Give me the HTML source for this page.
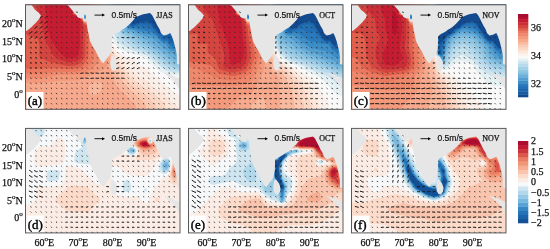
<!DOCTYPE html>
<html><head><meta charset="utf-8"><style>html,body{margin:0;padding:0;background:#fff;width:550px;height:249px;overflow:hidden}svg{display:block}</style></head>
<body>
<svg width="550" height="249" viewBox="0 0 550 249">
<style>.t{font-family:"Liberation Serif",serif;font-size:10px;fill:#111;stroke:#111;stroke-width:.25px}.s{font-family:"Liberation Sans",sans-serif;font-size:8.5px;fill:#111;stroke:#111;stroke-width:.2px}.m{font-family:"Liberation Serif",serif;font-size:8px;fill:#111;stroke:#111;stroke-width:.25px}.l{font-family:"Liberation Serif",serif;font-size:13px;fill:#000;stroke:#000;stroke-width:.4px}</style>
<defs><clipPath id="cp"><rect x="0" y="0" width="154.5" height="104.5"/></clipPath>
<g id="land"><g fill="#e6e6e6"><polygon points="-0.5,0.0 6.0,0.0 9.5,5.0 13.2,7.9 15.4,10.8 14.0,13.7 10.3,18.0 6.0,22.3 1.5,25.9 -0.5,26.7"/><polygon points="41.1,0.0 42.9,1.0 46.5,5.2 48.5,7.5 52.3,6.5 53.1,7.3 50.5,9.1 52.0,12.4 55.5,13.7 57.5,13.5 58.5,9.7 59.8,8.8 60.8,12.7 60.7,16.2 61.5,20.9 62.5,26.2 64.5,36.2 67.5,42.2 70.1,46.2 73.1,52.2 75.5,56.5 77.9,58.5 79.8,55.9 82.2,52.8 84.5,49.8 85.8,45.0 86.4,40.2 86.5,32.7 87.9,29.9 90.8,28.5 93.5,27.1 96.4,25.0 99.9,22.9 102.7,20.7 105.5,17.9 107.6,15.8 109.7,13.0 111.8,11.6 115.5,10.2 117.7,9.4 121.8,8.7 124.5,8.1 126.5,10.1 127.9,12.8 130.0,16.9 132.0,21.0 134.1,24.4 135.5,28.2 138.0,30.8 141.5,29.9 144.8,28.2 146.5,31.6 148.2,36.7 149.5,41.7 150.7,46.8 151.3,51.2 151.5,59.2 155.5,60.2 155.5,0.0"/><polygon points="86.0,50.7 88.0,51.7 90.5,55.2 92.0,59.2 91.5,63.2 89.5,66.0 87.0,65.7 85.2,62.7 84.8,58.2 85.3,54.2"/><polygon points="138.0,67.7 144.5,69.2 149.5,71.7 155.5,74.2 155.5,87.2 150.5,79.2 145.5,73.7 140.5,69.7"/></g></g></defs>
<g transform="translate(25.5 4.8)">
<g clip-path="url(#cp)">
<rect width="154.5" height="104.5" fill="#fff"/>
<rect x="-2" y="-2" width="158.5" height="108.5" fill="#12498f"/>
<path fill="#175aa0" d="M-2 -2L157 -2L157 107L-2 107ZM119 5.9L115 7.6L109 11.8L107.7 14L106.7 19L108 19.1L116 16.7L121 15.9L123 16.2L127 19L133 26.7L134 27.4L134.6 27L133.1 20L130.3 12L125 6.5L121 5.3Z"/>
<path fill="#1e66ac" d="M-2 -2L109.1 -2L109.4 8L106.5 14L105 18.7L105.1 20L106 20.8L107 20.8L115 18L123 17.6L126 19.6L132.5 28L135 29.5L136.1 29L136 26L132.2 13L129.7 7L130 -2L157 -2L157 107L-2 107ZM144 29.9L141 31.4L138 31.5L137.3 32L138 33.2L141 32.8L142 33.2L146 37.1L147 36.5L147.1 35L145.5 31Z"/>
<path fill="#2470b5" d="M-2 -2L105.3 -2L105.5 9L103.9 19L104.5 21L107 21.8L113 19.8L116 19.4L124 20.3L126 21.8L132 28.8L134.8 31L137 34.3L142 34.7L145 38.2L147 38.9L148 37.7L148.3 36L146.2 30L144 28.8L140 29.8L139 29.6L138 28.7L136 22.6L134.6 15L135.2 -2L157 -2L157 107L-2 107ZM59 11.8L59 12.2L60 12.4L60 11.6Z"/>
<path fill="#2b7bbc" d="M-2 -2L101.8 -2L101.9 13L103 16L103.1 20L104 22L106 22.7L114 21.7L126 24.4L128 25.8L133.3 31L136.4 35L138 35.7L142 36.1L146 40.9L147 41.8L148 41.8L149.4 36L147.5 30L145 27.6L140 28L139 27L138.1 23L138 19.7L140.2 13L140.4 -2L157 -2L157 107L-2 107ZM60 10.9L59 11L59 13L60 13.1Z"/>
<path fill="#3c8cc6" d="M-2 -2L99.5 -2L99.6 13L101.6 17L103 22.3L105 23.4L110 23.6L127 27.5L132.7 32L136 35.9L138 36.7L141 37L142 37.8L145.4 43L147 44.2L149.1 44L150.5 42L150.9 35L148.4 26L148.6 25L153 20.2L153.7 20L154 19.1L154.7 19L155 18L157 18L157 107L-2 107ZM59 10.7L58.9 13L60 13.4L60.2 11Z"/>
<path fill="#529ed0" d="M-2 -2L97.5 -2L97.6 13L98.3 15L100.5 18L102 22.8L103 23.8L109 24.9L113 26.7L129 31.4L132 33.4L136 37.5L140.2 39L144 44L147 45.9L150 45.9L154 43.2L157 42.4L157 107L-2 107ZM59 10.4L58.8 13L59 13.6L60 13.7L60.3 11L60 10.4Z"/>
<path fill="#68aed9" d="M-2 -2L95.6 -2L95.9 14L99.4 19L101 24L101.9 25L107.2 26L112 28.7L126.7 34L131 36.9L137.7 43L145.8 48L150 51.3L157 51.7L157 107L-2 107ZM59 10.1L58.6 13L59 13.9L60 14L60.4 11L60 10.1Z"/>
<path fill="#7cbbdf" d="M-2 -2L93.7 -2L93.9 14L98.7 21L99.4 26L100 26.6L106 27.5L111 30.7L123 36.3L131 42.7L138 46.9L149 54.8L151 55.4L157 55.4L157 107L-2 107ZM51 7.3L51 8.2L52.4 8L52 7.3ZM59 9.9L58.5 13L59 14.1L60 14.2L60.5 11L60 9.8Z"/>
<path fill="#91c6e3" d="M-2 -2L91.8 -2L92 14L93.4 17L97.3 22L97.7 26L99 27.9L105 29.4L134.8 48L141.3 53L149 58L151 58.5L157 58.6L157 107L-2 107ZM51 7L50.4 8L52.6 8L52.1 7ZM59 9.7L58.4 11L58.4 13L59 14.4L60 14.4L60.7 13L60.7 11L60 9.6Z"/>
<path fill="#a2cfe7" d="M-2 -2L90.1 -2L90.5 15L92 18.3L95.5 23L96.6 27L98 28.8L103 31.1L112 37.6L131.7 49L140 55.4L148 60.6L151 61.5L157 61.5L157 107L-2 107ZM51 6.9L50.2 8L52 8.5L52.8 8L52.3 7ZM59 9.5L58.3 11L58.3 13L59 14.6L60 14.6L60.8 13L60.8 11L60 9.4Z"/>
<path fill="#b6daec" d="M-2 -2L88.5 -2L88.8 15L90.7 20L93.4 24L95.1 28L97 30.4L111 40.8L122 45.8L129 50L139 57.8L145.4 62L150 63.7L157 63.9L157 107L-2 107ZM51 6.8L50 8L52 8.6L53 8L52.6 7ZM59 9.2L58.1 11L58.1 13L59 14.8L60 14.9L60.9 13L60.9 11L60 9.2Z"/>
<path fill="#c9e2ef" d="M-2 -2L86.9 -2L87.3 16L92 28.7L95 33.2L108 42.7L121 47.8L125 50L136.1 59L143 63.6L149 65.7L157 66L157 107L-2 107ZM51 6.7L50.2 7L50 8.1L52 8.7L53.2 8L52.8 7ZM60 9L59 9L58 11L58 13L59 15L60 15.1L61.1 13L61 11Z"/>
<path fill="#e5f0f3" d="M-2 -2L85.3 -2L85.3 13L85.9 18L89.5 32L93 37.4L97 40.3L105 44.8L122 50.7L129 57L140 65.5L148 67.8L157 68.1L157 107L-2 107ZM50 7L49.7 8L51 8.8L53.3 8L53 7L52 6.5ZM59 8.8L58 10.6L57.9 13L59 15.2L60 15.3L61 13.7L61.2 11L60 8.8Z"/>
<path fill="#f9f9fa" d="M-2 -2L83.7 -2L83.8 15L85.6 31L86.7 34L92 42.3L94 43.8L102 47.7L112 49.9L120 52.8L125 58.6L129.8 62L134 66.3L138 68.6L146 70.1L157 70.4L157 107L-2 107ZM50 6.9L49.6 8L51 9L52 9L53.5 8L53.2 7L52 6.4ZM59 8.6L58 10.2L57.8 13L59 15.5L60 15.5L61 14L61.3 11L60 8.6Z"/>
<path fill="#fbf0e9" d="M-2 -2L82.2 -2L82.8 33L91 45.7L93 48L102 52.8L109.3 54L110.2 55L112 60.4L119 62L121 63L125.4 68L130.9 72L138.3 79L144.9 84L150 89.4L157 89.9L157 107L-2 107ZM50 6.7L49.4 8L50.8 9L52.2 9L53.6 8L53.4 7L52 6.3ZM59 8.4L57.9 10L57.7 13L59 15.7L60 15.7L61.2 14L61.4 11L60.6 9L60 8.3Z"/>
<path fill="#fce5d9" d="M-2 -2L80.8 -2L81 33.2L83 38L92 51.6L96.5 56L101 63.3L106.9 67L112 71.3L120 75.5L127.5 82L138 88.5L155 105L155 107L-2 107ZM50 6.6L49.3 8L50.5 9L52 9.2L53.8 8L53 6.6ZM59 8.2L57.8 10L57.6 13L58.2 15L59 15.9L60 16L61.3 14L61.5 11L60.8 9L60 8.1Z"/>
<path fill="#fbd8c6" d="M-2 -2L79.5 -2L79.5 32L80 35L82 40.3L88 48.4L92 56.8L100 67.3L111 77.3L129.8 90L138.2 98L139.9 101L140 107L-2 107ZM50 6.5L49.1 8L50.1 9L52 9.3L54 8L53 6.4ZM59 7.9L57.6 10L57.4 13L58 15L59 16.1L60 16.2L61.5 14L61.6 11L61 9L60 7.9Z"/>
<path fill="#facab5" d="M-2 -2L78.2 -2L78.3 33L80.9 42L87 50L90 58.4L92 62.2L101 73.9L110 82.9L121.4 91L129.4 99L130.3 101L130.4 107L-2 107ZM50 6.3L49.1 7L48.9 8L50 9.1L52 9.4L54.1 8L53.9 7L53 6.3ZM59 7.7L57.5 10L57.3 13L58 15.3L59 16.4L60 16.5L61.6 14L61.8 11L61 8.6L60 7.6Z"/>
<path fill="#f8b99f" d="M-2 -2L76.9 -2L77 33L79 42L80 44L85.7 51L89.7 65L96.6 76L105.8 86L112.8 92L119.7 99L120.6 101L120.7 107L-2 107ZM51 5.9L49 7L49 8.3L51 9.5L53.5 9L54.3 8L54.1 7L53 6.2ZM59 7.4L57.4 10L57.2 13L58 15.6L59 16.7L60 16.7L61.5 15L61.9 11L61 8.3L60 7.4Z"/>
<path fill="#f6a98d" d="M-2 -2L75.6 -2L75.7 33L77.4 43L79.1 46L83 49.9L84.3 52L85.9 68L89 77L95 85.6L101 90.6L105 95.4L110.2 100L110.7 102L110.7 107L-2 107ZM51 5.8L48.7 7L49 8.6L51 9.6L53.7 9L54.5 8L54.4 7L53 6ZM59 7.2L57.5 9L57.1 13L58 15.9L59 16.9L60 17L61.7 15L62 11L61 8L60 7.1ZM71 76.8L63.6 81L63 84L64 89L67 89.8L71.4 90L73 89.3L75 86.8L76.6 83L76.7 80L74 77Z"/>
<path fill="#f3997c" d="M-2 -2L74.3 -2L74.7 38L75.4 43L76.4 46L78 48.5L81.2 51L82.5 53L82 59.3L81 62.2L79 64L73 66.5L68 69.5L53 75.8L35 76L15 78.3L-2 78.4ZM50 5.9L48.5 7L48.4 8L50 9.5L53 9.6L54.7 8L54.6 7L53 5.9ZM59 6.9L57.3 9L57 13L58 16.4L59 17.3L60 17.4L61.8 15L62.3 11L61 7.6L60 6.8Z"/>
<path fill="#ef896d" d="M-2 -2L72.9 -2L73.1 40L74 47.5L76 52L75.7 54L68.9 62L66 64.6L61 67.3L55 69.2L50 69.8L33 69.9L14 73.6L-2 73.6ZM50 5.7L48.3 7L48.2 8L50 9.7L53 9.7L54.9 8L54.8 7L53 5.7ZM59 6.5L57.1 9L56.7 13L58 16.8L59 17.7L60 17.8L61.7 16L62.5 11L61 7.2L60 6.4Z"/>
<path fill="#ea795f" d="M-2 -2L71 -2L70.7 15L69.2 34L69.1 51L68 54L63 61.2L58 64.6L52 66.6L43 67.1L33 66.6L14 68.8L-2 68.9ZM50 5.5L48.1 7L48 8L49 9.4L51 10L53 9.9L54.7 9L55.3 8L55 7L53 5.5ZM58 6.9L56.6 10L56.7 14L58 17.3L60 18.3L61.6 17L62.5 15L62.6 10L61 6.7L59 6.1Z"/>
<path fill="#e15f4d" d="M-2 -2L68.3 -2L67.4 15L63.3 33L62.9 52L61 56.4L58.3 60L55.7 62L53 63.2L45 64.3L33 63.4L-2 64.1ZM49 5.8L47.8 7L47.7 8L48.2 9L50 10L52 10.3L54 9.7L55.7 8L55.5 7L53 5.3L51 5.2ZM59 5.6L56.7 8L56.3 13L57.4 17L59 18.7L60 18.9L61.5 18L62.7 16L63.1 12L62.7 9L61.8 7L60 5.5Z"/>
<path fill="#d54540" d="M-1 -2L65.5 -2L65.3 7L65 9L64 10.9L62.6 7L60 4.8L56 7.1L54 5.4L52 5L49 5.5L47.5 7L47.9 9L50 10.3L53 10.4L56 9.3L56.3 15L57.5 18L59 19.7L61.7 21L60.1 33L59.6 51L58.5 54L55.3 58L52 60L45 61.3L42 61.3L26 57.8L18.4 55L14.2 52L13.7 51L14 42L13 35L12 33.9L5.1 32L.3 29L0 28.1L-1 28Z"/>
<path fill="#cc2e38" d="M11.3 -2L62.3 -2L62 3.1L59 3.8L56 6L53 4.7L50 4.8L48 5.8L47.1 7L47.4 9L50 10.7L53 10.7L55 10.1L56.3 17L58.1 22L56.6 50L55.7 53L54 55L51 56.5L43 57.7L32.3 54L28.1 51L21.4 39L19.8 35L15.8 19L11.6 6Z"/>
<path fill="#c51c31" d="M19.3 -2L56.3 -2L55.8 4L49 4.5L46.4 7L46.7 9L48 10.3L51 11.3L54 11.4L54.6 12L54.9 19L54.3 43L53 50.1L51.6 52L44 53.8L42 53.5L39 52L32.7 46L25 33.9L21.9 24L19.4 4Z"/>
<use href="#land"/>
<path d="M10.3 1.9L10.8 2.5M15.3 2L16.1 2.4M20.5 1.9L21.1 2.5M25.7 1.9L26.2 2.5M30.7 2.1L31.5 2.3M35.8 2L36.5 2.4M41.2 1.8L41.4 2.6M15.6 6.9L15.8 7.7M20.6 6.9L21 7.7M25.6 7.1L26.3 7.5M30.7 7.1L31.4 7.5M35.9 7L36.4 7.6M41 7L41.6 7.5M46.1 7.1L46.8 7.5M51.4 6.9L51.7 7.7M25.8 12L26.1 12.8M30.9 12L31.2 12.8M35.8 12.2L36.6 12.5M40.9 12.2L41.7 12.5M46.2 12L46.7 12.7M51.3 12L51.8 12.7M25.7 17.1L26.2 17.8M30.7 17.2L31.4 17.7M35.9 17.1L36.4 17.8M41.1 17.1L41.5 17.8M46 17.3L46.8 17.7M51.1 17.4L52 17.6M56.4 17.1L56.9 17.8M107.5 17.2L108.2 17.7M112.7 17.2L113.3 17.8M117.8 17.1L118.4 17.8M122.8 17.3L123.6 17.6M128 17.3L128.7 17.7M25.5 22.4L26.3 22.7M30.8 22.2L31.3 22.9M36.1 22.2L36.3 23M41 22.3L41.6 22.9M46.1 22.3L46.8 22.8M51.3 22.2L51.8 22.9M56.3 22.3L57 22.8M102.4 22.3L103.1 22.8M107.7 22.2L108 23M112.8 22.2L113.1 23M117.7 22.4L118.5 22.8M122.9 22.3L123.6 22.8M128.1 22.2L128.6 22.9M25.7 27.3L26.2 28M30.7 27.4L31.4 27.9M35.8 27.5L36.6 27.8M41 27.3L41.6 28M46.3 27.2L46.5 28.1M51.3 27.3L51.8 28M56.3 27.5L57.1 27.8M61.5 27.4L62.1 27.9M97.2 27.4L98 27.9M102.5 27.3L103 28M107.5 27.4L108.2 27.9M112.6 27.4L113.3 27.9M117.9 27.3L118.3 28M123.1 27.2L123.4 28.1M128 27.4L128.7 27.9M133.1 27.5L133.9 27.8M25.6 32.5L26.3 33M30.7 32.6L31.5 32.9M35.9 32.5L36.5 33M41 32.4L41.6 33.1M46.1 32.5L46.8 33M51.2 32.4L51.8 33M56.6 32.3L56.8 33.1M61.5 32.4L62 33.1M87.1 32.5L87.7 33M92.3 32.4L92.7 33.1M112.7 32.4L113.2 33.1M117.9 32.4L118.3 33.1M122.9 32.5L123.5 33M128.1 32.4L128.6 33.1M133.3 32.4L133.6 33.1M138.2 32.5L138.9 33M143.3 32.7L144.1 32.8M20.5 37.6L21.1 38.1M25.7 37.5L26.2 38.2M30.9 37.4L31.2 38.2M35.9 37.5L36.5 38.1M40.9 37.7L41.7 37.9M46.1 37.6L46.8 38.1M51.4 37.5L51.7 38.2M56.4 37.5L56.9 38.2M61.5 37.6L62.1 38.1M87.2 37.5L87.6 38.2M92.3 37.4L92.7 38.2M97.3 37.6L97.9 38.1M102.5 37.5L103 38.1M107.6 37.5L108.1 38.2M112.6 37.6L113.3 38M117.7 37.7L118.5 37.9M123 37.5L123.5 38.2M128.2 37.4L128.5 38.2M133.2 37.5L133.7 38.1M138.2 37.6L138.9 38.1M143.5 37.5L143.9 38.2M20.5 42.7L21.1 43.2M25.8 42.5L26.1 43.3M30.8 42.6L31.3 43.3M35.8 42.7L36.5 43.2M41.1 42.6L41.5 43.3M46.1 42.6L46.7 43.2M51.1 42.8L51.9 43M56.3 42.7L57 43.1M61.6 42.5L61.9 43.3M66.7 42.5L67.1 43.3M87 42.7L87.8 43.1M92.1 42.8L92.9 43.1M97.4 42.6L97.8 43.3M102.6 42.5L102.8 43.3M107.6 42.6L108.2 43.2M112.6 42.7L113.3 43.1M117.8 42.6L118.4 43.2M122.9 42.6L123.5 43.2M127.9 42.8L128.7 43.1M133.2 42.6L133.8 43.2M138.5 42.5L138.7 43.3M143.5 42.6L143.9 43.3M148.4 42.7L149.2 43.1M20.5 47.7L21.1 48.3M25.5 47.9L26.3 48.1M30.7 47.8L31.4 48.3M36.1 47.6L36.3 48.4M41.1 47.6L41.5 48.4M46.1 47.8L46.8 48.2M51.2 47.7L51.9 48.3M56.4 47.7L56.9 48.3M61.4 47.8L62.2 48.2M66.5 47.8L67.3 48.2M87 47.8L87.8 48.2M92.2 47.7L92.8 48.3M97.3 47.7L97.9 48.3M102.4 47.8L103.1 48.2M107.6 47.7L108.1 48.4M112.9 47.6L113.1 48.4M117.8 47.7L118.4 48.3M122.8 47.9L123.6 48.1M128 47.7L128.7 48.3M133.2 47.7L133.7 48.3M138.2 47.8L138.9 48.2M143.4 47.7L144 48.3M148.7 47.6L148.9 48.4M20.4 52.9L21.2 53.3M25.6 52.9L26.3 53.3M30.8 52.8L31.3 53.4M35.8 52.9L36.5 53.3M40.9 52.9L41.7 53.3M46.3 52.7L46.6 53.5M51.4 52.7L51.7 53.5M56.3 52.9L57 53.3M61.4 52.9L62.2 53.3M66.6 52.8L67.2 53.4M71.7 52.8L72.3 53.4M117.8 52.8L118.4 53.4M123.1 52.7L123.4 53.5M128.1 52.8L128.6 53.4M133 53L133.9 53.2M138.2 52.9L139 53.3M143.5 52.7L143.9 53.5M148.6 52.8L149.1 53.4M20.7 57.8L21 58.6M25.8 57.8L26.1 58.6M30.7 58L31.5 58.3M35.8 58L36.6 58.3M41 57.9L41.6 58.5M46.2 57.9L46.7 58.5M51.2 57.9L51.9 58.4M56.4 57.8L56.9 58.6M61.6 57.8L61.9 58.6M66.5 58L67.3 58.4M71.6 58.1L72.4 58.3M82.1 57.8L82.5 58.6M117.9 57.8L118.3 58.6M123 57.8L123.5 58.5M128 57.9L128.7 58.5M133.2 57.8L133.7 58.5M138.3 57.8L138.8 58.5M143.3 58.1L144.1 58.3M148.4 58L149.2 58.3M20.6 62.9L21.1 63.6M25.6 63L26.3 63.5M30.8 62.9L31.3 63.6M36 62.9L36.4 63.7M40.9 63.1L41.7 63.5M46 63.2L46.8 63.4M51.3 62.9L51.8 63.6M56.5 62.9L56.8 63.7M61.5 63L62.1 63.6M66.6 63L67.2 63.6M71.8 62.9L72.2 63.7M76.8 63L77.5 63.5M81.8 63.2L82.7 63.4M117.7 63.1L118.5 63.4M122.8 63.1L123.6 63.5M128.2 62.9L128.5 63.7M133.3 62.9L133.6 63.7M138.2 63L138.9 63.5M143.4 63L144 63.5M148.6 62.9L149.1 63.6M20.4 68.2L21.2 68.5M25.7 68L26.2 68.7M30.9 68L31.2 68.8M35.9 68.1L36.5 68.7M41 68.1L41.6 68.6M46.2 68L46.7 68.7M51.2 68.1L51.9 68.6M102.6 68L102.8 68.8M107.7 68L108 68.8M112.6 68.2L113.4 68.6M117.7 68.1L118.5 68.6M123 68L123.5 68.7M128 68.1L128.7 68.6M133.1 68.2L133.8 68.6M143.6 68L143.8 68.8M148.5 68.1L149.2 68.6M5.3 73.1L5.6 73.9M10.2 73.2L10.9 73.7M15.3 73.2L16.1 73.7M20.6 73.1L21.1 73.8M25.6 73.2L26.3 73.7M30.7 73.3L31.5 73.6M35.9 73.1L36.4 73.8M41.2 73L41.4 73.9M46.1 73.2L46.7 73.8M51.2 73.3L51.9 73.6M102.4 73.2L103.1 73.7M107.5 73.2L108.2 73.7M112.8 73.1L113.1 73.9M118 73.1L118.2 73.9M122.8 73.3L123.6 73.7M127.9 73.3L128.7 73.6M133.2 73.1L133.7 73.8M138.3 73.1L138.8 73.8M143.4 73.2L144 73.7M5.1 78.3L5.8 78.8M10.4 78.2L10.8 78.9M15.6 78.1L15.8 79M20.5 78.3L21.2 78.8M25.5 78.4L26.3 78.7M30.8 78.3L31.4 78.8M35.9 78.2L36.5 78.9M40.9 78.3L41.7 78.8M46.1 78.2L46.7 78.9M51.4 78.1L51.6 79M56.4 78.2L56.9 78.9M61.4 78.4L62.2 78.7M66.5 78.3L67.3 78.8M71.8 78.2L72.3 78.9M76.8 78.3L77.5 78.8M81.9 78.3L82.6 78.8M87.2 78.2L87.5 78.9M92.3 78.2L92.7 78.9M97.2 78.4L98 78.7M102.3 78.4L103.1 78.7M107.6 78.2L108.1 78.9M112.7 78.2L113.2 78.9M117.8 78.3L118.4 78.8M123 78.2L123.5 78.9M128.2 78.2L128.5 78.9M133.1 78.3L133.8 78.8M138.2 78.5L139 78.6M143.4 78.2L144 78.9M148.7 78.2L149 78.9M5.2 83.3L5.7 84M10.3 83.3L10.8 84M15.4 83.4L16 83.9M20.6 83.3L21.1 84M25.8 83.2L26.1 84M30.8 83.3L31.4 83.9M35.8 83.6L36.6 83.7M41 83.4L41.6 83.9M46.2 83.3L46.6 84M51.3 83.3L51.8 84M56.3 83.4L57 83.9M61.6 83.3L62 84M66.7 83.3L67.1 84M71.6 83.5L72.4 83.8M76.7 83.5L77.5 83.8M82.1 83.3L82.5 84M87.2 83.3L87.6 84M92.2 83.4L92.8 83.9M97.4 83.3L97.9 84M102.5 83.3L103 84M107.5 83.4L108.2 83.8M112.6 83.5L113.4 83.7M117.8 83.3L118.4 84M123.1 83.2L123.4 84M128 83.3L128.6 83.9M133.1 83.4L133.8 83.9M138.3 83.3L138.8 84M143.4 83.4L144 83.9M148.4 83.5L149.2 83.7M5.1 88.5L5.8 89M10.2 88.7L11 88.8M15.4 88.4L16 89M20.7 88.3L21 89.1M25.7 88.4L26.2 89.1M30.7 88.5L31.4 89M36 88.4L36.4 89.1M41 88.4L41.6 89M46 88.6L46.8 88.8M51.2 88.5L51.9 88.9M56.5 88.3L56.8 89.1M61.6 88.4L62 89.1M66.6 88.5L67.2 89M71.7 88.4L72.3 89M76.9 88.4L77.4 89.1M81.9 88.6L82.6 88.9M87 88.6L87.8 88.9M92.3 88.4L92.7 89.1M97.5 88.3L97.7 89.1M102.4 88.4L103.1 89M107.5 88.5L108.2 89M112.7 88.4L113.2 89.1M117.8 88.5L118.4 89M122.8 88.6L123.6 88.9M128.1 88.4L128.6 89M133.4 88.3L133.5 89.1M138.3 88.4L138.8 89.1M143.3 88.5L144.1 88.9M148.5 88.4L149.1 89M5.1 93.6L5.8 94.1M10.3 93.5L10.8 94.2M15.4 93.5L16 94.1M20.4 93.7L21.2 93.9M25.6 93.6L26.3 94.1M31 93.4L31.2 94.2M36 93.4L36.4 94.2M40.9 93.6L41.7 94M46.1 93.5L46.7 94.1M51.3 93.5L51.8 94.1M56.3 93.6L57 94M61.4 93.6L62.2 94M66.7 93.4L67.1 94.2M71.9 93.4L72.1 94.2M76.8 93.6L77.5 94.1M81.9 93.6L82.6 94M87.1 93.5L87.7 94.1M92.2 93.6L92.8 94.1M97.2 93.6L98 94M102.5 93.5L103 94.2M107.8 93.4L107.9 94.2M112.7 93.5L113.3 94.1M117.7 93.7L118.5 94M122.9 93.5L123.5 94.1M128.1 93.5L128.6 94.1M133.1 93.6L133.8 94M138.3 93.5L138.9 94.1M143.6 93.4L143.8 94.2M148.6 93.5L149 94.2M5.4 98.5L5.5 99.3M10.3 98.6L10.8 99.3M15.3 98.7L16.1 99.1M20.5 98.6L21.2 99.2M25.7 98.6L26.2 99.2M30.7 98.7L31.4 99.1M35.8 98.7L36.5 99.2M41.2 98.5L41.4 99.3M46.3 98.5L46.6 99.3M51.2 98.7L51.9 99.1M56.3 98.7L57 99.1M61.5 98.6L62.1 99.2M66.6 98.6L67.2 99.2M71.7 98.7L72.4 99.1M76.9 98.5L77.3 99.3M82.2 98.5L82.4 99.3M87 98.6L87.7 99.2M92.1 98.8L92.9 99M97.3 98.6L97.9 99.2M102.5 98.6L103 99.3M107.5 98.7L108.2 99.2M112.7 98.6L113.3 99.2M118 98.5L118.2 99.3M123 98.6L123.5 99.2M127.9 98.8L128.8 99M133.1 98.7L133.8 99.1M138.4 98.5L138.8 99.3M143.4 98.6L144 99.2M148.5 98.6L149.1 99.2M5.1 103.8L5.8 104.2M10.3 103.7L10.9 104.3M15.6 103.6L15.8 104.4M20.6 103.6L21 104.4M25.5 103.9L26.3 104.1M30.7 103.8L31.4 104.2M35.9 103.7L36.4 104.3M41 103.7L41.6 104.3M46.1 103.7L46.8 104.3M51.3 103.6L51.7 104.4M56.5 103.6L56.8 104.4M61.4 103.8L62.1 104.2M66.5 103.9L67.3 104.1M71.7 103.7L72.3 104.3M76.9 103.6L77.4 104.4M81.9 103.7L82.6 104.3M87.1 103.7L87.7 104.3M92.3 103.6L92.7 104.4M97.3 103.7L97.9 104.3M102.3 103.9L103.2 104.1M107.5 103.8L108.2 104.2M112.8 103.6L113.2 104.4M117.8 103.7L118.4 104.3M122.9 103.7L123.5 104.3M128.1 103.6L128.6 104.4M133.2 103.7L133.7 104.3M138.2 103.9L139 104.1M143.3 103.8L144.1 104.2M148.6 103.6L149 104.4" stroke="#2a2a2a" stroke-width="0.8" fill="none" stroke-linecap="round"/><path d="M14.2 13.6L16 12.1M19.4 13.6L21.1 12.1M14.4 18.9L16 17.2M19.2 18.5L21.2 17.2M9 23.7L10.9 22.3M14.1 23.7L16 22.3M19.5 23.9L21.1 22.3M3.8 28.6L5.8 27.4M8.9 28.6L10.9 27.4M14.3 28.9L16 27.4M19.4 29L21.1 27.4M4 34L5.8 32.5M9.2 34.1L10.9 32.4M14.1 33.8L16.1 32.5M19.1 33.6L21.2 32.5M96 32.6L97.7 32.8M101.2 33L102.8 32.7M106.3 33L108 32.7M4.3 37.3L5.2 37.7M9.6 37.1L10.4 37.7M14.8 37L15.5 37.7M4.6 42.1L5.3 42.7M9.6 42.2L10.4 42.8M14.6 42.4L15.5 42.8M4.5 47.2L5.3 47.9M9.5 47.3L10.4 47.9M14.7 47.2L15.5 47.9M4.5 52.4L5.3 53M9.8 52.2L10.4 52.9M14.8 52.3L15.5 52.9M90.9 53.9L92.7 53M96.2 54.1L97.8 52.9M101.2 53.9L103 53M106.2 53.7L108.1 53M111.4 53.9L113.2 53M4.5 57.4L5.3 58M9.5 57.5L10.4 58M14.7 57.5L15.5 58M90.9 58.9L92.7 58.1M95.9 58.7L97.9 58.1M101.1 58.9L103 58.1M106.4 59.3L108.1 58M111.4 59.1L113.2 58.1M4.3 62.7L5.2 63.2M9.5 62.7L10.4 63.2M14.8 62.4L15.5 63.1M90.8 63.7L92.8 63.2M96 63.9L97.9 63.2M101.2 64.1L103 63.2M106.2 64L108.1 63.2M111.4 64L113.2 63.2M4.5 67.6L5.3 68.2M9.6 67.6L10.4 68.2M14.6 67.8L15.5 68.2M54.8 68.6L57.1 68.3M59.9 68.2L62.2 68.4M65.1 67.9L67.3 68.5M70.1 68.2L72.4 68.4M75.2 68.4L77.5 68.4M80.4 68.2L82.7 68.4M85.5 68.3L87.8 68.4M90.6 68.5L92.9 68.3M95.7 68.4L98 68.4M54.8 73.4L57.1 73.5M59.9 73.3L62.2 73.5M65 73.6L67.3 73.4M70.1 73.4L72.4 73.5M75.3 73L77.5 73.6M80.4 73.2L82.7 73.5M85.5 73.6L87.8 73.4M90.6 73.5L92.9 73.4M95.7 73.3L98 73.5" stroke="#1a1a1a" stroke-width="1" fill="none"/><path d="M17.2 11.1L16.6 12.8L15.5 11.5ZM22.3 11.1L21.7 12.7L20.6 11.5ZM17 16.1L16.6 17.7L15.4 16.6ZM22.4 16.4L21.6 17.9L20.7 16.5ZM12.1 21.4L11.4 23L10.4 21.6ZM17.3 21.5L16.5 23L15.6 21.6ZM22.2 21.2L21.7 22.9L20.5 21.7ZM7.1 26.7L6.3 28.2L5.4 26.7ZM12.3 26.7L11.4 28.2L10.5 26.7ZM17.1 26.4L16.6 28L15.5 26.7ZM22.2 26.3L21.7 28L20.5 26.7ZM6.9 31.5L6.3 33.1L5.2 31.8ZM12 31.4L11.5 33.1L10.3 31.8ZM17.3 31.7L16.5 33.2L15.6 31.8ZM22.5 31.9L21.6 33.3L20.8 31.8ZM99.2 32.9L97.6 33.6L97.8 31.9ZM104.3 32.5L103 33.6L102.7 31.9ZM109.4 32.5L108.1 33.6L107.8 31.9ZM6.6 38.4L4.9 38.5L5.6 37ZM11.6 38.6L9.9 38.4L10.9 37ZM16.6 38.7L15 38.3L16.1 37ZM6.4 43.8L4.7 43.4L5.9 42.1ZM11.6 43.6L9.9 43.5L10.9 42.1ZM16.8 43.4L15.1 43.6L15.8 42ZM6.4 48.8L4.7 48.5L5.8 47.2ZM11.6 48.7L9.9 48.6L10.8 47.2ZM16.7 48.8L15 48.5L16 47.2ZM6.5 53.8L4.8 53.6L5.8 52.3ZM11.4 54L9.8 53.5L11.1 52.3ZM16.6 53.9L14.9 53.6L16.1 52.3ZM94.1 52.3L93.1 53.7L92.4 52.2ZM99.1 52.1L98.3 53.6L97.3 52.3ZM104.3 52.3L103.4 53.7L102.6 52.2ZM109.5 52.5L108.4 53.8L107.8 52.2ZM114.6 52.3L113.6 53.7L112.8 52.2ZM6.4 59L4.7 58.7L5.8 57.4ZM11.6 58.9L9.9 58.8L10.9 57.3ZM16.7 58.9L15 58.7L16 57.4ZM94.1 57.5L93.1 58.9L92.4 57.3ZM99.3 57.7L98.1 58.9L97.6 57.3ZM104.3 57.4L103.3 58.8L102.6 57.3ZM109.3 57.1L108.6 58.7L107.6 57.3ZM114.5 57.3L113.6 58.8L112.8 57.3ZM6.6 63.8L4.9 63.9L5.6 62.4ZM11.7 63.9L9.9 63.9L10.8 62.4ZM16.6 64.1L14.9 63.7L16.1 62.5ZM94.2 62.8L93 64L92.5 62.4ZM99.3 62.6L98.2 64L97.6 62.4ZM104.3 62.4L103.4 63.9L102.6 62.4ZM109.5 62.6L108.4 64L107.8 62.4ZM114.6 62.6L113.6 64L112.9 62.4ZM6.4 69.2L4.7 68.9L5.8 67.6ZM11.5 69.2L9.8 68.9L10.9 67.6ZM16.8 69L15.1 69L15.9 67.5ZM58.5 68.1L57.2 69.2L57 67.5ZM63.7 68.5L62.1 69.2L62.2 67.6ZM68.7 68.8L67.1 69.3L67.5 67.6ZM73.9 68.6L72.3 69.3L72.5 67.6ZM79 68.3L77.6 69.2L77.5 67.5ZM84.2 68.5L82.6 69.2L82.7 67.5ZM89.3 68.5L87.7 69.2L87.8 67.5ZM94.4 68.2L93 69.2L92.8 67.5ZM99.5 68.4L98 69.2L98 67.5ZM58.6 73.5L57 74.3L57.1 72.6ZM63.7 73.6L62.1 74.3L62.2 72.6ZM68.8 73.3L67.4 74.3L67.2 72.6ZM73.9 73.5L72.4 74.3L72.5 72.6ZM79 73.9L77.3 74.4L77.7 72.7ZM84.1 73.7L82.5 74.4L82.8 72.7ZM89.3 73.3L87.9 74.3L87.7 72.6ZM94.4 73.4L92.9 74.3L92.9 72.6ZM99.5 73.6L97.9 74.3L98.1 72.7Z" fill="#1a1a1a"/>
</g>
<path d="M69 10.3H78" stroke="#000" stroke-width="0.9"/><path d="M79.5 10.3l-3 -1.5v3z" fill="#000"/>
<text x="86" y="13.0" class="s">0.5m/s</text>
<text x="130.7" y="13.0" class="m">JJAS</text>
<rect x="1" y="87.2" width="17" height="17.3" fill="#fff"/>
<text x="2.2" y="100.4" class="l">(a)</text>
<rect width="154.5" height="104.5" fill="none" stroke="#5a5a5a" stroke-width="1"/>
</g>
<g transform="translate(188.5 4.8)">
<g clip-path="url(#cp)">
<rect width="154.5" height="104.5" fill="#fff"/>
<rect x="-2" y="-2" width="158.5" height="108.5" fill="#12498f"/>
<path fill="#175aa0" d="M-2 -2L157 -2L157 107L-2 107ZM120 7.9L116 8.4L109 11.8L103.2 19L102.6 21L102.8 23L104 23.6L107 22.9L111.9 19L116 17.1L121 16L123 16.4L126 19.1L131.6 29L136 34.8L138 35.7L142 35.7L146 40.1L147 40.6L147.7 40L148.7 36L146.4 30L144 28.6L140 29.4L138.7 29L135.3 23L130.7 12L127 8.5L125 7.4Z"/>
<path fill="#1e66ac" d="M-2 -2L157 -2L157 107L-2 107ZM59 11.6L59 12.4L60 12.6L60 11.4ZM118 6.9L115 7.6L108 11.7L102.5 19L101.4 24L102 24.7L103 24.7L107 23.6L112 19.9L115.9 18L121 17.1L123 17.6L125 19.3L130.8 29L135.3 35L137 36.1L141 36L142 36.5L146.9 43L148.2 43L148.9 42L149.4 36L147.7 31L146.4 29L144 28L140 28.6L138.8 28L136 22.8L131.8 12L127 7.2L124 6.1Z"/>
<path fill="#2470b5" d="M-2 -2L111.6 -2L111.2 6L102.2 18L99.1 26L100 27L101 26.8L108 24L115 19.9L119 19.4L123 19.9L125 21.7L129.8 29L135 35.7L137 36.8L141.2 37L143 38.9L146 43.8L148 44.4L149 44L150.2 42L149.6 34L148 30L146.3 28L144 27.2L140 27.6L138 25L133.5 12L130.4 6L130 -2L157 -2L157 107L-2 107ZM59 10.9L59 13.1L60 13.1L60 10.9Z"/>
<path fill="#2b7bbc" d="M-2 -2L104.6 -2L104.2 11L98 25L98.3 27L99.6 28L101 28.1L105.6 26L112 24.5L114.4 25L121 28.1L126 27.7L135 36.9L137 37.7L141 38L145 44.4L148 45.6L150 44.8L151.5 42L150.9 35L149.6 31L148.1 28L146 26.3L141 26.2L140 25.5L138.2 21L138.3 18L140.3 13L140.4 -2L157 -2L157 107L-2 107ZM59 10.6L58.9 13L60 13.4L60.2 11L60 10.6Z"/>
<path fill="#3c8cc6" d="M-2 -2L99.8 -2L100 16L99.2 20L97 25L97.2 27L98 28.2L101 29.2L105 27.8L108 27.8L121 36.2L140 39.7L143.6 45L147 47.1L149 47.4L151 46.8L157 41L157 107L-2 107ZM59 10.4L58.7 13L59 13.6L60 13.7L60.3 11L60 10.3Z"/>
<path fill="#529ed0" d="M-2 -2L96.6 -2L96.6 13L97.2 19L95.8 25L96 27L97.3 29L100 30.5L105.2 31L121 42.4L138.8 47L145.4 52L149 53.7L157 54.1L157 107L-2 107ZM60 10L59 10.1L58.6 11L59 13.9L60 14L60.5 13Z"/>
<path fill="#68aed9" d="M-2 -2L93.4 -2L93.9 25L94.6 28L96.9 31L102.3 34L114.9 43L121 46.5L149 57.5L157 57.9L157 107L-2 107ZM51 7.6L51 8.1L52.3 8L52 7.5ZM59 9.8L58.5 13L59 14.2L60 14.2L60.6 13L60.6 11L60 9.8Z"/>
<path fill="#7cbbdf" d="M-2 -2L91.3 -2L91.4 24L92.2 31L93.7 34L101 37.9L109 43.4L121 50.3L138 56.2L149 61.1L157 61.5L157 107L-2 107ZM51 7.1L50.6 8L51 8.3L52.5 8L52 7.1ZM59 9.6L58.4 11L58.4 13L59 14.4L60 14.5L60.7 13L60.7 11L60 9.5Z"/>
<path fill="#91c6e3" d="M-2 -2L89.8 -2L90.3 31L91 34.8L93 38.3L119.8 53L133 57.3L148 63.5L151 64.1L157 64.1L157 107L-2 107ZM51 6.9L50.4 8L52 8.4L52.7 8L52.2 7ZM59 9.4L58.3 11L58.3 13L59 14.6L60 14.7L60.8 13L60.8 11L60 9.3Z"/>
<path fill="#a2cfe7" d="M-2 -2L88.5 -2L88.9 32L91 39.5L93 42.7L108 50.9L130.3 59L143 64.3L150 66.4L157 66.5L157 107L-2 107ZM51 6.8L50.2 8L52 8.5L52.9 8L52.4 7ZM59 9.2L58.1 11L58.1 13L59 14.8L60 14.9L61 13L61 11L60 9.1Z"/>
<path fill="#b6daec" d="M-2 -2L87.2 -2L87.6 32L91 43.4L93 45.5L97 47.8L103 52.3L124 59.3L146 67.8L150 68.8L157 68.9L157 107L-2 107ZM51 6.7L50 8L52 8.6L53.1 8L52.7 7ZM59 9L58 11L58 13L59 15L60 15.1L61.1 13L61.1 11L60 8.9Z"/>
<path fill="#c9e2ef" d="M-2 -2L85.9 -2L86.2 32L89 42L91 46L93 48.1L102 54.4L113 57.7L134 66.4L149 71.5L157 71.9L157 107L-2 107ZM51 6.6L50.1 7L50 8.2L52 8.8L53.3 8L52.9 7ZM59 8.7L58 10.6L57.9 13L59 15.3L60 15.3L61 13.8L61.2 11L60 8.7Z"/>
<path fill="#e5f0f3" d="M-2 -2L84.7 -2L84.9 33L88.1 43L91 48.5L94.8 52L101 56.1L115.2 61L127 66.7L140.3 72L150 80.4L157 80.7L157 107L-2 107ZM50 7L49.7 8L51 8.9L52 8.9L53.4 8L53.1 7L52 6.5ZM59 8.5L58 10.1L57.8 13L59 15.5L60 15.5L61.1 14L61.3 11L60.5 9L60 8.5Z"/>
<path fill="#f9f9fa" d="M-2 -2L83.4 -2L83.6 33L87 43.6L91 51L94 53.9L100 57.7L110.9 62L119 66.6L130.7 72L139.2 80L144 86.3L148 89.4L151 90.6L157 90.6L157 107L-2 107ZM50 6.8L49.5 8L51 9L52 9L53.6 8L53.3 7L52 6.4ZM59 8.3L57.9 10L57.7 13L58.4 15L59 15.7L60 15.8L61.2 14L61.5 11L60.7 9L60 8.2Z"/>
<path fill="#fbf0e9" d="M-2 -2L82.1 -2L82.2 33L85.4 43L88 48.6L91 53.5L93 55.5L100 59.9L106.4 63L113 67.6L121.2 72L129.5 80L139.7 99L140.3 101L140.4 107L-2 107ZM50 6.7L49.4 8L50.7 9L52.4 9L53.7 8L53 6.6L51 6.3ZM59 8.1L57.8 10L57.6 13L58.2 15L59 15.9L60 16L61.4 14L61.6 11L60.9 9L60 8Z"/>
<path fill="#fce5d9" d="M-2 -2L80.8 -2L80.9 33L85.8 47L91 56.1L107 67.6L115.8 75L119.5 79L129.8 98L130.5 101L130.6 107L-2 107ZM50 6.5L49.2 8L50.3 9L52 9.2L53.9 8L53 6.5ZM59 7.9L57.6 10L57.4 13L58.1 15L59 16.2L60 16.2L61.5 14L61.7 11L61 8.8L60 7.8Z"/>
<path fill="#fbd8c6" d="M-2 -2L79.5 -2L79.6 33L83.5 45L88 54.9L90 57.8L105.7 71L114.1 81L118 91L123.4 99L123.9 101L123.9 107L-2 107ZM50 6.4L49.1 8L50 9L52 9.4L54.1 8L53.9 7L53 6.4ZM59 7.6L57.5 10L57.3 13L58 15.2L59 16.4L60 16.5L61.7 14L61.8 11L61 8.4L60 7.5Z"/>
<path fill="#facab5" d="M-2 -2L78.2 -2L78.2 32L80 40L87.5 58L100.8 71L107.7 81L112.1 93L115.6 100L115.9 107L-2 107ZM51 6L49.1 7L48.9 8L50 9.1L52 9.5L54.3 8L54.1 7L53 6.2ZM59 7.3L57.7 9L57.2 13L58 15.6L59 16.7L60 16.8L61.5 15L62 11L61 8.1L60 7.3Z"/>
<path fill="#f8b99f" d="M-2 -2L76.9 -2L76.9 32L78.3 40L83.4 52L85.6 60L88.6 64L95.9 71L102 82.9L104.6 91L106.1 100L106.2 107L-2 107ZM51 5.8L48.9 7L49 8.4L51 9.6L53.6 9L54.5 8L54.3 7L53 6.1ZM60 7L59 7.1L58 8L57.1 12L58 15.9L59 16.9L60 17L61.7 15L62.2 12L61.7 9Z"/>
<path fill="#f6a98d" d="M-2 -2L75.6 -2L75.6 32L76.1 37L78 45.3L81.5 53L81.9 61L82.7 64L85 67.8L89.6 71L91 73L91.7 107L77.2 107L76.7 98L75 93.7L73 91.7L72 91.9L68.2 96L63.5 100L62.8 102L62.8 107L-2 107ZM51 5.7L48.7 7L48.5 8L49 8.7L51 9.7L53.9 9L54.7 8L54.5 7L53 5.9ZM59 6.7L57.3 9L57 13L58 16.3L59 17.3L60 17.4L61 16.7L61.9 15L62.4 11L61 7.3L60 6.6Z"/>
<path fill="#f3997c" d="M-2 -2L74.3 -2L74.4 34L75.7 45L77.9 53L74.4 68L70 77L63 89L61 90L54 90.6L52 91.5L38 105L-2 105ZM50 5.8L48.5 7L48.3 8L50 9.6L53 9.6L54.9 8L54.7 7L53 5.8ZM59 6.4L57.1 9L56.8 13L58 16.7L59 17.7L60 17.8L61.2 17L62.2 15L62.6 11L61.1 7L60 6.2Z"/>
<path fill="#ef896d" d="M-2 -2L72.8 -2L72.8 33L74 53L68.1 68L64.2 74L62 76.5L55 80.2L51 81L42 81.4L-2 80.8ZM50 5.6L48.3 7L48.1 8L50 9.7L53 9.8L54.6 9L55.2 8L55 7L53 5.6ZM59 6L57.2 8L56.5 13L57.9 17L60 18.3L61 17.8L62.2 16L62.9 11L61.6 7L60 5.8Z"/>
<path fill="#ea795f" d="M-2 -2L69.2 -2L69.2 14L67.8 24L69.6 37L70.3 52L66 63L62 68.7L53 74.3L46 75.7L42 75.8L34 74.5L27 72.5L5 62.7L-2 62.5ZM50 5.4L48.1 7L47.9 8L49 9.4L51 10.1L53 9.9L54.9 9L55.7 8L55.4 7L54 5.8L52 5.2ZM59 5.4L56.7 8L56.3 13L57.5 17L59 18.7L60 18.9L61 18.6L62.5 17L63.3 14L63.5 11L62.8 8L61.5 6L60 5.2Z"/>
<path fill="#e15f4d" d="M-2 -2L63.1 -2L62.8 4L59 4.6L56 7.3L54 5.5L50 5.3L48 6.7L47.6 8L49 9.7L51 10.4L53 10.2L56 8.9L56.2 14L57.1 17L59 19.5L61.7 21L62 26.4L65.6 45L66.4 52L62.5 62L59.2 66L53 69.6L45 71.1L42 71.1L34 69.4L30.4 68L27.4 66L23 61.4L19.8 60L7 57.3L-2 57Z"/>
<path fill="#d54540" d="M-1 -2L59.5 -2L59.3 2L57 5.5L56 6.1L52 4.8L50 5.1L48.2 6L47.3 8L48 9.2L50 10.4L52 10.7L55.2 10L56.5 17L59 22L62.5 52L59.1 61L56.7 64L53 66.3L44 67.9L38.9 67L32.9 65L29.5 62L27.6 56L26.4 54L19 47L19 39L10 39L9 38L9 29L0 29L-1 28Z"/>
<path fill="#cc2e38" d="M14.8 -2L56.3 -2L56 4.1L55 4.6L50 4.6L47.6 6L46.9 8L47.3 9L49 10.4L54.8 11L56.5 21L57.3 33L58.6 43L58.8 51L58.2 54L55.7 60L53.1 63L43 64.7L37.5 63L34.8 61L36 52L34.4 45L24 14.9L15.3 5Z"/>
<path fill="#c51c31" d="M29 -2L52.6 -2L52.4 3L48 4.9L46.8 6L46.2 8L48 10.6L52 12L52.5 13L54 22L54.4 33L55.7 42L55.3 50L54.6 53L53 56.1L51 57.5L45 60.1L43 59.6L42 57.3L39.9 42L30.9 15L29.1 5Z"/>
<use href="#land"/>
<path d="M10.3 1.9L10.9 2.5M15.3 2.1L16.1 2.3M20.5 2L21.2 2.4M25.6 2L26.3 2.4M30.7 2.2L31.5 2.2M35.8 2.1L36.6 2.3M41.1 1.9L41.5 2.5M15.5 6.9L15.9 7.6M20.5 7L21.1 7.6M25.5 7.2L26.3 7.4M30.7 7.2L31.4 7.4M35.9 7.1L36.5 7.5M40.9 7.1L41.7 7.4M46 7.2L46.8 7.4M51.3 7L51.8 7.6M15.3 12.2L16.1 12.6M20.4 12.2L21.2 12.5M25.7 12.1L26.2 12.7M30.8 12.1L31.3 12.7M35.8 12.3L36.6 12.4M40.9 12.4L41.7 12.4M46.1 12.1L46.7 12.6M51.2 12.1L51.9 12.6M15.3 17.4L16.1 17.5M20.5 17.2L21.1 17.7M25.6 17.2L26.2 17.7M30.7 17.3L31.4 17.6M35.9 17.2L36.5 17.7M41 17.2L41.6 17.8M46 17.4L46.8 17.6M51.1 17.5L51.9 17.5M56.3 17.2L57 17.7M107.5 17.3L108.2 17.6M112.6 17.2L113.3 17.7M117.8 17.2L118.4 17.7M122.8 17.4L123.6 17.5M127.9 17.4L128.7 17.5M20.4 22.5L21.2 22.6M25.5 22.5L26.3 22.6M30.8 22.3L31.4 22.8M36 22.2L36.4 22.9M40.9 22.4L41.7 22.8M46 22.4L46.8 22.7M51.2 22.3L51.9 22.8M56.3 22.4L57 22.7M102.4 22.4L103.1 22.7M107.7 22.2L108.1 22.9M112.7 22.2L113.2 22.9M117.7 22.5L118.5 22.7M122.8 22.5L123.6 22.7M128 22.3L128.7 22.8M20.4 27.5L21.2 27.8M25.6 27.4L26.3 27.9M30.7 27.5L31.4 27.8M35.8 27.6L36.6 27.7M41 27.4L41.6 27.9M46.2 27.3L46.6 28M51.2 27.4L51.9 27.9M56.3 27.6L57.1 27.7M61.4 27.5L62.1 27.8M97.2 27.6L98 27.7M102.4 27.4L103.1 27.9M107.5 27.5L108.2 27.8M112.6 27.5L113.4 27.8M117.8 27.3L118.4 28M123 27.3L123.4 28M127.9 27.5L128.7 27.8M133.1 27.6L133.9 27.7M20.6 32.4L21 33.1M25.6 32.6L26.3 32.9M30.7 32.7L31.5 32.8M35.8 32.6L36.5 32.9M41 32.5L41.6 33M46 32.6L46.8 32.9M51.2 32.5L51.9 33M56.5 32.4L56.9 33.1M61.5 32.5L62.1 33M97.4 32.4L97.9 33M102.3 32.7L103.1 32.8M107.5 32.7L108.3 32.8M112.7 32.5L113.3 33M117.8 32.5L118.4 33M122.9 32.6L123.6 32.9M128 32.5L128.7 33M133.2 32.4L133.7 33.1M138.2 32.6L139 32.9M143.3 32.8L144.1 32.7M20.5 37.7L21.2 38M25.6 37.6L26.3 38.1M30.8 37.5L31.3 38.2M35.8 37.6L36.5 38M40.9 37.9L41.7 37.8M46 37.7L46.8 38M51.3 37.5L51.8 38.1M56.3 37.6L57 38.1M61.4 37.7L62.1 38M97.3 37.7L98 38M102.4 37.6L103.1 38.1M107.6 37.5L108.1 38.1M112.6 37.7L113.4 37.9M117.7 37.8L118.5 37.8M122.9 37.6L123.5 38.1M128.1 37.5L128.6 38.2M133.1 37.6L133.8 38M138.2 37.7L139 38M143.4 37.6L144 38.1M20.5 42.8L21.2 43.1M25.7 42.6L26.2 43.2M30.7 42.7L31.4 43.2M35.8 42.8L36.5 43.1M41 42.7L41.6 43.2M46.1 42.7L46.8 43.1M51.1 42.9L51.9 42.9M56.3 42.8L57.1 43M61.5 42.6L62 43.2M66.6 42.6L67.2 43.2M97.3 42.6L97.9 43.2M102.5 42.6L102.9 43.3M107.5 42.7L108.2 43.1M112.6 42.8L113.4 43M117.8 42.7L118.4 43.2M122.9 42.7L123.6 43.1M127.9 42.9L128.7 43M133.1 42.7L133.8 43.1M138.4 42.6L138.8 43.3M143.4 42.7L144 43.2M148.4 42.8L149.2 43M20.5 47.8L21.2 48.2M25.5 48L26.3 48M30.7 47.9L31.4 48.1M36 47.7L36.4 48.4M41 47.7L41.6 48.3M46 47.9L46.8 48.1M51.2 47.8L51.9 48.2M56.3 47.8L57 48.2M61.4 47.9L62.2 48.1M66.5 47.9L67.3 48.1M97.3 47.8L98 48.2M102.3 47.9L103.1 48.1M107.5 47.8L108.2 48.3M112.8 47.6L113.2 48.4M117.8 47.8L118.4 48.2M122.8 48L123.6 48M128 47.9L128.7 48.2M133.1 47.8L133.8 48.2M138.2 47.9L139 48.1M143.3 47.8L144.1 48.2M148.6 47.7L149 48.4M20.4 53L21.2 53.2M25.6 53L26.3 53.2M30.7 52.9L31.4 53.3M35.8 53L36.6 53.2M40.9 53L41.7 53.2M46.2 52.8L46.7 53.4M51.3 52.8L51.8 53.4M56.3 53L57.1 53.2M61.4 53L62.2 53.2M66.6 52.9L67.2 53.3M71.7 52.9L72.4 53.3M92.1 52.9L92.9 53.3M97.2 53.1L98 53.1M102.4 52.9L103.1 53.3M107.6 52.8L108.2 53.4M112.6 52.9L113.3 53.3M117.8 52.9L118.4 53.3M123 52.8L123.4 53.4M128 52.9L128.7 53.3M133.1 53.1L133.9 53.1M138.2 53L139 53.2M143.4 52.8L144 53.4M148.5 52.9L149.1 53.3M20.6 57.9L21 58.5M25.7 57.9L26.2 58.5M30.7 58.1L31.5 58.2M35.8 58.1L36.6 58.2M41 57.9L41.6 58.4M46.1 58L46.7 58.4M51.2 58L51.9 58.3M56.4 57.9L57 58.5M61.5 57.9L62 58.5M66.5 58.1L67.3 58.3M71.6 58.2L72.4 58.2M107.5 58.2L108.3 58.2M112.6 58.1L113.4 58.3M117.8 57.9L118.4 58.5M122.9 57.9L123.5 58.4M128 58L128.7 58.4M133.2 57.9L133.8 58.5M138.3 57.9L138.9 58.4M143.3 58.2L144.1 58.2M148.4 58.2L149.2 58.2M5.1 63.3L5.9 63.3M10.2 63.2L11 63.3M15.4 63L16 63.6M20.5 63L21.1 63.5M25.6 63.1L26.3 63.4M30.8 63L31.4 63.5M35.9 63L36.5 63.6M40.9 63.2L41.7 63.4M46 63.3L46.8 63.3M51.2 63L51.9 63.5M56.4 63L56.9 63.6M61.4 63.1L62.1 63.5M66.5 63.1L67.3 63.5M71.7 63L72.3 63.6M76.8 63.1L77.5 63.4M107.5 63L108.2 63.5M112.6 63.1L113.3 63.5M117.7 63.3L118.5 63.3M122.8 63.2L123.6 63.4M128.1 63L128.6 63.6M133.2 63L133.7 63.6M138.2 63.1L139 63.4M143.3 63.1L144.1 63.4M148.5 63L149.1 63.5M5.1 68.1L5.8 68.6M10.3 68.1L10.9 68.6M15.3 68.3L16.1 68.4M20.4 68.3L21.2 68.4M25.7 68.1L26.2 68.7M30.8 68L31.3 68.7M35.8 68.2L36.5 68.6M40.9 68.2L41.7 68.5M46.1 68.1L46.7 68.6M51.2 68.2L51.9 68.5M56.3 68.4L57.1 68.4M61.4 68.2L62.1 68.6M66.7 68L67.1 68.7M71.7 68.1L72.3 68.6M76.8 68.3L77.5 68.5M107.6 68.1L108.1 68.7M112.6 68.3L113.4 68.5M117.7 68.2L118.5 68.5M122.9 68.1L123.5 68.6M128 68.2L128.7 68.5M133.1 68.3L133.9 68.5M143.5 68L143.9 68.7M148.4 68.2L149.2 68.5M5.2 73.1L5.7 73.8M10.2 73.3L11 73.6M15.3 73.3L16.1 73.6M20.5 73.2L21.1 73.7M25.6 73.3L26.3 73.6M30.7 73.4L31.5 73.5M35.9 73.2L36.5 73.7M41.1 73.1L41.5 73.8M46.1 73.3L46.8 73.7M51.1 73.4L51.9 73.5M56.3 73.3L57 73.7M61.4 73.3L62.1 73.7M66.5 73.4L67.3 73.5M71.7 73.3L72.4 73.7M77 73.1L77.3 73.8M82 73.2L82.5 73.7M87 73.4L87.8 73.5M92.1 73.3L92.9 73.6M97.3 73.2L97.9 73.7M102.4 73.3L103.1 73.6M107.5 73.3L108.2 73.6M112.7 73.1L113.2 73.8M117.9 73.1L118.3 73.8M122.8 73.4L123.6 73.5M127.9 73.4L128.7 73.5M133.1 73.2L133.8 73.7M138.3 73.2L138.9 73.7M143.3 73.3L144.1 73.6M133.1 78.4L133.8 78.7M138.2 78.6L139 78.5M143.4 78.3L144 78.8M148.6 78.2L149.1 78.9M133.1 83.5L133.8 83.8M138.3 83.4L138.9 83.9M143.3 83.5L144.1 83.8M148.4 83.6L149.2 83.6M133.3 88.4L133.6 89.1M138.3 88.5L138.9 89M143.3 88.7L144.1 88.8M148.5 88.5L149.2 88.9M133.1 93.7L133.8 93.9M138.2 93.6L138.9 94M143.5 93.5L143.9 94.2M148.5 93.5L149.1 94.1M5.3 98.5L5.6 99.3M10.3 98.6L10.9 99.2M15.3 98.8L16.1 99M20.4 98.8L21.2 99.1M25.6 98.7L26.3 99.1M30.7 98.8L31.5 99M35.8 98.8L36.6 99M41.1 98.6L41.5 99.2M46.2 98.6L46.7 99.2M51.1 98.8L51.9 99M56.3 98.8L57.1 99M61.4 98.7L62.1 99.1M66.5 98.7L67.3 99.1M71.6 98.8L72.4 99M76.9 98.6L77.4 99.2M82.1 98.6L82.5 99.3M87 98.8L87.8 99.1M92.1 98.9L92.9 98.9M97.3 98.7L98 99.1M102.4 98.7L103.1 99.2M107.5 98.8L108.2 99.1M112.6 98.7L113.3 99.1M117.9 98.6L118.3 99.3M122.9 98.7L123.5 99.1M127.9 98.9L128.7 98.9M133.1 98.8L133.9 99M138.3 98.6L138.9 99.2M143.4 98.7L144 99.1M148.5 98.7L149.2 99.1M5.1 103.9L5.8 104.1M10.2 103.8L10.9 104.2M15.5 103.7L15.9 104.3M20.5 103.7L21.1 104.3M25.5 104L26.3 104M30.7 103.9L31.5 104.1M35.9 103.7L36.5 104.3M41 103.8L41.6 104.2M46 103.9L46.8 104.1M51.3 103.7L51.8 104.3M56.4 103.7L56.9 104.3M61.4 103.9L62.2 104.1M66.5 104L67.3 104M71.7 103.8L72.4 104.2M76.9 103.7L77.4 104.3M81.9 103.8L82.6 104.2M87 103.8L87.7 104.2M92.3 103.7L92.7 104.3M97.3 103.8L98 104.2M102.3 104L103.1 104M107.5 103.9L108.2 104.1M112.7 103.7L113.2 104.3M117.8 103.8L118.4 104.2M122.9 103.8L123.6 104.2M128.1 103.7L128.6 104.3M133.1 103.8L133.8 104.2M138.2 104L139 104M143.3 103.9L144.1 104.1M148.6 103.7L149.1 104.3" stroke="#2a2a2a" stroke-width="0.8" fill="none" stroke-linecap="round"/><path d="M9.3 22L10.4 22.5M14.5 22L15.6 22.5M4.3 27L5.3 27.6M9.4 26.9L10.4 27.6M14.4 27.2L15.6 27.6M4.2 32.3L5.3 32.7M9.3 32.4L10.4 32.7M14.5 32.1L15.6 32.7M87.5 31.3L87.4 32.6M92.8 31.4L92.5 32.7M4.1 37.6L5.3 37.8M9.3 37.3L10.4 37.8M14.5 37.2L15.6 37.8M87.7 36.5L87.4 37.7M92.8 36.5L92.5 37.7M4.3 42.3L5.3 42.8M9.3 42.5L10.4 42.9M14.4 42.7L15.5 42.9M87.4 41.5L87.4 42.8M92.4 41.5L92.5 42.8M4.2 47.5L5.3 47.9M9.3 47.6L10.4 48M14.5 47.5L15.6 47.9M87.4 46.6L87.4 47.9M92.7 46.6L92.5 47.9M4.2 52.6L5.3 53M9.5 52.4L10.5 53M14.5 52.5L15.6 53M4.2 57.6L5.3 58.1M9.3 57.7L10.4 58.1M14.4 57.7L15.6 58.1M80.9 57.8L82.2 58.2M91.1 58L92.4 58.2M96.3 57.8L97.5 58.2M101.3 58L102.7 58.2M80.8 63.4L82.2 63.3M91.2 62.8L92.4 63.3M96.2 63L97.5 63.3M101.3 63.2L102.7 63.3M80.9 68.2L82.2 68.4M86 68.2L87.3 68.4M91.1 68.4L92.4 68.4M96.2 68.2L97.5 68.4M101.4 67.9L102.7 68.3M3.4 78.8L6.1 78.5M8.5 78.3L11.2 78.6M13.6 78.1L16.3 78.7M18.7 78.6L21.4 78.5M23.9 78.9L26.5 78.5M29 78.6L31.7 78.5M34.1 78.5L36.8 78.6M39.2 78.7L41.9 78.5M44.3 78.5L47 78.6M49.5 78.1L52.1 78.7M54.6 78.5L57.3 78.6M59.7 78.9L62.4 78.4M64.8 78.7L67.5 78.5M69.9 78.4L72.6 78.6M75 78.6L77.7 78.5M80.2 78.6L82.9 78.5M85.3 78.3L88 78.6M90.4 78.3L93.1 78.6M95.5 78.9L98.2 78.5M100.7 78.9L103.3 78.5M105.8 78.4L108.5 78.6M110.9 78.4L113.6 78.6M116 78.6L118.7 78.5M121.1 78.4L123.8 78.6M126.3 78.3L128.9 78.6M3.4 83.6L6.1 83.6M8.5 83.5L11.2 83.7M13.6 83.7L16.3 83.6M18.7 83.6L21.4 83.7M23.9 83.3L26.5 83.7M29 83.7L31.7 83.6M34.1 84.1L36.8 83.5M39.2 83.8L41.9 83.6M44.3 83.4L47 83.7M49.4 83.6L52.1 83.6M54.6 83.7L57.3 83.6M59.7 83.4L62.4 83.7M64.8 83.5L67.5 83.7M70 84L72.6 83.5M75.1 83.9L77.7 83.6M80.2 83.4L82.9 83.7M85.3 83.4L88 83.7M90.4 83.7L93.1 83.6M95.5 83.5L98.2 83.7M100.6 83.4L103.3 83.7M105.8 83.9L108.5 83.6M110.9 84L113.6 83.5M116 83.5L118.7 83.7M121.1 83.3L123.8 83.7M126.2 83.6L128.9 83.6M4.1 88.8L5.4 88.7M9.2 89L10.5 88.8M14.3 88.8L15.6 88.7M19.4 88.5L20.7 88.7M24.5 88.7L25.8 88.7M29.7 88.8L31 88.7M34.8 88.6L36.1 88.7M39.9 88.7L41.2 88.7M45 89L46.3 88.7M50.1 88.9L51.4 88.7M55.3 88.5L56.6 88.7M60.4 88.6L61.7 88.7M65.5 88.8L66.8 88.7M70.6 88.7L71.9 88.7M75.7 88.7L77 88.7M80.9 88.9L82.2 88.7M86 88.9L87.3 88.7M91.1 88.6L92.4 88.7M96.2 88.5L97.5 88.7M101.3 88.8L102.6 88.7M106.5 88.8L107.8 88.7M111.6 88.7L112.9 88.7M116.7 88.8L118 88.7M121.8 89L123.1 88.7M126.9 88.7L128.2 88.7M4.1 93.9L5.4 93.8M9.2 93.7L10.5 93.8M14.3 93.8L15.6 93.8M19.4 94.1L20.7 93.8M24.5 93.9L25.8 93.8M29.7 93.6L31 93.8M34.8 93.7L36.1 93.8M39.9 93.9L41.2 93.8M45 93.8L46.3 93.8M50.1 93.8L51.4 93.8M55.3 94L56.6 93.8M60.4 94L61.7 93.8M65.5 93.6L66.8 93.8M70.6 93.6L71.9 93.8M75.7 93.9L77 93.8M80.9 94L82.2 93.8M86 93.8L87.3 93.8M91.1 93.9L92.4 93.8M96.2 94L97.5 93.8M101.3 93.7L102.6 93.8M106.5 93.5L107.8 93.8M111.6 93.8L112.9 93.8M116.7 94L118 93.8M121.8 93.9L123.1 93.8M126.9 93.8L128.2 93.8" stroke="#1a1a1a" stroke-width="1" fill="none"/><path d="M11.8 23.1L10.1 23.3L10.8 21.7ZM16.9 23.1L15.2 23.3L15.9 21.7ZM6.6 28.3L4.9 28.3L5.7 26.8ZM11.7 28.4L10 28.3L10.9 26.8ZM17 28.1L15.3 28.4L15.8 26.8ZM6.7 33.2L5 33.5L5.6 31.9ZM11.9 33.1L10.2 33.5L10.7 31.9ZM16.9 33.3L15.2 33.4L15.9 31.9ZM87.3 34.1L86.5 32.6L88.2 32.7ZM92.2 34.1L91.7 32.5L93.3 32.8ZM6.8 38.1L5.1 38.6L5.5 37ZM11.8 38.3L10.1 38.6L10.8 37ZM16.9 38.4L15.2 38.5L15.9 37ZM87.1 39.2L86.6 37.6L88.2 37.9ZM92.2 39.2L91.7 37.6L93.3 37.9ZM6.6 43.6L4.9 43.6L5.7 42.1ZM11.8 43.4L10.2 43.7L10.7 42.1ZM17 43.2L15.4 43.7L15.7 42.1ZM87.4 44.3L86.5 42.8L88.2 42.8ZM92.6 44.3L91.6 42.9L93.3 42.8ZM6.7 48.6L5 48.7L5.7 47.2ZM11.9 48.4L10.2 48.8L10.7 47.2ZM16.9 48.6L15.2 48.7L15.9 47.2ZM87.4 49.4L86.5 47.9L88.2 47.9ZM92.3 49.4L91.7 47.8L93.4 48ZM6.7 53.6L5 53.8L5.6 52.3ZM11.7 53.8L10 53.7L10.9 52.3ZM16.9 53.7L15.2 53.8L15.9 52.3ZM6.7 58.8L5 58.9L5.7 57.4ZM11.9 58.6L10.2 58.9L10.7 57.3ZM17 58.6L15.3 58.9L15.8 57.3ZM83.6 58.5L82 59L82.4 57.3ZM93.9 58.4L92.3 59L92.5 57.3ZM99 58.6L97.3 59L97.8 57.3ZM104.1 58.4L102.5 59L102.8 57.3ZM83.7 63.2L82.2 64.1L82.1 62.4ZM93.8 63.7L92.2 64.1L92.7 62.4ZM99 63.6L97.4 64.1L97.7 62.4ZM104.1 63.4L102.6 64.1L102.7 62.4ZM83.7 68.6L82 69.2L82.3 67.5ZM88.8 68.6L87.2 69.2L87.4 67.5ZM93.9 68.4L92.4 69.2L92.4 67.5ZM99 68.5L97.5 69.2L97.6 67.5ZM104.1 68.8L102.4 69.1L102.9 67.5ZM7.5 78.3L6.1 79.3L6 77.6ZM12.7 78.8L11.1 79.5L11.3 77.8ZM17.8 79L16.1 79.5L16.5 77.8ZM22.9 78.5L21.5 79.4L21.4 77.7ZM28 78.2L26.7 79.3L26.4 77.6ZM33.2 78.5L31.7 79.4L31.7 77.7ZM38.3 78.6L36.8 79.4L36.8 77.7ZM43.4 78.4L42 79.4L41.8 77.7ZM48.5 78.6L47 79.4L47 77.7ZM53.6 79L52 79.5L52.3 77.8ZM58.8 78.6L57.2 79.4L57.3 77.7ZM63.8 78.2L62.5 79.3L62.2 77.6ZM69 78.4L67.6 79.3L67.4 77.7ZM74.1 78.7L72.6 79.4L72.7 77.7ZM79.2 78.5L77.8 79.4L77.7 77.7ZM84.4 78.5L82.9 79.4L82.8 77.7ZM89.5 78.8L87.9 79.5L88.1 77.8ZM94.6 78.8L93 79.5L93.2 77.8ZM99.7 78.2L98.3 79.3L98.1 77.6ZM104.8 78.2L103.5 79.3L103.2 77.6ZM110 78.7L108.4 79.4L108.5 77.7ZM115.1 78.7L113.5 79.4L113.6 77.7ZM120.2 78.5L118.7 79.4L118.7 77.7ZM125.3 78.7L123.8 79.4L123.9 77.7ZM130.4 78.8L128.8 79.5L129 77.8ZM7.6 83.7L6 84.5L6.1 82.8ZM12.7 83.8L11.1 84.5L11.2 82.8ZM17.8 83.5L16.3 84.5L16.3 82.8ZM22.9 83.7L21.4 84.5L21.5 82.8ZM28 84L26.4 84.6L26.7 82.9ZM33.2 83.6L31.7 84.5L31.7 82.8ZM38.2 83.2L36.9 84.4L36.6 82.7ZM43.4 83.5L41.9 84.5L41.8 82.8ZM48.5 83.9L46.9 84.5L47.1 82.9ZM53.6 83.7L52.1 84.5L52.2 82.8ZM58.8 83.6L57.3 84.5L57.2 82.8ZM63.9 83.9L62.3 84.6L62.5 82.9ZM69 83.8L67.4 84.5L67.5 82.8ZM74.1 83.3L72.8 84.4L72.5 82.7ZM79.2 83.4L77.9 84.4L77.6 82.7ZM84.3 83.9L82.8 84.5L82.9 82.9ZM89.5 83.8L87.9 84.5L88.1 82.9ZM94.6 83.6L93.1 84.5L93.1 82.8ZM99.7 83.7L98.2 84.5L98.3 82.8ZM104.8 83.8L103.3 84.5L103.4 82.8ZM109.9 83.4L108.6 84.4L108.4 82.7ZM115 83.2L113.7 84.4L113.4 82.7ZM120.2 83.7L118.7 84.5L118.7 82.8ZM125.3 84L123.7 84.6L123.9 82.9ZM130.4 83.6L128.9 84.5L128.9 82.8ZM6.9 88.6L5.4 89.6L5.3 87.9ZM11.9 88.4L10.7 89.6L10.3 87.9ZM17.1 88.7L15.6 89.6L15.6 87.9ZM22.2 88.9L20.6 89.6L20.8 87.9ZM27.3 88.8L25.8 89.6L25.9 87.9ZM32.5 88.7L31 89.6L30.9 87.9ZM37.6 88.9L36 89.6L36.2 87.9ZM42.7 88.8L41.2 89.6L41.2 87.9ZM47.8 88.5L46.5 89.6L46.2 87.9ZM52.9 88.6L51.5 89.6L51.4 87.9ZM58 88.9L56.4 89.6L56.7 87.9ZM63.2 88.9L61.6 89.6L61.8 87.9ZM68.3 88.7L66.8 89.6L66.8 87.9ZM73.4 88.8L71.9 89.6L71.9 87.9ZM78.5 88.8L77 89.6L77.1 87.9ZM83.6 88.6L82.3 89.6L82.1 87.9ZM88.8 88.5L87.4 89.6L87.2 87.9ZM93.9 88.9L92.3 89.6L92.5 87.9ZM99 89L97.4 89.5L97.7 87.9ZM104.1 88.7L102.7 89.6L102.6 87.9ZM109.3 88.6L107.8 89.6L107.7 87.9ZM114.4 88.8L112.8 89.6L112.9 87.9ZM119.5 88.7L118 89.6L118 87.9ZM124.6 88.5L123.3 89.6L123 87.9ZM129.7 88.8L128.2 89.6L128.3 87.9ZM6.9 93.7L5.4 94.7L5.3 93ZM12 93.9L10.4 94.7L10.5 93ZM17.1 93.8L15.6 94.7L15.6 93ZM22.2 93.6L20.9 94.7L20.6 93ZM27.3 93.8L25.9 94.7L25.8 93ZM32.4 94.1L30.8 94.6L31.1 93ZM37.6 94L36 94.7L36.2 93ZM42.7 93.7L41.3 94.7L41.1 93ZM47.8 93.8L46.3 94.7L46.3 93ZM52.9 93.9L51.4 94.7L51.5 93ZM58.1 93.7L56.7 94.7L56.5 93ZM63.2 93.7L61.8 94.7L61.6 93ZM68.3 94L66.7 94.6L66.9 93ZM73.4 94.1L71.8 94.6L72.1 93ZM78.5 93.7L77.1 94.7L77 93ZM83.7 93.7L82.2 94.7L82.1 93ZM88.8 93.9L87.3 94.7L87.3 93ZM93.9 93.8L92.4 94.7L92.4 93ZM99 93.6L97.6 94.7L97.4 93ZM104.1 93.9L102.6 94.7L102.7 93ZM109.2 94.1L107.6 94.6L107.9 93ZM114.4 93.8L112.9 94.7L112.9 93ZM119.5 93.6L118.1 94.7L117.9 93ZM124.6 93.8L123.1 94.7L123.1 93ZM129.7 93.9L128.2 94.7L128.3 93Z" fill="#1a1a1a"/>
</g>
<path d="M69 10.3H78" stroke="#000" stroke-width="0.9"/><path d="M79.5 10.3l-3 -1.5v3z" fill="#000"/>
<text x="86" y="13.0" class="s">0.5m/s</text>
<text x="130.7" y="13.0" class="m">OCT</text>
<rect x="1" y="87.2" width="17" height="17.3" fill="#fff"/>
<text x="2.2" y="100.4" class="l">(b)</text>
<rect width="154.5" height="104.5" fill="none" stroke="#5a5a5a" stroke-width="1"/>
</g>
<g transform="translate(351.5 4.8)">
<g clip-path="url(#cp)">
<rect width="154.5" height="104.5" fill="#fff"/>
<rect x="-2" y="-2" width="158.5" height="108.5" fill="#12498f"/>
<path fill="#175aa0" d="M-2 -2L157 -2L157 107L-2 107ZM121 7L116 7.7L108 11.9L103.1 18L101 22.9L97 24.3L88 31.3L87.3 34L89 37.5L90 37.4L95 31.1L100.6 28L102 25L103 24.2L107 22.7L111 19.3L113.5 18L121 16.3L123 16.7L125 18.2L131.1 28L136.3 35L138 35.8L142 36.3L147 42.5L148 42.7L148.7 42L149.5 36L147 29.6L145 28.1L140 28.6L139 28.2L136 22.8L131 11.5L126 7.1L124 6.5ZM88 46.8L88 48.3L89 48.3L89 46.7Z"/>
<path fill="#1e66ac" d="M-2 -2L157 -2L157 107L-2 107ZM59 11.5L59 12.5L60 12.7L60 11.3ZM121 3.9L115 6.3L108 10.5L102.9 17L100.3 22L97 23.6L87.9 31L87.2 32L87.1 34L88.5 38L89 41.6L91.6 36L94 32.7L96 31L100 29L103 25.2L107 23.3L113 18.9L116 17.8L121 17.1L123 17.7L125 19.4L131 28.8L136 35.3L138 36.3L141 36.5L142 37.1L146 43L147 43.8L148 43.9L149.6 43L150 35L147.4 29L145 27.4L141 27.7L139.1 27L132 11L128 6.7L126 5.2ZM89 44.8L88 45.5L87.4 48L88 49.1L89 49.3L89.7 47Z"/>
<path fill="#2470b5" d="M-2 -2L106.2 -2L106 8L100 20.5L93 26.1L87 32L88 43L87 48L88 49.5L89 49.9L90.1 49L90.1 44L91.5 38L92.8 35L94.4 33L96.8 31L100.6 29L104 25.4L108 23.3L112 20.1L114.7 19L118 18.5L122 18.7L124 19.9L136 36L141 37.3L141.9 38L146 44.2L148 44.9L150 44.1L151.1 42L150.9 35L148.6 29L146 26.6L140 25.8L137 18.9L135.3 9L135.2 -2L157 -2L157 107L-2 107ZM59 10.9L59 13.1L60 13.2L60.1 11Z"/>
<path fill="#2b7bbc" d="M-2 -2L98.2 -2L98.2 13L99 18.1L98 20.2L93 24.2L90.4 28L86.8 32L87.5 42L86.7 48L88 50L89 50.4L90 50.1L90.6 49L91 44L92.4 38L94.3 34L97 31.5L101.4 29L104.4 26L112 21.1L114 20.4L117 20.1L120 20.5L124 22.4L128 26.6L135 35.8L137 37.2L141 38.3L144.5 44L147 45.8L150 45.6L151.9 44L152.7 42L153 37.2L154 33.3L157 29.4L157 107L-2 107ZM59 10.6L58.8 13L60 13.5L60.2 11L60 10.5ZM155 -2L157 -2L157 6.5L155 6.5ZM155 13L155 12.5L157 12.5L157 15.2L155 14.1Z"/>
<path fill="#3c8cc6" d="M-2 -2L92.7 -2L92.6 14L91 25L90.4 27L87 31L86.4 33L87.1 39L86.5 47L86.8 49L89 51L90 51.1L90.8 50L93.7 37L96.2 33L105.9 26L111 22.9L114 22.1L121 23.8L126 26.5L135 36.8L140.9 40L143.9 45L146 46.8L150 48.1L157 47.5L157 107L-2 107ZM59 10.3L58.7 13L59 13.7L60 13.8L60.3 11L60 10.2Z"/>
<path fill="#529ed0" d="M-2 -2L90.9 -2L90.9 14L89.9 26L89.1 28L86.7 31L86.1 33L86.7 38L86.5 49L90 52.4L91 51.9L95 37.3L96.7 34L98.8 32L106 27.1L111 24.6L113 24.4L121 26.3L127 29.6L131 33.4L134 37.1L138.9 41L142.2 46L147.7 52L150 53L157 53.2L157 107L-2 107ZM60 10L59 10L58.6 11L59 14L60 14.1L60.5 13Z"/>
<path fill="#68aed9" d="M-2 -2L89.8 -2L89.8 14L89 26L88.4 28L86.4 31L85.9 33L86.4 39L85.9 48L86.8 50L89.4 53L91 56.3L92 56.1L92.2 51L93 47.3L97 37L98.7 34L100.8 32L106 28.8L110 27L112 26.8L121 28.8L127.9 33L135.5 41L140.9 50L144.2 53L150 55.3L157 55.4L157 107L-2 107ZM51 7.4L51 8.2L52.3 8L52 7.3ZM59 9.8L58.5 13L59 14.2L60 14.3L60.6 13L60.6 11L60 9.7Z"/>
<path fill="#7cbbdf" d="M-2 -2L88.8 -2L88.8 14L88.2 26L87.7 28L85.7 32L86.1 39L85.6 48L86.5 50L88.7 53L90 56.2L91 57.3L92 57.3L93 56L93 52L93.7 49L100.3 35L102 33.3L106 31.2L110 29.6L112 29.4L120 30.9L124 33L132.2 41L137.8 51L140.9 54L149 57.2L157 57.5L157 107L-2 107ZM51 7L50.5 8L52.6 8L52 7ZM59 9.6L58.3 11L58.3 13L59 14.4L60 14.5L60.7 13L60.7 11L60 9.5Z"/>
<path fill="#91c6e3" d="M-2 -2L87.9 -2L87.3 26L85.4 32L85.4 48L89.8 57L91 58L92 58L93.3 57L94.4 51L101 37.4L103 35.8L108 33.3L112 32.2L119 33.3L122 34.9L130 42.8L135.2 52L139.7 56L149 59.4L157 59.6L157 107L-2 107ZM51 6.9L50.3 8L52 8.4L52.8 8L52.3 7ZM59 9.4L58.2 11L58.2 13L59 14.7L60 14.7L60.9 13L60.9 11L60 9.3Z"/>
<path fill="#a2cfe7" d="M-2 -2L86.9 -2L86.4 27L85 33L85.1 48L89.3 57L90 58L92 58.8L94 57.2L95.2 53L100 42.6L102 39.7L110 35.8L112 35.5L118 37.1L121 38.6L126.4 44L133.5 54L139 58.4L149 61.7L157 61.9L157 107L-2 107ZM51 6.8L50.1 8L52 8.6L53 8L52.6 7ZM59 9.1L58.1 11L58.1 13L59 14.9L60 14.9L61 13L61 11L60 9.1Z"/>
<path fill="#b6daec" d="M-2 -2L85.9 -2L85.6 27L84.6 33L84.8 48L89 57.6L91 59.5L92 59.7L93.5 59L95.2 57L102 43.4L103.9 42L109 39.9L112 39.4L117 41.1L120.5 43L131.5 56L138 60.9L142 62.7L148 64.5L157 64.9L157 107L-2 107ZM51 6.7L50.3 7L50 8.1L52 8.7L53.2 8L52.8 7ZM59 8.9L58 11L58 13L59 15.1L60 15.1L61 13.4L61.1 11L60 8.9Z"/>
<path fill="#c9e2ef" d="M-2 -2L85 -2L84.7 27L84.1 33L84.5 48L89 58.6L92 61L94 60.3L97 57L103 48.2L109 44.2L111 43.5L113 44.1L120 48.8L131 59.9L139 65.8L142 66.9L147 67.8L157 68.1L157 107L-2 107ZM51 6.6L50.1 7L50 8.2L52 8.8L53.3 8L53 7ZM59 8.7L58 10.5L57.9 13L59 15.3L60 15.4L61 13.9L61.2 11L60 8.6Z"/>
<path fill="#e5f0f3" d="M-2 -2L84 -2L83.7 43L84.3 49L89 59.8L92 63.1L94 62.8L97 60.5L102 54.7L111 49.7L121 55.1L131 65.4L139 70.8L142 71.6L157 71.8L157 107L-2 107ZM50 6.9L49.6 8L51 8.9L52 8.9L53.5 8L53.2 7L52 6.5ZM59 8.5L58 10L57.8 13L59 15.5L60 15.6L61.1 14L61.4 11L60.5 9L60 8.4Z"/>
<path fill="#f9f9fa" d="M-2 -2L83 -2L82.9 42L83.9 49L87.6 59L90 63.5L92 65.4L95 65.2L98 63.6L101 60.3L103 58.9L110 56.1L112 56.1L121.1 60L122.8 62L124.3 66L126 68.6L130.3 72L135 77.4L139 80.3L142 81.1L157 81.1L157 107L-2 107ZM50 6.8L49.5 8L51 9L52.2 9L53.6 8L53.4 7L52 6.4ZM59 8.3L57.9 10L57.6 13L58.4 15L59 15.7L60 15.8L61.2 14L61.5 11L60.7 9L60 8.2Z"/>
<path fill="#fbf0e9" d="M-2 -2L81.9 -2L81.9 42L83.3 49L88.1 63L91 67.1L93 68L100 69.3L106.9 75L113 82.6L135 104.5L136 105L136 107L-2 107ZM50 6.6L49.3 8L51 9.2L52.6 9L53.8 8L53 6.6ZM60 8L59 8.1L58.2 9L57.5 11L57.7 14L59 16L60 16L61 15L61.6 13L61.4 10Z"/>
<path fill="#fce5d9" d="M-2 -2L80.8 -2L80.7 42L86.3 62L88 65.9L90 68.6L95.4 72L97.2 74L105 85.1L110 93.4L115.1 99L115.8 101L115.9 107L-2 107ZM50 6.5L49.2 8L50.2 9L52 9.3L54 8L53 6.4ZM59 7.8L57.6 10L57.4 13L58.8 16L60 16.3L61.5 14L61.7 11L61 8.8L60 7.7Z"/>
<path fill="#fbd8c6" d="M-2 -2L79.5 -2L79.4 41L79.7 44L83 52.9L86.2 66L96 80L102 91L107.2 99L107.8 101L107.8 107L-2 107ZM50 6.4L49.2 7L49 8L50 9L52 9.4L54.2 8L53.9 7L53 6.3ZM59 7.5L57.5 10L57.3 13L58 15.3L59 16.5L60 16.5L61.7 14L61.8 11L61 8.4L60 7.5Z"/>
<path fill="#facab5" d="M-2 -2L78.2 -2L78.3 44L81.6 53L85 68L101.2 100L101.4 107L-2 107ZM51 5.9L49 7L48.9 8L50 9.2L53 9.3L54.4 8L54.2 7L53 6.2ZM59 7.3L57.6 9L57.2 13L58 15.7L59 16.7L60 16.8L61.5 15L62 11L61 8.1L60 7.2Z"/>
<path fill="#f8b99f" d="M-2 -2L76.9 -2L76.9 45L79.7 54L82.6 68L85 76L88.3 85L91.6 91L94.5 99L95 107L-2 107ZM51 5.8L48.9 7L49 8.5L51 9.6L53.7 9L54.6 8L54.4 7L53 6ZM60 6.9L59 7L58 8L57 12L58 16L59 17L60 17.1L61.7 15L62.2 12L61.7 9Z"/>
<path fill="#f6a98d" d="M-2 -2L75.6 -2L75.3 44L78.1 62L77.5 72L81.3 82L80.8 89L80 91.4L77.4 95L77.3 107L-2 107ZM50 6L48.6 7L48.5 8L50 9.5L53 9.6L54.8 8L54.6 7L53 5.9ZM59 6.7L57.3 9L56.9 13L58 16.4L59 17.4L60 17.5L61 16.8L61.9 15L62.4 11L61 7.3L60 6.6Z"/>
<path fill="#f3997c" d="M-2 -2L74.3 -2L73.9 63L69.4 72L69.1 80L67 84.9L63 90L48 105L-2 105ZM50 5.8L48.4 7L48.3 8L50 9.6L53 9.7L55 8L54.8 7L53 5.7ZM59 6.3L57.4 8L56.7 13L58 16.8L59 17.8L60 17.9L61.2 17L62.2 15L62.6 11L61.2 7L60 6.2Z"/>
<path fill="#ef896d" d="M-2 -2L72.8 -2L72.7 33L70.5 52L70.4 61L68.7 65L62.9 72L62.2 79L61 81.3L55 84.6L52 85.4L26 85.5L21 84.6L13 81.1L-2 80.8ZM50 5.6L48.2 7L48.1 8L50 9.8L53 9.9L54.7 9L55.4 8L55.1 7L53 5.5ZM59 5.9L57.7 7L56.7 9L56.5 13L57.8 17L59 18.2L60 18.4L61 17.9L62.3 16L62.9 11L61.7 7L60 5.7Z"/>
<path fill="#ea795f" d="M-2 -2L69.2 -2L69.1 15L67.7 24L67.5 33L66.1 42L66.6 60L65.7 63L63 66.2L59 69L48 74.5L42 76.3L34 77.5L24 75.8L5 66.9L-2 66.5ZM49 5.9L47.9 8L48.4 9L50 9.9L52 10.2L54 9.7L55.8 8L55.6 7L53 5.3L51 5.2ZM59 5.3L56.4 8L56.3 13L57.4 17L59 18.8L60 19L61 18.7L62.5 17L63.4 14L63.5 11L62.8 8L61.6 6L60 5.1Z"/>
<path fill="#e15f4d" d="M-2 -2L63 -2L62.5 4L59 4.3L57 6.5L56 6.8L54 5.3L50 5.2L48.5 6L47.6 8L49 9.7L51 10.5L55 9.6L56 9.8L56.1 14L56.9 17L59 19.9L61 21L61.3 22L60.9 42L62.7 52L62.8 59L62.2 62L60.6 64L57 66.6L53 68.4L35 71.3L32 71.2L21.5 68L14.6 65L10 61.7L6 54.7L4 52.6L-2 52.3Z"/>
<path fill="#d54540" d="M-1 -2L58.9 -2L58.6 2L57 5L56 5.7L53 4.7L51 4.7L48.1 6L47.3 8L48 9.3L50 10.5L55 10.3L56.2 17L57.9 22L57.9 33L57.1 42L59.4 53L59 60L57.4 63L54.5 65L52 65.9L34 67.9L27 65.7L21.8 63L19.2 61L14.7 52L13.8 37L13 33.2L12 31.4L9 28.4L-1 28Z"/>
<path fill="#cc2e38" d="M14.8 -2L55 -2L55 3L54.5 4L50 4.4L47.5 6L46.9 8L47.2 9L49 10.5L54 11.5L54.4 12L54.7 32L53.3 42L56.2 53L55.3 60L54.2 62L53 62.8L44 64.4L35 64.8L31 63.7L27.4 61L24.1 52L24.1 45L24.6 42L28 35L28.5 33L24.4 24L23.3 14L15.3 5Z"/>
<path fill="#c51c31" d="M29 -2L49.9 -2L49.8 3L46.6 6L46.2 8L47 9.7L50.2 12L50.6 13L50.5 26L48.4 43L49.1 47L51.5 52L51.5 53L50.3 55L46.2 59L43 60.6L36 60.8L34 60.2L33 58.8L31 53L31.4 49L35.7 38L36.7 33L33.8 24L33.3 14L29.3 5Z"/>
<path fill="#b8112f" d="M42.5 7L43 6.8L44 8.2L45 10.8L45.8 16L45.5 25L44 29.8L43 30.1L41 25.9L40.3 22L40.6 12L41.2 9Z"/>
<use href="#land"/>
<path d="M10.3 1.9L10.9 2.5M15.3 2L16.1 2.4M20.5 1.9L21.2 2.5M25.6 1.9L26.3 2.5M30.6 2.1L31.5 2.3M35.8 2L36.6 2.4M41.1 1.8L41.5 2.6M15.5 6.9L15.9 7.7M20.6 6.9L21.1 7.6M25.5 7.2L26.4 7.4M30.7 7.1L31.5 7.5M35.9 7L36.5 7.6M40.9 7.1L41.7 7.5M46 7.1L46.8 7.5M51.3 6.9L51.8 7.7M15.3 12.2L16.1 12.6M20.4 12.2L21.2 12.6M25.7 12L26.2 12.7M30.8 12L31.3 12.7M35.8 12.3L36.6 12.5M40.9 12.3L41.7 12.4M46.1 12.1L46.7 12.7M51.2 12.1L51.8 12.7M15.3 17.4L16.1 17.6M20.5 17.1L21.1 17.8M25.7 17.1L26.2 17.8M30.7 17.3L31.4 17.7M35.9 17.2L36.5 17.8M41 17.1L41.6 17.8M46 17.3L46.8 17.6M51.1 17.4L52 17.5M56.3 17.2L57 17.7M107.5 17.3L108.2 17.7M112.6 17.2L113.3 17.7M117.8 17.2L118.4 17.8M122.8 17.4L123.6 17.6M127.9 17.3L128.8 17.6M20.4 22.4L21.2 22.7M25.5 22.5L26.4 22.6M30.8 22.2L31.3 22.9M36 22.2L36.4 22.9M40.9 22.3L41.7 22.8M46 22.4L46.8 22.8M51.2 22.3L51.8 22.9M56.3 22.4L57 22.8M102.3 22.4L103.1 22.7M107.7 22.2L108 22.9M112.8 22.2L113.2 22.9M117.7 22.4L118.5 22.7M122.8 22.4L123.6 22.7M128 22.3L128.7 22.8M20.4 27.5L21.2 27.8M25.6 27.4L26.3 27.9M30.7 27.4L31.4 27.9M35.8 27.6L36.6 27.7M41 27.4L41.6 27.9M46.3 27.2L46.6 28.1M51.2 27.4L51.9 27.9M56.2 27.6L57.1 27.7M61.4 27.4L62.1 27.9M97.2 27.5L98 27.8M102.4 27.4L103.1 27.9M107.5 27.4L108.2 27.9M112.6 27.5L113.4 27.8M117.9 27.3L118.3 28M123 27.3L123.4 28M127.9 27.5L128.7 27.8M133 27.6L133.9 27.7M20.7 32.3L21 33.1M25.6 32.5L26.3 33M30.6 32.7L31.5 32.8M35.8 32.5L36.5 33M41 32.4L41.6 33M46 32.6L46.8 32.9M51.2 32.5L51.9 33M56.5 32.3L56.8 33.1M61.5 32.4L62.1 33M97.4 32.4L97.9 33.1M102.3 32.6L103.2 32.8M107.4 32.7L108.3 32.8M112.7 32.4L113.3 33M117.8 32.4L118.4 33.1M122.8 32.5L123.6 33M128 32.4L128.7 33M133.2 32.4L133.7 33.1M138.2 32.6L139 32.9M143.3 32.7L144.1 32.8M20.4 37.6L21.2 38M25.6 37.6L26.3 38.1M30.9 37.5L31.3 38.2M35.8 37.6L36.5 38.1M40.9 37.8L41.7 37.8M46 37.7L46.8 38M51.3 37.5L51.8 38.2M56.3 37.5L57 38.1M61.4 37.6L62.1 38.1M97.2 37.6L98 38M102.4 37.6L103.1 38.1M107.6 37.5L108.1 38.2M112.6 37.7L113.4 38M117.7 37.8L118.5 37.9M122.9 37.5L123.5 38.1M128.2 37.4L128.5 38.2M133.1 37.6L133.8 38.1M138.2 37.6L139 38M143.4 37.5L144 38.1M20.4 42.7L21.2 43.1M25.7 42.5L26.2 43.3M30.7 42.6L31.4 43.2M35.8 42.7L36.6 43.1M41 42.6L41.6 43.2M46.1 42.6L46.7 43.2M51.1 42.9L52 43M56.2 42.8L57.1 43M61.6 42.6L62 43.3M66.7 42.6L67.1 43.3M97.3 42.6L97.9 43.2M102.6 42.5L102.9 43.3M107.5 42.7L108.2 43.2M112.6 42.8L113.4 43.1M117.8 42.6L118.4 43.2M122.9 42.7L123.6 43.1M127.9 42.8L128.8 43M133.1 42.7L133.8 43.2M138.4 42.5L138.7 43.3M143.4 42.6L144 43.2M148.4 42.8L149.2 43M20.5 47.8L21.2 48.3M25.5 47.9L26.4 48.1M30.7 47.8L31.4 48.2M36 47.6L36.4 48.4M41.1 47.7L41.5 48.4M46 47.8L46.8 48.2M51.2 47.8L51.9 48.2M56.3 47.7L57 48.3M61.4 47.9L62.2 48.2M66.5 47.9L67.3 48.1M97.3 47.8L98 48.2M102.3 47.9L103.2 48.1M107.6 47.7L108.2 48.3M112.8 47.6L113.1 48.4M117.8 47.7L118.4 48.3M122.8 47.9L123.6 48.1M128 47.8L128.7 48.2M133.1 47.7L133.8 48.3M138.2 47.8L139 48.2M143.3 47.8L144.1 48.2M148.6 47.6L149 48.4M20.4 53L21.2 53.2M25.6 52.9L26.3 53.3M30.7 52.8L31.4 53.4M35.8 52.9L36.6 53.3M40.9 52.9L41.7 53.3M46.2 52.7L46.6 53.5M51.3 52.7L51.7 53.5M56.3 53L57.1 53.2M61.4 53L62.2 53.2M66.6 52.8L67.2 53.4M71.7 52.8L72.4 53.4M97.2 53.1L98 53.1M102.4 52.9L103.1 53.3M107.6 52.8L108.2 53.4M112.6 52.9L113.4 53.3M117.8 52.8L118.4 53.4M123 52.7L123.4 53.5M128 52.8L128.7 53.4M133 53.1L133.9 53.1M138.2 53L139 53.2M143.4 52.8L144 53.4M148.5 52.8L149.1 53.4M20.6 57.8L21 58.6M25.7 57.8L26.2 58.5M30.6 58.1L31.5 58.3M35.8 58.1L36.6 58.3M41 57.9L41.6 58.5M46.1 57.9L46.7 58.5M51.2 58L51.9 58.4M56.4 57.9L56.9 58.5M61.6 57.8L62 58.6M66.5 58L67.3 58.4M97.4 57.8L97.8 58.6M102.4 57.9L103.1 58.4M107.4 58.2L108.3 58.2M112.6 58L113.4 58.4M117.9 57.8L118.3 58.6M122.9 57.9L123.5 58.5M128 58L128.7 58.4M133.2 57.9L133.7 58.5M138.3 57.9L138.9 58.5M143.3 58.1L144.1 58.3M148.4 58.1L149.2 58.3M5 63.2L5.9 63.3M10.2 63.2L11 63.4M15.4 63L16 63.6M20.5 63L21.1 63.6M25.6 63.1L26.3 63.5M30.8 63L31.4 63.6M35.9 62.9L36.4 63.6M40.9 63.2L41.7 63.4M46 63.2L46.8 63.3M51.2 63L51.9 63.6M56.4 62.9L56.9 63.6M61.4 63L62.1 63.5M66.5 63L67.3 63.5M92.3 62.9L92.7 63.7M97.3 63L97.9 63.6M102.4 63.1L103.1 63.5M107.5 63L108.2 63.6M112.6 63L113.3 63.6M117.7 63.2L118.5 63.3M122.8 63.1L123.6 63.4M128.1 62.9L128.6 63.7M133.2 62.9L133.7 63.6M138.2 63.1L139 63.5M143.3 63.1L144.1 63.5M148.5 63L149.1 63.6M5.1 68.1L5.8 68.7M10.3 68.1L10.9 68.7M15.3 68.3L16.1 68.5M20.4 68.3L21.2 68.4M25.7 68L26.2 68.7M30.9 68L31.3 68.7M35.8 68.1L36.5 68.6M40.9 68.2L41.7 68.6M46.1 68.1L46.7 68.7M51.2 68.2L51.9 68.6M56.2 68.3L57.1 68.4M61.4 68.1L62.1 68.6M66.7 68L67.1 68.8M71.7 68.1L72.3 68.7M76.7 68.2L77.5 68.5M81.9 68.1L82.6 68.6M87 68.1L87.7 68.6M92.1 68.3L92.9 68.5M97.2 68.2L98 68.6M102.6 68L102.9 68.8M107.6 68L108.1 68.7M112.6 68.2L113.4 68.5M117.7 68.2L118.5 68.5M122.9 68.1L123.5 68.7M127.9 68.2L128.7 68.5M133.1 68.2L133.9 68.5M143.5 68L143.9 68.8M148.4 68.2L149.2 68.6M122.8 73.3L123.6 73.6M127.9 73.4L128.8 73.5M133.1 73.2L133.8 73.7M138.3 73.2L138.9 73.7M143.3 73.3L144.1 73.6M143.4 78.3L144 78.8M148.6 78.2L149.1 78.9M143.3 83.4L144.1 83.9M148.4 83.6L149.2 83.7M143.3 88.6L144.1 88.9M148.5 88.5L149.2 89M143.5 93.4L143.9 94.2M148.5 93.5L149.1 94.1M143.4 98.6L144 99.2M148.4 98.7L149.2 99.1M5.1 103.8L5.8 104.2M10.2 103.8L10.9 104.2M15.5 103.6L15.9 104.4M20.6 103.7L21.1 104.3M25.5 103.9L26.4 104.1M30.6 103.9L31.5 104.1M35.9 103.7L36.5 104.3M41 103.7L41.6 104.3M46 103.8L46.8 104.2M51.3 103.7L51.8 104.3M56.4 103.6L56.9 104.4M61.4 103.9L62.2 104.1M66.5 104L67.3 104M71.7 103.7L72.4 104.3M76.9 103.7L77.4 104.3M81.9 103.8L82.6 104.2M87 103.7L87.7 104.3M92.3 103.6L92.7 104.4M97.3 103.8L98 104.2M102.3 104L103.2 104M107.5 103.8L108.2 104.2M112.7 103.6L113.2 104.4M117.8 103.7L118.4 104.3M122.9 103.8L123.6 104.2M128.1 103.7L128.6 104.3M133.2 103.7L133.8 104.3M138.2 103.9L139 104.1M143.3 103.9L144.1 104.1M148.6 103.7L149.1 104.3" stroke="#2a2a2a" stroke-width="0.8" fill="none" stroke-linecap="round"/><path d="M9.3 22.3L10.4 22.5M14.5 22.2L15.5 22.5M4.3 27.2L5.2 27.6M9.4 27.2L10.4 27.6M14.4 27.5L15.5 27.6M4.2 32.5L5.2 32.7M9.3 32.6L10.4 32.7M14.5 32.4L15.5 32.7M87.5 31.1L87.4 32.9M92.9 31.2L92.5 32.8M4.2 37.8L5.2 37.8M9.3 37.6L10.4 37.8M14.5 37.5L15.5 37.8M87.7 36.3L87.4 37.9M92.9 36.3L92.5 37.9M4.3 42.5L5.2 42.8M9.3 42.7L10.4 42.9M14.4 42.9L15.5 42.9M87.4 41.3L87.4 43M92.4 41.3L92.5 43M4.2 47.7L5.2 48M9.3 47.8L10.4 48M14.5 47.7L15.5 48M87.4 46.4L87.4 48.1M92.7 46.4L92.5 48.1M4.2 52.9L5.2 53.1M9.4 52.6L10.4 53M14.5 52.7L15.5 53M92.7 51.5L92.5 53.2M4.2 57.9L5.2 58.1M9.3 58L10.4 58.2M14.4 58L15.5 58.2M73.3 57.7L72.1 58.2M83.7 58.1L82.3 58.2M92.7 56.6L92.5 58.3M73.4 63.2L72.1 63.3M78.5 63L77.2 63.3M83.6 62.8L82.3 63.3M4 73.2L5.5 73.5M9.1 73.5L10.6 73.5M14.2 73.6L15.7 73.5M19.3 73.4L20.8 73.5M24.4 73.6L25.9 73.5M29.6 73.7L31.1 73.5M34.7 73.4L36.2 73.5M39.8 73.2L41.3 73.5M44.9 73.4L46.4 73.5M50.1 73.6L51.5 73.5M55.2 73.5L56.7 73.5M60.3 73.4L61.8 73.5M65.4 73.6L66.9 73.5M70.5 73.5L72 73.5M75.7 73.2L77.1 73.5M80.8 73.3L82.3 73.5M85.9 73.7L87.4 73.5M91 73.6L92.5 73.5M96.1 73.4L97.6 73.5M101.2 73.5L102.7 73.5M106.4 73.5L107.9 73.5M111.5 73.2L113 73.5M116.6 73.2L118.1 73.5M3.3 78.8L6.2 78.5M8.4 78.3L11.3 78.6M13.5 78.1L16.4 78.7M18.6 78.6L21.5 78.5M23.8 78.9L26.6 78.4M28.9 78.6L31.8 78.5M34 78.5L36.9 78.6M39.1 78.7L42 78.5M44.2 78.5L47.1 78.6M49.4 78.1L52.2 78.7M54.5 78.5L57.4 78.6M59.6 78.9L62.5 78.4M64.7 78.7L67.6 78.5M69.8 78.4L72.7 78.6M74.9 78.6L77.8 78.5M80.1 78.6L83 78.5M85.2 78.2L88.1 78.6M90.3 78.3L93.2 78.6M95.4 78.9L98.3 78.4M100.6 78.9L103.4 78.4M105.7 78.4L108.6 78.6M110.8 78.4L113.7 78.6M115.9 78.6L118.8 78.5M121 78.4L123.9 78.6M126.2 78.3L129 78.6M131.3 78.7L134.2 78.5M136.4 79L139.3 78.4M3.3 83.6L6.2 83.6M8.4 83.5L11.3 83.7M13.5 83.7L16.4 83.6M18.6 83.5L21.5 83.7M23.8 83.3L26.6 83.8M28.9 83.7L31.8 83.6M34 84.1L36.9 83.5M39.1 83.8L42 83.6M44.2 83.4L47.1 83.7M49.3 83.6L52.2 83.6M54.5 83.7L57.4 83.6M59.6 83.4L62.5 83.7M64.7 83.5L67.6 83.7M69.9 84L72.7 83.5M75 83.9L77.8 83.5M80.1 83.4L83 83.7M85.2 83.4L88.1 83.7M90.3 83.7L93.2 83.6M95.4 83.5L98.3 83.7M100.5 83.4L103.4 83.7M105.7 83.9L108.6 83.6M110.8 84.1L113.7 83.5M115.9 83.5L118.8 83.7M121 83.3L123.9 83.8M126.1 83.6L129 83.6M131.3 83.7L134.2 83.6M136.4 83.5L139.3 83.7M3.3 88.9L6.2 88.7M8.4 89.2L11.3 88.6M13.5 88.8L16.4 88.7M18.6 88.4L21.5 88.8M23.7 88.7L26.6 88.7M28.9 88.8L31.8 88.7M34 88.5L36.9 88.8M39.1 88.7L42 88.7M44.3 89.1L47.1 88.6M49.4 88.9L52.2 88.7M54.5 88.4L57.4 88.8M59.6 88.5L62.5 88.8M64.7 88.8L67.6 88.7M69.8 88.7L72.7 88.7M74.9 88.6L77.8 88.8M80.1 89L83 88.6M85.2 89.1L88.1 88.6M90.3 88.5L93.2 88.8M95.5 88.3L98.3 88.9M100.5 88.8L103.4 88.7M105.7 88.9L108.6 88.7M110.8 88.6L113.7 88.8M115.9 88.8L118.8 88.7M121 89.1L123.9 88.6M126.1 88.7L129 88.7M131.3 88.3L134.1 88.9M136.4 88.6L139.3 88.8M3.3 93.9L6.2 93.8M8.4 93.7L11.3 93.9M13.5 93.8L16.4 93.8M18.7 94.2L21.5 93.7M23.7 93.9L26.6 93.8M28.9 93.4L31.7 93.9M34 93.6L36.9 93.9M39.1 94L42 93.8M44.2 93.9L47.1 93.8M49.3 93.7L52.2 93.8M54.5 94.1L57.4 93.7M59.6 94.1L62.5 93.7M64.7 93.5L67.6 93.9M69.9 93.4L72.7 93.9M74.9 93.9L77.8 93.8M80.1 94L83 93.8M85.2 93.8L88.1 93.8M90.3 93.9L93.2 93.8M95.4 94.1L98.3 93.7M100.5 93.7L103.4 93.9M105.7 93.4L108.5 94M110.8 93.8L113.7 93.8M115.9 94.2L118.8 93.7M121 93.9L123.9 93.8M126.1 93.8L129 93.8M131.3 94L134.2 93.8M136.4 93.8L139.3 93.8M3.3 98.5L6.1 99.1M8.4 98.8L11.3 99M13.5 99.2L16.4 98.8M18.6 99L21.5 98.9M23.7 98.8L26.6 98.9M28.9 99.1L31.8 98.8M34 99L36.9 98.9M39.1 98.5L42 99M44.2 98.6L47.1 99M49.4 99.1L52.2 98.8M54.5 99.2L57.4 98.8M59.6 98.8L62.5 98.9M64.7 98.9L67.6 98.9M69.8 99.1L72.7 98.9M75 98.7L77.8 99M80.1 98.5L82.9 99M85.2 99L88.1 98.9M90.3 99.3L93.2 98.8M95.4 98.9L98.3 98.9M100.5 98.8L103.4 98.9M105.7 99L108.6 98.9M110.8 98.9L113.7 98.9M115.9 98.5L118.8 99M121 98.8L123.9 98.9M126.2 99.3L129 98.8M131.3 99.1L134.2 98.8M136.4 98.7L139.3 99" stroke="#1a1a1a" stroke-width="1" fill="none"/><path d="M11.8 22.8L10.2 23.3L10.5 21.7ZM16.9 22.9L15.3 23.3L15.7 21.7ZM6.7 28.1L5 28.4L5.5 26.8ZM11.8 28.1L10.1 28.4L10.7 26.8ZM17 27.8L15.3 28.5L15.6 26.8ZM6.7 33L5.1 33.5L5.4 31.9ZM11.8 32.9L10.3 33.6L10.4 31.9ZM16.9 33.1L15.2 33.5L15.7 31.9ZM87.2 34.3L86.5 32.8L88.2 32.9ZM92.1 34.3L91.6 32.6L93.3 33.1ZM6.7 37.8L5.2 38.7L5.2 37ZM11.8 38.1L10.2 38.6L10.5 37ZM16.9 38.2L15.3 38.6L15.7 37ZM87 39.4L86.5 37.8L88.2 38.1ZM92.1 39.4L91.6 37.7L93.3 38.1ZM6.7 43.3L5 43.7L5.5 42ZM11.8 43.1L10.2 43.7L10.5 42ZM17 42.9L15.5 43.8L15.5 42.1ZM87.4 44.5L86.5 43L88.2 43ZM92.6 44.5L91.7 43.1L93.4 43ZM6.7 48.3L5 48.8L5.4 47.1ZM11.8 48.2L10.2 48.8L10.5 47.1ZM16.9 48.3L15.3 48.8L15.7 47.1ZM87.4 49.6L86.5 48.1L88.2 48.1ZM92.3 49.6L91.6 48L93.3 48.2ZM6.7 53.3L5.1 53.9L5.4 52.2ZM11.8 53.6L10 53.8L10.7 52.2ZM16.9 53.5L15.2 53.9L15.7 52.2ZM92.3 54.7L91.6 53.1L93.3 53.3ZM6.7 58.5L5 59L5.5 57.3ZM11.8 58.4L10.2 59L10.5 57.3ZM17 58.4L15.3 59L15.6 57.3ZM70.7 58.7L71.8 57.4L72.4 59ZM80.8 58.3L82.3 57.3L82.4 59ZM92.3 59.8L91.6 58.2L93.3 58.4ZM70.6 63.4L72 62.4L72.2 64.1ZM75.8 63.6L77 62.4L77.4 64.1ZM80.9 63.8L82 62.5L82.6 64ZM6.9 73.7L5.3 74.3L5.6 72.6ZM12.1 73.4L10.6 74.3L10.5 72.6ZM17.2 73.4L15.8 74.3L15.6 72.6ZM22.3 73.5L20.8 74.3L20.9 72.6ZM27.4 73.4L26 74.3L25.9 72.6ZM32.5 73.2L31.2 74.3L30.9 72.6ZM37.7 73.6L36.1 74.3L36.2 72.6ZM42.8 73.8L41.1 74.3L41.5 72.6ZM47.9 73.5L46.4 74.3L46.4 72.6ZM53 73.3L51.6 74.3L51.4 72.6ZM58.2 73.5L56.7 74.3L56.7 72.6ZM63.3 73.5L61.8 74.3L61.8 72.6ZM68.4 73.3L67 74.3L66.8 72.6ZM73.5 73.4L72 74.3L72 72.6ZM78.6 73.8L77 74.3L77.3 72.6ZM83.8 73.6L82.2 74.3L82.3 72.6ZM88.9 73.2L87.5 74.3L87.3 72.6ZM94 73.3L92.6 74.3L92.4 72.6ZM99.1 73.5L97.6 74.3L97.7 72.6ZM104.2 73.4L102.8 74.3L102.7 72.6ZM109.4 73.4L107.9 74.3L107.8 72.6ZM114.5 73.7L112.9 74.3L113.1 72.6ZM119.6 73.7L118 74.3L118.2 72.6ZM7.6 78.3L6.2 79.3L6.1 77.6ZM12.8 78.8L11.2 79.5L11.4 77.8ZM17.9 79L16.2 79.5L16.6 77.9ZM23 78.5L21.6 79.4L21.5 77.7ZM28.1 78.2L26.8 79.3L26.5 77.6ZM33.3 78.5L31.8 79.4L31.8 77.7ZM38.4 78.6L36.9 79.4L36.9 77.7ZM43.5 78.4L42.1 79.3L41.9 77.6ZM48.6 78.6L47.1 79.4L47.1 77.7ZM53.7 79L52.1 79.5L52.4 77.8ZM58.9 78.6L57.3 79.4L57.4 77.7ZM63.9 78.2L62.6 79.3L62.3 77.6ZM69.1 78.4L67.7 79.3L67.5 77.6ZM74.2 78.7L72.7 79.4L72.8 77.8ZM79.3 78.5L77.9 79.4L77.8 77.7ZM84.5 78.5L83 79.4L82.9 77.7ZM89.6 78.9L88 79.5L88.2 77.8ZM94.7 78.8L93.1 79.5L93.3 77.8ZM99.8 78.2L98.4 79.3L98.2 77.6ZM104.9 78.2L103.6 79.3L103.3 77.6ZM110.1 78.7L108.5 79.4L108.6 77.7ZM115.2 78.7L113.6 79.4L113.7 77.8ZM120.3 78.5L118.8 79.4L118.8 77.7ZM125.4 78.7L123.9 79.4L124 77.7ZM130.5 78.8L128.9 79.5L129.1 77.8ZM135.7 78.4L134.2 79.3L134.1 77.6ZM140.7 78.1L139.4 79.2L139.1 77.6ZM7.7 83.7L6.1 84.5L6.2 82.8ZM12.8 83.8L11.2 84.5L11.3 82.8ZM17.9 83.5L16.4 84.5L16.4 82.8ZM23 83.7L21.5 84.5L21.6 82.8ZM28.1 84L26.5 84.6L26.8 82.9ZM33.3 83.6L31.8 84.5L31.8 82.8ZM38.3 83.2L37 84.3L36.7 82.7ZM43.5 83.5L42 84.4L41.9 82.8ZM48.6 83.9L47 84.6L47.2 82.9ZM53.7 83.7L52.2 84.5L52.3 82.8ZM58.9 83.6L57.4 84.5L57.3 82.8ZM64 83.9L62.4 84.6L62.6 82.9ZM69.1 83.8L67.5 84.5L67.6 82.8ZM74.2 83.2L72.9 84.4L72.6 82.7ZM79.3 83.3L77.9 84.4L77.7 82.7ZM84.4 83.9L82.9 84.6L83 82.9ZM89.6 83.8L88 84.6L88.2 82.9ZM94.7 83.6L93.2 84.5L93.2 82.8ZM99.8 83.7L98.3 84.5L98.4 82.8ZM104.9 83.8L103.4 84.6L103.5 82.9ZM110 83.4L108.7 84.4L108.5 82.7ZM115.1 83.2L113.8 84.3L113.5 82.7ZM120.3 83.8L118.8 84.5L118.8 82.8ZM125.4 84L123.8 84.6L124 82.9ZM130.5 83.6L129 84.5L129 82.8ZM135.7 83.6L134.2 84.5L134.1 82.8ZM140.8 83.8L139.2 84.5L139.3 82.8ZM7.7 88.6L6.2 89.5L6.1 87.8ZM12.7 88.3L11.4 89.4L11.1 87.8ZM17.9 88.7L16.4 89.6L16.4 87.9ZM23 89L21.4 89.7L21.6 88ZM28.1 88.8L26.6 89.6L26.7 87.9ZM33.3 88.7L31.8 89.6L31.7 87.9ZM38.4 88.9L36.8 89.6L37 87.9ZM43.5 88.8L42 89.6L42 87.9ZM48.6 88.3L47.3 89.4L46.9 87.8ZM53.7 88.5L52.3 89.5L52.2 87.8ZM58.8 89.1L57.2 89.7L57.5 88ZM64 89L62.4 89.6L62.6 88ZM69.1 88.6L67.6 89.5L67.6 87.8ZM74.2 88.8L72.7 89.6L72.7 87.9ZM79.3 88.9L77.8 89.6L77.9 87.9ZM84.4 88.5L83.1 89.5L82.8 87.8ZM89.6 88.4L88.2 89.5L87.9 87.8ZM94.7 89L93.1 89.6L93.3 88ZM99.8 89.1L98.2 89.7L98.5 88ZM104.9 88.7L103.5 89.6L103.4 87.9ZM110.1 88.6L108.6 89.5L108.5 87.8ZM115.2 88.8L113.6 89.6L113.7 87.9ZM120.3 88.6L118.8 89.5L118.8 87.8ZM125.4 88.4L124 89.5L123.8 87.8ZM130.5 88.8L129 89.6L129.1 87.9ZM135.6 89.2L134 89.7L134.3 88ZM140.8 88.8L139.2 89.6L139.3 87.9ZM7.7 93.7L6.2 94.6L6.1 92.9ZM12.8 93.9L11.2 94.7L11.3 93ZM17.9 93.8L16.4 94.7L16.4 93ZM23 93.4L21.7 94.5L21.4 92.9ZM28.1 93.7L26.7 94.6L26.6 92.9ZM33.2 94.2L31.6 94.8L31.9 93.1ZM38.4 94L36.8 94.7L37 93ZM43.5 93.6L42.1 94.6L41.9 92.9ZM48.6 93.8L47.1 94.7L47.1 93ZM53.7 93.9L52.2 94.7L52.3 93ZM58.8 93.6L57.5 94.6L57.3 92.9ZM64 93.6L62.6 94.6L62.4 92.9ZM69.1 94.1L67.5 94.8L67.7 93.1ZM74.2 94.2L72.6 94.8L72.9 93.1ZM79.3 93.7L77.9 94.6L77.8 92.9ZM84.4 93.6L83 94.6L82.9 92.9ZM89.6 93.9L88.1 94.7L88.1 93ZM94.7 93.7L93.2 94.6L93.2 92.9ZM99.8 93.6L98.4 94.6L98.2 92.9ZM104.9 94L103.4 94.7L103.5 93ZM110 94.3L108.4 94.8L108.7 93.1ZM115.2 93.8L113.7 94.7L113.7 93ZM120.3 93.5L118.9 94.6L118.7 92.9ZM125.4 93.8L123.9 94.7L123.9 93ZM130.5 93.9L129 94.7L129.1 93ZM135.7 93.6L134.2 94.6L134.1 92.9ZM140.8 93.8L139.3 94.7L139.3 93ZM7.6 99.4L6 99.9L6.3 98.2ZM12.8 99.1L11.2 99.8L11.3 98.1ZM17.9 98.6L16.5 99.7L16.3 98ZM23 98.8L21.6 99.7L21.5 98ZM28.1 99L26.6 99.8L26.7 98.1ZM33.2 98.7L31.8 99.7L31.7 98ZM38.4 98.8L36.9 99.7L36.8 98ZM43.5 99.3L41.8 99.9L42.1 98.2ZM48.6 99.2L47 99.9L47.2 98.2ZM53.7 98.7L52.3 99.7L52.1 98ZM58.8 98.6L57.5 99.7L57.3 98ZM64 99L62.5 99.8L62.5 98.1ZM69.1 98.9L67.6 99.7L67.6 98ZM74.2 98.7L72.8 99.7L72.6 98ZM79.3 99.1L77.8 99.8L77.9 98.1ZM84.4 99.3L82.8 99.9L83.1 98.2ZM89.6 98.8L88.1 99.7L88 98ZM94.7 98.5L93.3 99.6L93 97.9ZM99.8 98.9L98.3 99.7L98.3 98ZM104.9 99L103.4 99.8L103.5 98.1ZM110.1 98.8L108.6 99.7L108.5 98ZM115.2 99L113.7 99.8L113.7 98.1ZM120.3 99.3L118.6 99.9L118.9 98.2ZM125.4 99L123.9 99.8L123.9 98.1ZM130.5 98.5L129.2 99.6L128.9 97.9ZM135.7 98.7L134.2 99.7L134.1 98ZM140.8 99.1L139.2 99.8L139.4 98.1Z" fill="#1a1a1a"/>
</g>
<path d="M69 10.3H78" stroke="#000" stroke-width="0.9"/><path d="M79.5 10.3l-3 -1.5v3z" fill="#000"/>
<text x="86" y="13.0" class="s">0.5m/s</text>
<text x="130.7" y="13.0" class="m">NOV</text>
<rect x="1" y="87.2" width="17" height="17.3" fill="#fff"/>
<text x="2.2" y="100.4" class="l">(c)</text>
<rect width="154.5" height="104.5" fill="none" stroke="#5a5a5a" stroke-width="1"/>
</g>
<g transform="translate(25.5 128.4)">
<g clip-path="url(#cp)">
<rect width="154.5" height="104.5" fill="#fff"/>
<rect x="-2" y="-2" width="158.5" height="108.5" fill="#57a3d3"/>
<path fill="#77b8de" d="M-2 -2L157 -2L157 107L-2 107ZM59 9.7L58.1 11L59 12.3L59.9 11ZM140 35.6L139.5 37L139.7 38L141 38.3L141.3 36Z"/>
<path fill="#96c8e4" d="M-2 -2L157 -2L157 107L-2 107ZM58 9L57.5 12L58 13.1L59 13.5L60 13.1L60.5 12L60.5 10L60 9L59 8.5ZM105 20.8L104.5 22L105 23.2L107 23.8L108.4 23L108.6 22L108 20.9L106 20.4ZM125 12.1L124.3 13L125 13.2ZM140 33.4L138.4 35L137.9 37L138.3 39L140 40.6L142 39.7L142.9 37L142 34Z"/>
<path fill="#b1d8eb" d="M-2 -2L157 -2L157 107L-2 107ZM58 7.8L56.7 10L56.7 12L57.7 14L59 14.6L60 14.3L60.9 13L61.3 10L60 7.8ZM105 19.7L103.6 21L103.3 22L104 23.6L106 24.7L108.7 24L109.5 22L109 20.8L107 19.6ZM124 11.8L123.8 13L125 13.6L125.4 12ZM140 31.9L137.5 34L136.6 37L136.9 39L137.9 41L140 42.2L142 41.4L142.9 40L143.7 36L142.7 33L141.3 32Z"/>
<path fill="#cfe5f0" d="M-2 -2L157 -2L157 107L-2 107ZM58 6.6L56.2 9L56 12L57 14.7L59 15.9L60 15.6L61.4 14L62 10L60.6 7L59 6.3ZM105 18.8L103 19.9L102.4 21L102.4 23L103 24L106 25.6L109 24.8L110.3 23L110 21L108 19.2ZM124 11.3L123.6 13L124 13.7L125 14L125.8 13L125.7 12L125 11.2ZM139 30.8L136.1 34L135.3 38L136.7 42L138 43.2L140 43.7L142 42.9L143 41.7L144.1 39L144.4 35L143 31.4L141 30.4Z"/>
<path fill="#f6f8f9" d="M19.3 -2L157 -2L157 107L-2 107L-2 9.5L13 9.5L16 8.6L17.8 7L19 5ZM24 41.9L21.8 43L21.1 44L21 50L21.7 52L23.3 53L25 53.2L31.5 52L33 51.1L34.5 45L34 42.4L32 41.6ZM58 4.7L55.6 7L54.7 10L54.9 13L56.8 19L52.7 21L50.6 23L49.4 26L48.6 32L50.2 34L53 35.1L63 35.9L64.4 35L65.9 33L67.3 24L66 21.4L61.8 18L63.4 11L62.4 7L60 4.7ZM100 51.6L98.3 53L97.9 54L97 61L99 63L102 63.6L104 62.9L105.8 61L105.5 57L104.9 54L104 52.6L102 51.5ZM105 17.9L103 18.4L101.3 20L101.1 23L102.4 25L104 26L106 26.5L108 26.3L110.8 24L110.8 21L108 18.5ZM120 59.7L118.5 61L118.5 62L120 63.3L121.3 62L121 60.3ZM124 10.9L123.3 13L124 14.1L125 14.3L126.1 13L126.1 12L125 10.7ZM140 28.6L138 29.6L135.7 32L134.2 35L133.6 38L133.8 41L134.6 43L137 45L139 45.6L141 45.3L143 43.4L144.4 40L145.2 36L145 32.9L144 30.3L142 28.8Z"/>
<path fill="#fbede5" d="M88 -2L157 -2L157 107L-2 107L-2 76L5 75.7L8 73.7L9.5 71L9.9 62L11 59.7L13 57.9L15 57.4L25 58.9L33 57.7L36.2 56L39.1 52L40.1 40L41 38.1L42 37.5L44 37.5L53 39.6L56.4 41L58.8 43L61.1 46L66 49.9L70 54.7L72 56.2L74 56L76 54.2L79.6 46L82 43.5L84 45.2L85.9 49L86.9 53L87.2 62L90 65.5L94 67.4L100 68.7L104 68.5L111 67.1L113.7 69L119 74.9L121 75.1L122 74.3L129 58.6L133.2 55L137 50.1L141 48.1L143 45.7L144.8 41L145.8 36L145.9 31L145 27.6L144 26.3L142 25.5L140 25.9L138 27.1L133.3 32L124 45L122 46.7L120 47.4L112 47.5L101 45.3L98.1 44L94.6 40L92 38.3L84 37.9L83 37.4L82.3 35L82.4 29L83 24.9L84 22.5L86.9 19L87 9.3L87.9 6ZM100 16.1L98.5 18L98 21L98.4 23L100.5 26L103 27.4L106 27.8L109 27.1L111 25.5L111.8 24L111.9 22L110 19.1L107 17.3ZM124 10.4L123 12L123.1 13L124 14.3L125 14.5L126 13.7L126.4 12L125 10.3ZM33.7 9L36 9.7L37.6 11L39 13L39.5 15L39.5 25L38.8 32L38 34.6L36 35.7L23 37L15 38.6L12 37.6L9.6 35L8.7 32L8.8 24L10.3 21L14 18.4L23 18L25 17.4L27 15.6L30 11L32 9.5Z"/>
<path fill="#fcdbca" d="M107.8 -2L133.6 -2L133.7 5L136.2 15L136.6 23L134.9 26L131 29.7L128 30.9L120 32.1L113 31.5L111.2 31L110.3 30L112.9 25L112.9 22L111 19.2L106.5 16L104.9 14L105.1 12L107.7 4ZM124 9.9L123 11L122.9 13L124 14.6L125 14.8L126.2 14L126.8 12L126 10.3L125 9.7ZM148.8 29L151 28.5L157 30L157 52.8L152 56L150 56.7L148 56.4L146 55.1L144.5 53L143.8 50L144.2 46L147 32.8L147.9 30ZM43.5 58L46 57L52 57L62 58.7L65 61L69.4 66L74 69.4L74.9 71L74.7 72L73 73.9L68.9 77L65 82L63 83.5L61 83.9L46 83.9L42 83.2L31.4 74L29.9 72L29.8 71L32 68ZM130 70L131 69.1L132 69.1L133.5 70L134.1 71L133.9 72L132.8 73L131 73.5L129.7 72Z"/>
<path fill="#fac5ae" d="M115.9 -2L125.5 -2L125.9 5L127.2 7L132 11.8L133.3 15L133.1 18L131.5 23L129.8 25L122 27L120 27.1L117 26.1L116 25.4L113.6 21L107.6 15L107.5 13L109 10.6L115.3 5L115.8 3ZM125 8.6L123 10L122.5 12L123.1 14L125 15.1L126.6 14L127.3 12L126.9 10ZM149.2 32L151 31.6L153.9 34L154.9 37L155.5 42L154.7 46L153 49.8L151 52L149 52.6L147 51.5L146 50L145.2 46L147 36.7L148 33.5Z"/>
<path fill="#f7ad91" d="M116.9 9L120 8.3L121.9 9L122.9 14L125 15.4L127 14L128 12.1L129 11.9L130.3 13L131.3 15L130.7 18L128 20.7L123 22.7L120 22.9L116 21.5L110.5 17L109.2 15L109.2 14L111 11.4ZM148.7 35L150 34L152 35.3L153.1 38L153.6 42L153.3 45L152.1 48L151 49.4L149 50.2L147 48.6L146.1 45L147 39.1Z"/>
<path fill="#f29678" d="M114.9 11L119 10.1L121 10.3L122.6 14L124 15.5L126 15.5L128 13.8L129 14L129.5 15L129.3 17L127 19.3L123 20.8L120 21.1L116 20.2L112.7 18L110.5 15L111.3 13ZM148.8 37L150 36.2L151 36.8L152.1 39L152.5 42L152 45L151.1 47L150 48L149 48.2L147.6 47L146.9 44L147.5 40Z"/>
<path fill="#eb7d63" d="M115 12L119 11L121 11.4L122.3 14L124 15.8L127.7 16L127.5 17L125 19L122 19.9L119 20L116 19.2L112.7 17L111.8 15L113 13.1ZM148.9 39L150 38.5L150.5 39L151.4 42L150.7 45L150 46L149 46.2L148 45L147.7 43Z"/>
<path fill="#dd5748" d="M117.8 12L120 11.8L121 12.3L123 15.4L125.1 17L124.7 18L122 19.1L119 19.2L116 18.4L114 17.1L113.1 15L113.6 14L115 12.9Z"/>
<path fill="#cd333a" d="M116.8 13L119 12.5L121 13L123.7 17L122.9 18L121 18.5L118 18.3L116 17.5L114.5 16L114.4 15L115 14Z"/>
<path fill="#c4182f" d="M116.6 14L119 13.3L121 13.7L122.4 16L122.5 17L120 17.8L117 17.1L115.8 16L115.7 15Z"/>
<path fill="#ad0d31" d="M117.3 15L120 14.1L121 14.7L121.6 16L121 16.8L119 16.9L117.4 16Z"/>
<use href="#land"/>
<path d="M10.4 1.9L10.8 2.5M15.4 2L16 2.4M20.6 1.9L21.1 2.5M25.7 1.9L26.2 2.5M30.7 2.1L31.4 2.3M35.9 2L36.5 2.4M41.2 1.9L41.4 2.5M15.6 6.9L15.8 7.6M20.7 7L21 7.6M25.6 7.1L26.3 7.4M30.8 7.1L31.4 7.5M36 7L36.4 7.6M41 7.1L41.6 7.5M46.1 7.1L46.7 7.5M51.4 7L51.7 7.6M15.4 12.1L16 12.6M20.5 12.2L21.1 12.6M25.8 12.1L26.1 12.7M30.9 12.1L31.2 12.7M35.9 12.2L36.5 12.5M41 12.3L41.6 12.5M46.2 12.1L46.6 12.7M51.3 12.1L51.7 12.7M15.4 17.3L16 17.6M20.6 17.2L21 17.8M25.8 17.2L26.1 17.8M30.8 17.2L31.3 17.7M36 17.2L36.4 17.8M41.1 17.2L41.5 17.8M46.1 17.3L46.7 17.6M51.2 17.4L51.9 17.5M56.4 17.2L56.9 17.7M107.6 17.3L108.2 17.7M112.7 17.2L113.2 17.7M117.9 17.2L118.3 17.7M122.9 17.3L123.6 17.6M128 17.3L128.7 17.6M10.3 22.3L10.8 22.8M15.5 22.3L15.9 22.9M20.5 22.4L21.1 22.7M25.6 22.5L26.3 22.7M30.9 22.3L31.2 22.9M36.1 22.2L36.3 22.9M41 22.3L41.6 22.8M46.1 22.3L46.7 22.8M51.3 22.3L51.7 22.8M56.4 22.3L56.9 22.8M102.4 22.4L103 22.8M107.8 22.2L108 22.9M112.8 22.2L113.1 22.9M117.8 22.4L118.4 22.7M122.9 22.4L123.5 22.7M128.1 22.3L128.6 22.8M5.3 27.3L5.6 28M10.5 27.3L10.7 28M15.4 27.4L16 27.9M20.5 27.5L21.1 27.8M25.7 27.4L26.2 27.9M30.8 27.4L31.3 27.9M35.9 27.5L36.5 27.8M41.1 27.4L41.5 27.9M46.4 27.3L46.5 28M51.3 27.4L51.8 27.9M56.3 27.5L57 27.8M61.5 27.4L62 27.9M118 27.3L118.2 28M123.1 27.3L123.3 28M128 27.5L128.6 27.8M133.1 27.5L133.8 27.8M5.2 32.5L5.7 33M10.3 32.6L10.9 32.9M15.5 32.4L15.9 33M20.7 32.4L20.9 33.1M25.7 32.5L26.2 33M30.7 32.6L31.4 32.8M35.9 32.5L36.4 33M41.1 32.5L41.5 33M46.1 32.5L46.7 32.9M51.3 32.5L51.8 33M56.6 32.4L56.8 33.1M61.6 32.5L62 33M87.1 32.5L87.7 33M117.9 32.4L118.3 33M122.9 32.5L123.5 33M128.1 32.5L128.6 33M133.3 32.4L133.6 33.1M138.3 32.5L138.9 32.9M143.4 32.7L144 32.8M5.1 37.7L5.8 37.9M10.3 37.6L10.8 38.1M15.5 37.5L15.9 38.1M20.5 37.6L21.1 38.1M25.7 37.6L26.2 38.1M30.9 37.5L31.2 38.2M35.9 37.6L36.4 38.1M41 37.8L41.6 37.9M46.1 37.6L46.7 38M51.4 37.5L51.7 38.1M56.4 37.6L56.9 38.1M61.5 37.6L62 38.1M87.2 37.5L87.6 38.1M92.3 37.5L92.7 38.1M97.3 37.6L97.9 38.1M102.5 37.6L103 38.1M107.7 37.5L108 38.1M112.7 37.7L113.3 38M117.8 37.7L118.4 37.9M123 37.6L123.4 38.1M128.2 37.5L128.4 38.2M133.2 37.6L133.7 38.1M138.3 37.6L138.9 38M143.5 37.5L143.9 38.1M20.5 42.7L21.1 43.1M25.8 42.6L26.1 43.3M30.8 42.6L31.3 43.2M35.9 42.7L36.5 43.1M41.1 42.6L41.5 43.2M46.2 42.7L46.6 43.2M51.2 42.8L51.9 43M56.3 42.8L57 43.1M61.7 42.6L61.9 43.2M66.8 42.6L67 43.2M87.1 42.8L87.7 43.1M92.2 42.8L92.8 43M97.4 42.6L97.8 43.2M102.7 42.6L102.8 43.3M107.6 42.7L108.1 43.2M112.7 42.7L113.3 43.1M117.9 42.6L118.3 43.2M123 42.7L123.5 43.1M128 42.8L128.7 43M133.2 42.7L133.7 43.2M138.5 42.6L138.6 43.3M143.5 42.6L143.9 43.2M148.5 42.8L149.1 43.1M20.6 47.8L21.1 48.3M25.6 47.9L26.3 48.1M30.8 47.8L31.4 48.2M36.1 47.7L36.3 48.4M41.1 47.7L41.5 48.3M46.1 47.8L46.7 48.2M51.3 47.8L51.8 48.2M56.4 47.7L56.9 48.3M61.5 47.8L62.1 48.2M66.6 47.9L67.2 48.2M87.1 47.9L87.7 48.2M92.3 47.7L92.7 48.3M97.4 47.8L97.9 48.2M102.4 47.9L103.1 48.2M107.6 47.7L108.1 48.3M112.9 47.7L113 48.4M117.9 47.7L118.3 48.3M122.9 47.9L123.6 48.1M128.1 47.8L128.6 48.2M133.2 47.7L133.7 48.3M138.3 47.8L138.9 48.2M143.4 47.8L144 48.2M148.7 47.7L148.9 48.4M20.5 53L21.1 53.2M25.7 52.9L26.2 53.3M30.8 52.8L31.3 53.4M35.9 52.9L36.5 53.3M41 52.9L41.6 53.3M46.3 52.8L46.5 53.4M51.4 52.8L51.7 53.4M56.4 52.9L57 53.3M61.5 53L62.1 53.2M66.7 52.8L67.1 53.4M71.8 52.8L72.3 53.4M92.2 52.9L92.8 53.3M97.3 53L98 53.2M102.5 52.9L103 53.3M107.7 52.8L108.1 53.4M112.7 52.9L113.3 53.3M117.9 52.8L118.3 53.4M123.1 52.8L123.3 53.4M128.1 52.8L128.6 53.4M133.1 53L133.8 53.2M138.3 52.9L138.9 53.3M143.5 52.8L143.9 53.4M148.6 52.8L149 53.4M20.7 57.9L20.9 58.5M25.8 57.9L26.1 58.5M30.7 58.1L31.4 58.3M35.9 58.1L36.5 58.3M41.1 57.9L41.5 58.5M46.2 57.9L46.6 58.5M51.3 58L51.8 58.4M56.5 57.9L56.8 58.5M61.7 57.9L61.9 58.5M66.6 58L67.2 58.4M71.7 58.1L72.4 58.3M102.5 57.9L103 58.4M107.5 58.1L108.2 58.3M112.7 58L113.3 58.4M118 57.9L118.2 58.5M123 57.9L123.4 58.5M128.1 58L128.6 58.4M133.3 57.9L133.7 58.5M138.4 57.9L138.8 58.5M143.4 58.1L144 58.3M148.5 58.1L149.2 58.3M20.6 63L21 63.6M25.7 63.1L26.2 63.5M30.9 63L31.3 63.6M36 63L36.3 63.6M41 63.1L41.6 63.4M46.1 63.2L46.8 63.4M51.3 63L51.8 63.6M56.5 63L56.8 63.6M61.5 63L62 63.5M66.6 63L67.2 63.5M71.8 63L72.2 63.6M76.9 63.1L77.4 63.5M102.5 63.1L103 63.5M107.6 63L108.1 63.6M112.7 63L113.2 63.5M117.8 63.2L118.4 63.4M122.9 63.1L123.5 63.4M128.2 62.9L128.5 63.6M133.3 63L133.6 63.6M138.3 63.1L138.9 63.5M143.4 63.1L144 63.5M148.6 63L149 63.6M20.5 68.3L21.2 68.5M25.8 68.1L26.1 68.7M30.9 68L31.2 68.7M35.9 68.1L36.4 68.6M41 68.1L41.6 68.6M46.2 68.1L46.6 68.7M51.3 68.2L51.8 68.6M56.3 68.3L57 68.5M61.5 68.1L62 68.6M66.8 68L67 68.7M71.8 68.1L72.2 68.6M76.8 68.2L77.4 68.5M82 68.1L82.5 68.6M87.1 68.1L87.6 68.6M92.2 68.2L92.8 68.5M97.3 68.2L97.9 68.6M102.7 68L102.8 68.7M107.7 68L108 68.7M112.7 68.2L113.3 68.5M117.8 68.2L118.4 68.6M123 68.1L123.4 68.6M128 68.2L128.6 68.6M133.2 68.2L133.8 68.5M143.6 68L143.8 68.7M148.5 68.2L149.1 68.6M5.3 73.1L5.6 73.8M10.3 73.2L10.9 73.7M15.4 73.3L16 73.7M20.6 73.2L21 73.7M25.6 73.3L26.2 73.7M30.7 73.3L31.4 73.6M36 73.2L36.4 73.8M41.2 73.1L41.4 73.8M46.2 73.2L46.7 73.7M51.2 73.3L51.9 73.6M56.4 73.2L56.9 73.7M61.5 73.2L62 73.7M66.6 73.3L67.2 73.6M71.8 73.2L72.3 73.7M77.1 73.1L77.2 73.8M82.1 73.2L82.4 73.8M87.1 73.3L87.7 73.6M92.2 73.3L92.8 73.6M97.4 73.2L97.8 73.7M102.5 73.2L103 73.7M107.6 73.3L108.1 73.7M112.9 73.1L113.1 73.8M118 73.1L118.2 73.8M122.9 73.3L123.5 73.6M128 73.3L128.7 73.6M133.2 73.2L133.7 73.7M138.4 73.2L138.8 73.7M143.4 73.3L144 73.7M5.1 78.4L5.8 78.7M10.4 78.2L10.7 78.9M15.6 78.2L15.8 78.9M20.5 78.3L21.1 78.8M25.6 78.4L26.3 78.7M30.8 78.3L31.3 78.8M36 78.3L36.4 78.8M5.2 83.4L5.7 83.9M10.4 83.4L10.8 83.9M15.4 83.4L16 83.9M20.6 83.4L21 83.9M25.8 83.3L26 84M30.8 83.4L31.3 83.9M35.8 83.6L36.5 83.7M5.2 88.5L5.7 88.9M10.2 88.7L10.9 88.8M15.4 88.5L16 89M20.7 88.4L20.9 89.1M25.7 88.5L26.2 89M30.8 88.5L31.3 89M36 88.4L36.4 89M5.2 93.6L5.7 94M10.4 93.5L10.8 94.1M15.4 93.6L16 94.1M20.5 93.7L21.2 93.9M25.7 93.6L26.2 94M31 93.5L31.1 94.2M36 93.5L36.4 94.1M5.4 98.6L5.5 99.3M10.4 98.6L10.8 99.2M15.4 98.8L16 99.1M20.5 98.7L21.1 99.1M25.7 98.6L26.2 99.2M30.8 98.7L31.4 99.1M35.9 98.7L36.5 99.1M5.2 103.8L5.8 104.2M10.3 103.8L10.8 104.2M15.6 103.7L15.8 104.3M20.7 103.7L21 104.3M25.6 103.9L26.3 104.1M30.7 103.9L31.4 104.1M36 103.7L36.4 104.3M41.1 103.7L41.5 104.3M46.1 103.8L46.7 104.2M51.4 103.7L51.7 104.3M56.5 103.7L56.8 104.3M61.5 103.8L62.1 104.2M66.6 103.9L67.2 104.1M71.8 103.7L72.3 104.3M77 103.7L77.3 104.3M82 103.8L82.5 104.2M87.1 103.7L87.6 104.3M92.4 103.7L92.6 104.3M97.4 103.8L97.9 104.2M102.4 103.9L103.1 104.1M107.6 103.8L108.1 104.2M112.8 103.7L113.1 104.3M117.9 103.7L118.3 104.3M122.9 103.8L123.5 104.2M128.2 103.7L128.5 104.3M133.2 103.7L133.7 104.3M138.2 103.9L138.9 104.1M143.4 103.9L144 104.1M148.7 103.7L149 104.3" stroke="#2a2a2a" stroke-width="0.8" fill="none" stroke-linecap="round"/><path d="M96.1 27.8L97.6 27.7M101.2 27.6L102.7 27.7M106.4 27.7L107.9 27.7M111.5 27.7L113 27.7M91 32.6L92.5 32.7M96.1 32.6L97.6 32.7M101.3 32.9L102.7 32.7M106.4 33L107.9 32.7M111.5 32.7L113 32.7M3.7 41.8L6 43.2M8.6 42.1L11.1 43.2M13.7 42.4L16.3 43.1M3.6 47L6 48.3M8.6 47.2L11.1 48.2M13.8 47L16.2 48.3M3.5 52.2L6 53.4M8.9 51.8L11.1 53.5M13.9 52L16.2 53.4M3.6 57.2L6 58.5M8.6 57.4L11.1 58.4M13.8 57.4L16.3 58.4M80.8 58L82.3 58.2M91 58.2L92.5 58.2M96.1 58L97.6 58.2M3.4 62.7L6 63.4M8.6 62.6L11.2 63.5M13.9 62.2L16.2 63.6M80.8 63.6L82.3 63.3M91 63L92.5 63.3M96.1 63.2L97.6 63.3M3.6 67.4L6 68.7M8.7 67.3L11.1 68.7M13.7 67.7L16.3 68.5M39.9 78.7L41.2 78.6M45 78.5L46.3 78.5M50.2 78.3L51.4 78.5M55.3 78.5L56.6 78.5M60.4 78.8L61.7 78.6M65.5 78.7L66.8 78.6M70.6 78.5L71.9 78.5M75.7 78.6L77 78.6M80.9 78.6L82.2 78.6M86 78.4L87.3 78.5M91.1 78.4L92.4 78.5M96.2 78.8L97.5 78.6M101.4 78.8L102.6 78.6M106.5 78.5L107.8 78.5M111.6 78.5L112.9 78.5M116.7 78.6L118 78.6M121.8 78.5L123.1 78.5M127 78.4L128.2 78.5M132.1 78.7L133.4 78.6M137.2 78.8L138.5 78.6M142.3 78.5L143.6 78.5M147.4 78.4L148.7 78.5M39.9 83.7L41.2 83.6M45 83.5L46.3 83.6M50.1 83.6L51.4 83.6M55.3 83.7L56.6 83.6M60.4 83.5L61.7 83.6M65.5 83.6L66.8 83.6M70.6 83.9L71.9 83.7M75.8 83.8L77 83.7M80.9 83.5L82.2 83.6M86 83.5L87.3 83.6M91.1 83.7L92.4 83.6M96.2 83.6L97.5 83.6M101.3 83.5L102.6 83.6M106.5 83.8L107.8 83.7M111.6 83.9L112.9 83.7M116.7 83.6L118 83.6M121.8 83.4L123.1 83.6M126.9 83.6L128.2 83.6M132.1 83.7L133.4 83.6M137.2 83.5L138.5 83.6M142.3 83.7L143.6 83.6M147.4 83.9L148.7 83.7M39.9 88.7L41.2 88.7M45 89L46.3 88.7M50.1 88.9L51.4 88.7M55.3 88.5L56.6 88.7M60.4 88.6L61.7 88.7M65.5 88.8L66.8 88.7M70.6 88.7L71.9 88.7M75.7 88.7L77 88.7M80.9 88.9L82.2 88.7M86 88.9L87.3 88.7M91.1 88.6L92.4 88.7M96.2 88.5L97.5 88.7M101.3 88.8L102.6 88.7M106.5 88.8L107.8 88.7M111.6 88.7L112.9 88.7M116.7 88.8L118 88.7M121.8 89L123.1 88.7M126.9 88.7L128.2 88.7M132.1 88.4L133.4 88.7M137.2 88.7L138.5 88.7M142.3 88.9L143.6 88.7M147.4 88.8L148.7 88.7M39.9 93.9L41.2 93.8M45 93.8L46.3 93.8M50.1 93.8L51.4 93.8M55.3 94L56.6 93.8M60.4 94L61.7 93.8M65.5 93.6L66.8 93.8M70.6 93.6L71.9 93.8M75.7 93.9L77 93.8M80.9 94L82.2 93.8M86 93.8L87.3 93.8M91.1 93.9L92.4 93.8M96.2 94L97.5 93.8M101.3 93.7L102.6 93.8M106.5 93.5L107.8 93.8M111.6 93.8L112.9 93.8M116.7 94L118 93.8M121.8 93.9L123.1 93.8M126.9 93.8L128.2 93.8M132.1 93.9L133.4 93.8M137.2 93.8L138.5 93.8M142.3 93.6L143.6 93.8M147.4 93.7L148.7 93.8M39.9 98.7L41.2 98.9M45 98.7L46.3 98.9M50.1 99.1L51.4 98.9M55.3 99.1L56.6 98.9M60.4 98.9L61.7 98.9M65.5 98.9L66.8 98.9M70.6 99L71.9 98.9M75.7 98.8L77 98.9M80.9 98.6L82.2 98.9M86 99L87.3 98.9M91.1 99.2L92.4 98.9M96.2 98.9L97.5 98.9M101.3 98.8L102.6 98.9M106.5 99L107.8 98.9M111.6 98.9L112.9 98.9M116.7 98.7L118 98.9M121.8 98.9L123.1 98.9M127 99.2L128.2 98.9M132.1 99L133.4 98.9M137.2 98.8L138.5 98.9M142.3 98.9L143.6 98.9M147.4 99L148.7 98.9" stroke="#1a1a1a" stroke-width="1" fill="none"/><path d="M99.1 27.5L97.7 28.5L97.5 26.8ZM104.2 27.7L102.7 28.5L102.8 26.8ZM109.4 27.6L107.9 28.5L107.8 26.8ZM114.5 27.6L113 28.5L112.9 26.8ZM94 32.9L92.4 33.6L92.6 31.9ZM99.1 32.9L97.5 33.6L97.7 31.9ZM104.2 32.5L102.9 33.6L102.6 31.9ZM109.3 32.5L108 33.6L107.7 31.9ZM114.5 32.8L112.9 33.6L113 31.9ZM7.2 44L5.5 44L6.4 42.5ZM12.5 43.7L10.8 43.9L11.5 42.4ZM17.7 43.4L16.1 43.9L16.5 42.2ZM7.3 49L5.6 49L6.4 47.5ZM12.5 48.8L10.8 49L11.5 47.4ZM17.6 49L15.8 49L16.6 47.5ZM7.4 54L5.7 54.1L6.4 52.6ZM12.3 54.4L10.6 54.1L11.6 52.8ZM17.5 54.2L15.8 54.1L16.6 52.7ZM7.3 59.2L5.6 59.2L6.4 57.7ZM12.5 59L10.8 59.2L11.5 57.6ZM17.6 59L15.9 59.2L16.6 57.7ZM83.8 58.3L82.2 59L82.3 57.3ZM94 58.2L92.5 59L92.5 57.3ZM99.1 58.4L97.5 59L97.7 57.3ZM7.5 63.8L5.8 64.3L6.3 62.6ZM12.6 63.9L10.9 64.3L11.4 62.7ZM17.5 64.3L15.8 64.3L16.6 62.9ZM83.7 63L82.4 64.1L82.1 62.4ZM94 63.5L92.4 64.1L92.6 62.4ZM99.1 63.4L97.6 64.1L97.7 62.4ZM7.3 69.4L5.6 69.4L6.4 67.9ZM12.4 69.4L10.7 69.4L11.5 67.9ZM17.7 69L16 69.4L16.5 67.7ZM42.7 78.4L41.3 79.4L41.1 77.7ZM47.8 78.6L46.3 79.4L46.3 77.7ZM52.9 78.8L51.3 79.4L51.6 77.7ZM58.1 78.6L56.5 79.4L56.6 77.7ZM63.2 78.3L61.8 79.4L61.5 77.7ZM68.3 78.4L66.9 79.4L66.7 77.7ZM73.4 78.6L71.9 79.4L72 77.7ZM78.5 78.5L77.1 79.4L77 77.7ZM83.7 78.5L82.2 79.4L82.1 77.7ZM88.8 78.7L87.2 79.4L87.4 77.7ZM93.9 78.7L92.3 79.4L92.5 77.7ZM99 78.3L97.6 79.4L97.4 77.7ZM104.1 78.3L102.8 79.4L102.5 77.7ZM109.3 78.6L107.7 79.4L107.8 77.7ZM114.4 78.6L112.8 79.4L112.9 77.7ZM119.5 78.5L118 79.4L118 77.7ZM124.6 78.6L123.1 79.4L123.2 77.7ZM129.7 78.7L128.1 79.4L128.4 77.7ZM134.9 78.4L133.4 79.4L133.3 77.7ZM140 78.3L138.7 79.4L138.3 77.7ZM145.1 78.6L143.6 79.4L143.6 77.7ZM150.2 78.7L148.6 79.4L148.8 77.7ZM42.7 83.6L41.3 84.5L41.2 82.8ZM47.8 83.8L46.2 84.5L46.4 82.8ZM52.9 83.7L51.4 84.5L51.5 82.8ZM58.1 83.6L56.6 84.5L56.5 82.8ZM63.2 83.8L61.6 84.5L61.8 82.8ZM68.3 83.7L66.7 84.5L66.9 82.8ZM73.4 83.4L72.1 84.5L71.8 82.8ZM78.5 83.4L77.2 84.5L76.9 82.8ZM83.7 83.8L82.1 84.5L82.2 82.8ZM88.8 83.8L87.2 84.5L87.4 82.8ZM93.9 83.6L92.4 84.5L92.4 82.8ZM99 83.7L97.5 84.5L97.6 82.8ZM104.1 83.8L102.6 84.5L102.7 82.8ZM109.3 83.5L107.9 84.5L107.7 82.8ZM114.4 83.4L113 84.5L112.7 82.8ZM119.5 83.7L118 84.5L118 82.8ZM124.6 83.9L123 84.5L123.3 82.8ZM129.7 83.6L128.2 84.5L128.2 82.8ZM134.9 83.6L133.4 84.5L133.3 82.8ZM140 83.7L138.4 84.5L138.5 82.8ZM145.1 83.6L143.6 84.5L143.6 82.8ZM150.2 83.4L148.9 84.5L148.6 82.8ZM42.7 88.8L41.2 89.6L41.2 87.9ZM47.8 88.5L46.5 89.6L46.2 87.9ZM52.9 88.6L51.5 89.6L51.4 87.9ZM58 88.9L56.4 89.6L56.7 87.9ZM63.2 88.9L61.6 89.6L61.8 87.9ZM68.3 88.7L66.8 89.6L66.8 87.9ZM73.4 88.8L71.9 89.6L71.9 87.9ZM78.5 88.8L77 89.6L77.1 87.9ZM83.6 88.6L82.3 89.6L82.1 87.9ZM88.8 88.5L87.4 89.6L87.2 87.9ZM93.9 88.9L92.3 89.6L92.5 87.9ZM99 89L97.4 89.5L97.7 87.9ZM104.1 88.7L102.7 89.6L102.6 87.9ZM109.3 88.6L107.8 89.6L107.7 87.9ZM114.4 88.8L112.8 89.6L112.9 87.9ZM119.5 88.7L118 89.6L118 87.9ZM124.6 88.5L123.3 89.6L123 87.9ZM129.7 88.8L128.2 89.6L128.3 87.9ZM134.8 89L133.2 89.5L133.5 87.9ZM140 88.8L138.4 89.6L138.5 87.9ZM145.1 88.6L143.7 89.6L143.5 87.9ZM150.2 88.7L148.7 89.6L148.7 87.9ZM42.7 93.7L41.3 94.7L41.1 93ZM47.8 93.8L46.3 94.7L46.3 93ZM52.9 93.9L51.4 94.7L51.5 93ZM58.1 93.7L56.7 94.7L56.5 93ZM63.2 93.7L61.8 94.7L61.6 93ZM68.3 94L66.7 94.6L66.9 93ZM73.4 94.1L71.8 94.6L72.1 93ZM78.5 93.7L77.1 94.7L77 93ZM83.7 93.7L82.2 94.7L82.1 93ZM88.8 93.9L87.3 94.7L87.3 93ZM93.9 93.8L92.4 94.7L92.4 93ZM99 93.6L97.6 94.7L97.4 93ZM104.1 93.9L102.6 94.7L102.7 93ZM109.2 94.1L107.6 94.6L107.9 93ZM114.4 93.8L112.9 94.7L112.9 93ZM119.5 93.6L118.1 94.7L117.9 93ZM124.6 93.8L123.1 94.7L123.1 93ZM129.7 93.9L128.2 94.7L128.3 93ZM134.9 93.7L133.4 94.7L133.3 93ZM140 93.8L138.5 94.7L138.5 93ZM145.1 94.1L143.4 94.6L143.8 93ZM150.2 93.9L148.6 94.7L148.8 93ZM42.7 99.1L41.1 99.7L41.3 98.1ZM47.8 99.1L46.2 99.7L46.4 98.1ZM52.9 98.8L51.5 99.8L51.4 98.1ZM58 98.7L56.7 99.8L56.5 98.1ZM63.2 99L61.7 99.8L61.7 98.1ZM68.3 98.9L66.8 99.8L66.8 98.1ZM73.4 98.8L72 99.8L71.8 98.1ZM78.5 99L77 99.7L77.1 98.1ZM83.6 99.2L82 99.7L82.3 98.1ZM88.8 98.8L87.3 99.8L87.2 98.1ZM93.9 98.7L92.6 99.8L92.3 98.1ZM99 98.9L97.5 99.8L97.5 98.1ZM104.1 99L102.6 99.8L102.7 98.1ZM109.3 98.8L107.8 99.8L107.7 98.1ZM114.4 98.9L112.9 99.8L112.9 98.1ZM119.5 99.2L117.9 99.7L118.2 98.1ZM124.6 99L123.1 99.8L123.2 98.1ZM129.7 98.6L128.4 99.8L128.1 98.1ZM134.9 98.8L133.4 99.8L133.3 98.1ZM140 99L138.4 99.7L138.6 98.1ZM145.1 98.9L143.6 99.8L143.6 98.1ZM150.2 98.9L148.7 99.8L148.7 98.1Z" fill="#1a1a1a"/>
</g>
<path d="M69 10.3H78" stroke="#000" stroke-width="0.9"/><path d="M79.5 10.3l-3 -1.5v3z" fill="#000"/>
<text x="86" y="13.0" class="s">0.5m/s</text>
<text x="130.7" y="13.0" class="m">JJAS</text>
<rect x="1" y="87.2" width="17" height="17.3" fill="#fff"/>
<text x="2.2" y="100.4" class="l">(d)</text>
<rect width="154.5" height="104.5" fill="none" stroke="#5a5a5a" stroke-width="1"/>
</g>
<g transform="translate(188.5 128.4)">
<g clip-path="url(#cp)">
<rect width="154.5" height="104.5" fill="#fff"/>
<rect x="-2" y="-2" width="158.5" height="108.5" fill="#145096"/>
<path fill="#1c64aa" d="M-2 -2L157 -2L157 107L-2 107ZM94 25.8L92.1 27L90.6 31L86.9 34L86.7 36L87.9 40L86.1 45L87.7 49L87.9 53L90.7 56L92 59.8L93 60.9L94 60.9L94.7 60L95.4 58L93 54.3L91.1 49L90.7 44L89.5 40L92.4 32L95 30L96.6 28L96.8 27L96.1 26Z"/>
<path fill="#2773b8" d="M-2 -2L157 -2L157 107L-2 107ZM93 25.9L91.8 27L90 30.9L86.6 34L86.4 36L87.4 40L85.9 45L87.3 49L87.6 53L90.2 56L92 60.6L93 61.7L94 61.7L95.2 60L95.7 58L93.3 54L91.4 49L90.1 40L92.4 33L96.3 29L97.2 27L96.8 26L96 25.6Z"/>
<path fill="#3787c3" d="M-2 -2L157 -2L157 107L-2 107ZM93 25.6L91.5 27L90 30.4L86.3 34L86.9 40L85.6 45L86.9 49L87.2 53L90 56.6L93 63.3L94 63.4L96 58L93.8 54L91.5 48L90.5 40L92.8 33L96.6 29L97.6 26L96 25.3Z"/>
<path fill="#57a3d3" d="M-2 -2L157 -2L157 107L-2 107ZM95 24.9L91.9 26L89.8 30L86.1 34L86.5 40L85.3 45L86.5 49L86.9 53L90 57.7L91.9 63L93 68.6L94 69.6L96.4 58L91.9 48L90.9 40L93.2 33L96.9 29L98.5 26L98 25.3Z"/>
<path fill="#77b8de" d="M-2 -2L157 -2L157 107L-2 107ZM54 15.9L53.6 17L53.9 18L55 18.5L56 18.1L56.5 17L56.1 16L55 15.5ZM94 24.7L91.5 26L89.4 30L85.7 34L86.1 40L85 45L86.1 49L86.4 53L90 59L91.2 63L92.5 71L93 72.2L94 72.5L95 70.4L95.7 63L96.8 58L92.3 48L91.4 40L93.6 33L100.5 25L100 24.4Z"/>
<path fill="#96c8e4" d="M-2 -2L157 -2L157 107L-2 107ZM54 14.4L52.4 16L52.4 18L54 19.7L56 19.7L57.7 18L57.7 16L56 14.3ZM98 23.9L94 24.4L92 25.2L89 29.8L85.8 33L85.1 35L85.5 40L84.4 45L85.7 53L89 58.4L91.9 72L92.7 73L94 73.3L95.4 72L97.3 58L96.8 56L92.8 48L91.9 39L94.1 33L99 27.1L103.2 24L101 23.3ZM106 22L104.4 23L106 23.6L107 23.4L107.9 23L108.3 22Z"/>
<path fill="#b1d8eb" d="M-2 -2L157 -2L157 107L-2 107ZM55 13L52.4 14L51.1 17L52.3 20L55 21.2L57.9 20L59.2 17L58 14.2ZM105 21.9L93 24.3L90.6 26L89 29L84.8 34L84.8 40L83.7 45L84.4 50L84 52.5L83 52.9L81 52.2L79 52.3L77 53.7L75.9 56L75.6 59L76 61L77.6 63L80 64.1L82 64.1L83.8 63L85.5 61L86 58.1L87 58.8L89 63.3L91.1 72L93 73.9L95 73.6L96.1 72L98 58L97.7 56L93.3 47L92.4 41L92.9 37L94.7 33L100 26.8L104 24.6L107 24.2L109.4 23L109.3 22L108 21.1Z"/>
<path fill="#cfe5f0" d="M-2 -2L157 -2L157 107L-2 107ZM53 11.9L51.3 13L50.1 15L49.7 17L50 19L51.1 21L53 22.7L55 23.1L57 22.8L59 21.7L60.4 20L61.1 17L60.8 15L59.1 13L57 11.9L55 11.5ZM62 34.4L55 41L54 43L58.4 52L61 53.8L63 54.2L65 53.6L67.2 52L67.8 50L67.6 44L66.8 40L65 36.2L63 34.3ZM107 20.8L104 21.8L94 23.5L91 24.9L88 29.2L84.2 33L83.5 35L83 40.8L82 42.4L76 47.7L73.3 52L73.6 60L75.8 64L81 67.3L87 68.1L88 68.9L90.6 73L93 74.5L95.4 74L96.7 72L100.2 54L99.7 52L96 49.2L94 45.9L93.1 41L93.9 36L95.4 33L100 27.5L104 25.3L109.6 24L110.7 23L109 21ZM131 32.7L131 34.1L133.5 34L133.1 33Z"/>
<path fill="#f6f8f9" d="M-2 -2L38.6 -2L38.7 3L39.5 5L43 8.4L47.3 10L47.1 18L48.3 28L48.2 32L47.5 34L45 36.7L40.6 40L37.7 45L36 46.7L33 47.5L25 47.6L21.8 49L19.9 52L20.5 54L22 55.6L25 56.5L44 52.3L56 58.1L62 59.2L69 59.3L76 66.5L81 70.5L83 71.6L88 72.7L93 75.2L95 74.9L97.1 73L99 66.3L102.7 61L103.9 54L103.8 52L102.7 50L97 45.5L95 43L94.8 38L95.9 34L99.2 29L101.8 27L104 25.9L116.8 23L112 22.5L109 20.6L107 20.4L104 21.4L99 21.7L92 23.2L90 24.6L87 28.1L84 29.7L80 29.8L73 28.5L70 26.4L68.1 24L67.3 14L65 10.9L62 9.5L56 8.7L50 8.8L48.4 8L48.3 -2L157 -2L157 107L-2 107ZM131 31.7L129.8 33L129.9 34L131 35.1L134 35.2L135.3 34L132.7 32Z"/>
<path fill="#fbede5" d="M19.3 -2L29 -2L29 3L30 5L37 9.5L40 12.8L40.9 15L40.9 24L39.1 28L37 29.7L31 32.2L26 36.8L24 37.5L21.3 36L17 31L11.2 26L10.2 24L10.8 22L15 17.8L16.5 15L19.2 4ZM88 -2L157 -2L157 19.1L154 20.2L153 21.1L151 23.7L150.6 26L152 31.8L152.8 33L154.2 34L157 34.4L157 107L-2 107L-2 85.5L4 85.4L7 84.1L11.6 78L17.1 74L21.8 68L26 65.2L30.5 61L33 59.8L43 58.8L50 62.6L53 63.7L69 63.8L72 65.1L79.2 72L82 73.9L93 76.1L96 75.4L97.6 74L100 69.1L105 62.7L106.7 53L106.5 51L105 47.8L100 43.3L99.2 42L98.7 33L99.5 30L101 28.3L104 26.8L120.6 24L123.4 23L123 22L112 21.7L108 20L103 21.1L100.6 21L98.2 20L98.4 18L102.1 12L102.1 9L101 5.7L96 .1L90 .1L88 1.3ZM130 31.5L128.8 33L128.9 34L129.4 35L131 36.1L134 36.2L137.2 35L136.9 34L133.9 32L132 31.2Z"/>
<path fill="#fcdbca" d="M107.8 -2L136.2 -2L136.3 3L137 5L142.9 11L144.5 14L144.1 24L148 28L150.4 33L152 35.1L154 36.6L157 37.3L157 81.1L150 81.6L145 86.9L142.3 89L129 95.3L121 96.5L102 96.7L97.2 98L92.7 100L87.3 104L86.9 107L62.8 107L62.7 102L61.6 100L54 96.9L43 94.7L33.9 90L32 88L30.4 85L29.4 82L29.8 80L39 70.9L43 68.4L64 66.9L70 67.1L73 68.4L78 74.1L81 76.2L92 77.6L96 76.8L98 75.6L105.2 68L108 62.5L109.6 53L109.3 47L107.9 41L107.8 36L108.2 33L109.7 29L110.7 28L113.6 27L123 24.9L124 24.4L124.6 23L124.3 22L123 21.2L112 21.1L108 19.6L103 20.7L100.8 20L100.6 18L104.1 13L107.3 6ZM130 30.7L127.6 32L126.9 34L127.6 36L130 37.9L133 37.9L137 36.7L141 36.4L142 35.7L142.3 35L141 34L138 33.3L132 30.7ZM23.5 11L25 10.2L26 10.3L33 11.9L35 13.2L36 15L36.2 21L36 23L34.9 25L33 26.1L25 27.9L23 27.2L20.7 25L20.1 24L20.1 22L21.9 14Z"/>
<path fill="#fac5ae" d="M114.3 -2L132.3 -2L132.5 3L133.3 5L138.2 9L140.6 13L140.7 15L139.2 20L140.2 26L141 26.7L146 27.8L147.8 30L149.4 34L153 38.3L155 39.6L157 40L157 62.8L149.1 65L147.3 66L143.3 73L138 77.2L130 81L118 84.5L111 85.4L99 85.8L91 87.2L82 89.8L74 90.2L71 89.8L55 84.5L50.2 82L49.5 81L50.2 79L56.7 73L61.1 71L65 70.4L70 70.2L72 70.7L76.3 77L79 78.6L82 79.5L94 79.7L99 78.7L103 77L105 75.7L107 73.2L109.6 68L113 59L117.9 52L121 50L131 47.9L133 45.8L136.7 39L143.4 36L143.6 35L141 33.2L127.3 29L125.3 27L125.4 23L124 20.9L112 20.7L108 19.3L104 20.2L102 19.5L101.6 19L102.3 17L108 9.6L113.4 4L114.1 2Z"/>
<path fill="#f7ad91" d="M121.4 2L128 4.4L137.1 10L138.5 13L136.9 18L136.9 20L138.9 27L140 28.4L144 28.2L146 29.1L147.5 32L147 34L146 34.7L145 34.7L141 32.4L136 31.3L130 29L127.3 26L125.7 22L124 20.4L112 20.2L108 19L104 19.6L102.8 19L103.4 17L109 10.3ZM149 36L150 36.6L154 41.6L157 43L157 58.4L152 60.8L150 61.2L146 60.4L140 56.8L137.2 53L136.3 48L136.9 43L139.4 39L145 36.2ZM127.4 64L130 63.1L131.1 64L133.1 70L131.9 72L129 73.1L122 73.5L120 73.1L118.7 72L118.5 70L121 66.9Z"/>
<path fill="#f29678" d="M118.7 6L122 5.2L126 5.7L136.1 11L136.8 13L135.5 17L135.5 19L138.5 30L136 30.5L131 28.6L129.4 27L125.7 21L124 19.9L112 19.8L108 18.6L105 18.9L104 18.4L104.5 17L109 11.4L115 7.4ZM141.4 30L144 29.3L145 29.6L146.2 31L146.1 33L145 33.4L141.9 32L140.8 31ZM142.7 38L145 37.2L149 37.4L152.2 42L154 46.5L157 48.6L157 54.8L152 59L150 59.5L147 58.7L142 54.8L139.2 51L138.1 47L138.4 43L140.1 40Z"/>
<path fill="#eb7d63" d="M118.8 7L123 6.3L126 6.7L132.4 10L134.8 12L135.1 13L134.4 18L136.6 27L136.6 29L135 29.5L131.5 28L126.4 21L124 19.5L112 19.3L106 17.8L105.7 17L106.3 16L109.4 12L115 8.3ZM144.3 38L148 38.1L149.4 39L151.3 43L151.9 48L154.5 52L153.7 55L151 57.8L149 57.9L147 56.8L142 52.4L140 49L139.4 46L139.6 43L141.3 40Z"/>
<path fill="#dd5748" d="M117.8 8L122 7.1L125 7.2L130 9.5L133.3 12L133.8 14L133.6 19L135.4 26L135 28.2L133.1 28L132 27.2L127.2 21L125 19.4L123 18.9L111 18.8L107.1 17L107.8 15L110 12.4L115 9.1ZM143.7 39L145 38.6L148 39L150 42L150 48L152.5 53L152 54.8L151 56L150 56.4L148 55.7L143 51.2L141 48L140.4 45L140.7 43L142 40.6Z"/>
<path fill="#cd333a" d="M120.6 8L124 7.7L126 8.1L132.1 12L132.9 14L132.7 18L133.7 25L133.2 26L127 20L125 18.9L111 18.2L108.4 17L108.7 15L111 12.4L116 9.2ZM143.8 40L145 39.4L147 39.6L149 41.9L149.2 44L147.8 50L149.7 52L150 53.3L149 53.5L147 51.1L144 49.8L142 47.1L141.8 43Z"/>
<path fill="#c4182f" d="M118.6 9L125 8.4L128 9.7L131.2 12L132.2 15L132 21L131.4 22L130 21.6L126.4 19L124 18.2L112 17.7L109.7 17L109.2 16L109.6 15L111 13.2L115.7 10ZM144.4 41L146 40.4L147 40.8L148.2 43L147 46.3L145 47.6L143.8 47L142.8 45L143 43Z"/>
<path fill="#ad0d31" d="M121 9L125 8.9L130.4 12L131.5 15L131 18.4L130 19.7L124 17.8L112 16.8L110.5 16L111.3 14L115.1 11ZM144.8 43L146 42.4L146.5 43L146 44.4L145 44.5Z"/>
<use href="#land"/>
<path d="M10.3 2L10.8 2.4M15.4 2.1L16 2.3M20.5 2L21.1 2.4M25.6 2L26.2 2.4M30.7 2.1L31.4 2.3M35.8 2.1L36.5 2.3M41.1 1.9L41.5 2.5M15.6 7L15.8 7.6M20.6 7L21 7.6M25.6 7.2L26.3 7.4M30.7 7.2L31.4 7.4M35.9 7.1L36.5 7.5M41 7.1L41.6 7.4M46.1 7.2L46.8 7.4M51.3 7L51.7 7.6M15.4 12.2L16 12.6M20.5 12.2L21.1 12.5M25.7 12.1L26.1 12.7M30.8 12.1L31.3 12.7M35.8 12.3L36.5 12.5M40.9 12.3L41.7 12.4M46.1 12.1L46.7 12.6M51.3 12.1L51.8 12.6M15.3 17.4L16.1 17.5M20.6 17.2L21.1 17.7M25.7 17.2L26.2 17.7M30.7 17.3L31.4 17.6M35.9 17.2L36.4 17.7M41.1 17.2L41.5 17.8M46.1 17.4L46.8 17.6M51.2 17.5L51.9 17.5M56.4 17.2L56.9 17.7M107.5 17.3L108.2 17.6M112.7 17.3L113.3 17.7M117.8 17.2L118.4 17.7M122.9 17.4L123.6 17.5M128 17.4L128.7 17.6M10.3 22.3L10.9 22.8M15.4 22.3L16 22.8M20.5 22.5L21.2 22.6M25.6 22.5L26.3 22.6M30.8 22.3L31.3 22.8M36 22.2L36.3 22.9M41 22.4L41.6 22.8M46.1 22.4L46.7 22.7M51.3 22.3L51.8 22.8M56.3 22.4L57 22.7M102.4 22.4L103.1 22.7M107.7 22.2L108 22.9M112.8 22.3L113.2 22.9M117.8 22.4L118.4 22.7M122.9 22.4L123.6 22.7M128.1 22.3L128.6 22.8M5.3 27.4L5.7 27.9M10.4 27.3L10.7 28M15.4 27.5L16 27.8M20.5 27.5L21.2 27.8M25.7 27.4L26.2 27.9M30.7 27.5L31.4 27.8M35.8 27.6L36.5 27.7M41 27.4L41.6 27.9M46.3 27.3L46.6 28M51.3 27.4L51.8 27.9M56.3 27.6L57 27.7M61.5 27.5L62.1 27.8M97.3 27.5L98 27.8M102.5 27.4L103 27.9M107.5 27.5L108.2 27.8M112.6 27.5L113.3 27.8M117.9 27.4L118.3 27.9M123 27.3L123.4 28M128 27.5L128.7 27.8M133.1 27.6L133.8 27.7M15.5 32.5L15.9 33M20.7 32.4L21 33.1M25.6 32.6L26.3 32.9M30.7 32.7L31.4 32.8M35.9 32.6L36.5 32.9M41 32.5L41.6 33M46.1 32.6L46.8 32.9M51.2 32.5L51.8 32.9M56.5 32.4L56.8 33.1M61.5 32.5L62 33M97.4 32.5L97.8 33M102.4 32.7L103.1 32.8M107.5 32.7L108.2 32.8M112.7 32.5L113.2 33M117.9 32.5L118.3 33M122.9 32.6L123.5 32.9M128.1 32.5L128.6 33M133.3 32.4L133.7 33M138.2 32.6L138.9 32.9M143.3 32.7L144.1 32.7M15.5 37.6L15.9 38.1M20.5 37.7L21.1 38M25.7 37.6L26.2 38.1M30.9 37.5L31.2 38.1M35.9 37.6L36.5 38M40.9 37.8L41.7 37.8M46.1 37.7L46.8 38M51.3 37.5L51.8 38.1M56.4 37.6L56.9 38.1M61.5 37.7L62.1 38M97.3 37.7L97.9 38M102.5 37.6L103 38M107.6 37.6L108.1 38.1M112.6 37.7L113.3 37.9M117.7 37.8L118.5 37.8M122.9 37.6L123.5 38.1M128.2 37.5L128.5 38.1M133.2 37.6L133.8 38M138.3 37.7L138.9 38M143.4 37.6L144 38.1M15.3 42.9L16.1 42.9M20.5 42.8L21.1 43.1M25.8 42.6L26.1 43.2M30.8 42.7L31.3 43.2M35.9 42.8L36.5 43.1M41 42.7L41.6 43.2M46.1 42.7L46.7 43.1M51.2 42.9L51.9 42.9M56.3 42.8L57 43M61.6 42.6L62 43.2M66.7 42.6L67.1 43.2M97.4 42.7L97.9 43.2M102.6 42.6L102.9 43.2M107.6 42.7L108.2 43.1M112.6 42.8L113.3 43M117.8 42.7L118.4 43.1M122.9 42.7L123.5 43.1M128 42.9L128.7 43M133.2 42.7L133.8 43.1M138.4 42.6L138.7 43.3M143.4 42.7L144 43.2M148.5 42.8L149.2 43M15.4 47.8L16 48.2M20.5 47.8L21.1 48.2M25.6 48L26.3 48M30.7 47.9L31.4 48.2M36 47.7L36.3 48.3M41.1 47.7L41.5 48.3M46.1 47.9L46.8 48.1M51.2 47.8L51.9 48.2M56.4 47.8L56.9 48.2M61.4 47.9L62.1 48.1M66.6 47.9L67.2 48.1M97.3 47.8L97.9 48.2M102.4 47.9L103.1 48.1M107.6 47.8L108.1 48.3M112.8 47.7L113.1 48.3M117.8 47.8L118.4 48.2M122.9 48L123.6 48.1M128 47.8L128.7 48.2M133.2 47.8L133.7 48.2M138.2 47.9L138.9 48.1M143.4 47.8L144 48.2M148.7 47.7L149 48.3M15.5 52.8L15.9 53.4M20.5 53L21.2 53.2M25.6 53L26.3 53.2M30.8 52.9L31.3 53.3M35.8 53L36.5 53.2M41 53L41.6 53.2M46.2 52.8L46.6 53.4M51.4 52.8L51.7 53.4M56.3 53L57 53.2M61.4 53L62.1 53.2M66.6 52.9L67.2 53.3M71.7 52.9L72.3 53.3M97.3 53.1L98 53.1M102.4 52.9L103.1 53.3M107.6 52.8L108.1 53.4M112.7 52.9L113.3 53.3M117.8 52.9L118.4 53.3M123 52.8L123.4 53.4M128.1 52.9L128.6 53.3M133.1 53.1L133.8 53.1M138.2 53L138.9 53.2M143.5 52.8L143.9 53.4M148.5 52.9L149.1 53.3M15.4 58L16 58.4M20.6 57.9L21 58.5M25.7 57.9L26.2 58.5M30.7 58.1L31.4 58.3M35.8 58.1L36.5 58.3M41 57.9L41.6 58.4M46.1 58L46.7 58.4M51.2 58L51.9 58.3M56.4 57.9L56.9 58.5M61.6 57.9L62 58.5M66.6 58.1L67.2 58.3M71.7 58.2L72.4 58.2M82 57.9L82.5 58.5M97.4 57.9L97.8 58.5M102.4 58L103 58.4M107.5 58.2L108.2 58.2M112.6 58.1L113.3 58.3M117.9 57.9L118.3 58.5M123 57.9L123.5 58.4M128 58L128.7 58.4M133.2 57.9L133.7 58.4M138.3 57.9L138.8 58.4M143.3 58.1L144.1 58.2M148.5 58.1L149.2 58.2M15.5 63L15.9 63.5M20.6 63L21.1 63.5M25.6 63.1L26.3 63.4M30.8 63L31.3 63.5M36 63L36.4 63.6M41 63.2L41.6 63.4M46.1 63.3L46.8 63.3M51.3 63L51.8 63.5M56.5 63L56.9 63.6M61.5 63.1L62.1 63.5M66.6 63.1L67.2 63.5M71.8 63L72.3 63.6M76.8 63.1L77.5 63.4M81.9 63.3L82.6 63.3M92.3 63L92.7 63.6M97.4 63L97.9 63.5M102.4 63.1L103.1 63.4M107.6 63L108.1 63.5M112.7 63.1L113.3 63.5M117.7 63.2L118.5 63.3M122.9 63.2L123.6 63.4M128.2 63L128.5 63.6M133.3 63L133.7 63.6M138.3 63.1L138.9 63.4M143.4 63.1L144 63.4M148.5 63L149.1 63.5M15.3 68.3L16.1 68.4M20.5 68.3L21.2 68.4M25.7 68.1L26.2 68.6M30.9 68.1L31.2 68.7M35.9 68.2L36.5 68.6M41 68.2L41.6 68.5M46.2 68.1L46.7 68.6M51.2 68.2L51.9 68.5M56.3 68.3L57 68.4M61.5 68.2L62.1 68.6M66.8 68L67 68.7M71.7 68.1L72.3 68.6M76.8 68.3L77.5 68.5M82 68.2L82.6 68.6M87.1 68.2L87.7 68.6M92.1 68.3L92.9 68.4M97.3 68.2L97.9 68.5M102.6 68L102.9 68.7M107.6 68.1L108.1 68.7M112.6 68.3L113.3 68.5M117.8 68.2L118.4 68.5M122.9 68.1L123.5 68.6M128 68.2L128.7 68.5M133.1 68.3L133.8 68.5M143.5 68L143.9 68.7M148.5 68.2L149.1 68.5M15.4 73.3L16 73.6M20.5 73.2L21.1 73.7M25.6 73.3L26.3 73.6M30.7 73.4L31.4 73.5M35.9 73.2L36.4 73.7M41.2 73.1L41.4 73.8M46.1 73.3L46.7 73.7M51.2 73.4L51.9 73.5M56.4 73.3L57 73.7M61.5 73.3L62.1 73.7M66.6 73.4L67.2 73.6M71.7 73.3L72.3 73.7M77 73.1L77.3 73.8M82 73.2L82.5 73.7M87 73.4L87.7 73.5M92.2 73.3L92.8 73.6M97.3 73.2L97.9 73.7M102.4 73.3L103.1 73.6M107.5 73.3L108.2 73.6M112.8 73.2L113.2 73.8M117.9 73.2L118.3 73.8M122.9 73.4L123.6 73.6M128 73.4L128.7 73.5M133.2 73.2L133.7 73.7M138.3 73.2L138.9 73.7M143.4 73.3L144 73.6M15.5 78.2L15.9 78.9M20.5 78.4L21.1 78.7M25.6 78.5L26.3 78.6M30.8 78.4L31.4 78.7M35.9 78.3L36.5 78.8M5.2 83.4L5.8 83.9M10.3 83.4L10.8 83.9M15.4 83.5L16 83.8M20.5 83.4L21.1 83.9M25.8 83.3L26.1 84M30.8 83.4L31.4 83.8M35.8 83.6L36.5 83.6M5.1 88.6L5.8 88.9M10.2 88.7L10.9 88.7M15.4 88.5L16 88.9M20.6 88.4L21 89M25.7 88.5L26.2 89M30.7 88.6L31.4 88.9M35.9 88.5L36.4 89M5.1 93.7L5.8 94M10.3 93.6L10.8 94.1M15.4 93.6L16 94M20.5 93.8L21.2 93.8M25.6 93.7L26.3 94M30.9 93.5L31.2 94.1M35.9 93.5L36.4 94.1M5.3 98.6L5.6 99.2M10.3 98.7L10.8 99.2M15.3 98.8L16.1 99M20.5 98.7L21.1 99.1M25.7 98.7L26.2 99.1M30.7 98.8L31.4 99M35.8 98.8L36.5 99.1M5.1 103.9L5.8 104.1M10.3 103.8L10.9 104.2M15.5 103.7L15.9 104.3M20.6 103.7L21 104.3M25.6 103.9L26.3 104.1M30.7 103.9L31.4 104.1M35.9 103.8L36.4 104.2M41 103.8L41.6 104.2M46.1 103.8L46.7 104.2M51.3 103.7L51.8 104.3M56.5 103.7L56.8 104.3M61.4 103.9L62.1 104.1M66.5 104L67.3 104M71.7 103.8L72.3 104.2M76.9 103.7L77.4 104.3M81.9 103.8L82.6 104.2M87.1 103.8L87.7 104.2M92.3 103.7L92.7 104.3M97.3 103.8L97.9 104.2M102.4 104L103.1 104M107.5 103.9L108.2 104.1M112.8 103.7L113.2 104.3M117.8 103.8L118.4 104.2M122.9 103.8L123.5 104.2M128.1 103.7L128.6 104.3M133.2 103.8L133.7 104.2M138.2 104L138.9 104M143.3 103.9L144.1 104.1M148.6 103.7L149 104.3" stroke="#2a2a2a" stroke-width="0.8" fill="none" stroke-linecap="round"/><path d="M3.3 31.4L6.3 33.3M8.4 31.6L11.5 33.2M87.5 31.1L87.4 32.9M92.9 31.2L92.5 32.8M3.1 36.8L6.4 38.2M8.5 36.4L11.4 38.4M87.7 36.3L87.4 37.9M92.9 36.3L92.5 37.9M3.5 41.3L6.2 43.6M8.4 41.6L11.5 43.5M87.4 41.3L87.4 43M92.4 41.3L92.5 43M3.4 46.5L6.3 48.6M8.4 46.7L11.5 48.5M87.4 46.4L87.4 48.1M92.7 46.4L92.5 48.1M3.3 51.7L6.3 53.7M8.8 51.3L11.3 53.8M92.7 51.5L92.5 53.2M3.4 56.7L6.3 58.8M8.4 56.9L11.5 58.7M92.7 56.6L92.5 58.3M3.1 62.3L6.4 63.7M8.3 62.2L11.5 63.7M3.4 66.9L6.3 69M8.6 66.8L11.4 69M3.6 71.7L6.2 74.2M8.4 72.2L11.5 74M3.2 77.4L6.4 79M8.6 76.9L11.4 79.2M39.5 78.7L41.6 78.5M44.6 78.5L46.7 78.6M49.8 78.2L51.8 78.6M54.9 78.5L57 78.6M60 78.9L62.1 78.5M65.1 78.7L67.2 78.5M70.2 78.4L72.3 78.6M75.3 78.6L77.4 78.5M80.5 78.6L82.6 78.5M85.6 78.3L87.7 78.6M90.7 78.4L92.8 78.6M95.8 78.8L97.9 78.5M101 78.8L103 78.5M106.1 78.4L108.2 78.6M111.2 78.4L113.3 78.6M116.3 78.6L118.4 78.5M121.4 78.4L123.5 78.6M126.6 78.3L128.6 78.6M131.7 78.7L133.8 78.5M136.8 78.9L138.9 78.5M141.9 78.5L144 78.6M147 78.3L149.1 78.6M39.5 83.7L41.6 83.6M44.6 83.4L46.7 83.7M49.7 83.6L51.8 83.6M54.9 83.7L57 83.6M60 83.4L62.1 83.7M65.1 83.5L67.2 83.7M70.2 84L72.3 83.6M75.4 83.9L77.4 83.6M80.5 83.5L82.6 83.7M85.6 83.5L87.7 83.7M90.7 83.7L92.8 83.6M95.8 83.6L97.9 83.7M100.9 83.5L103 83.7M106.1 83.8L108.2 83.6M111.2 84L113.3 83.6M116.3 83.5L118.4 83.7M121.4 83.4L123.5 83.7M126.5 83.6L128.6 83.6M131.7 83.7L133.8 83.6M136.8 83.5L138.9 83.7M141.9 83.7L144 83.6M147.1 84L149.1 83.6M39.5 88.7L41.6 88.7M44.7 89.1L46.7 88.7M49.7 88.9L51.8 88.7M54.9 88.5L57 88.8M60 88.5L62.1 88.8M65.1 88.8L67.2 88.7M70.2 88.7L72.3 88.7M75.3 88.6L77.4 88.7M80.5 89L82.6 88.7M85.6 89L87.7 88.7M90.7 88.5L92.8 88.8M95.8 88.4L97.9 88.8M100.9 88.8L103 88.7M106.1 88.8L108.2 88.7M111.2 88.7L113.3 88.7M116.3 88.8L118.4 88.7M121.4 89L123.5 88.7M126.5 88.7L128.6 88.7M131.7 88.4L133.8 88.8M136.8 88.6L138.9 88.7M141.9 88.9L144 88.7M147 88.8L149.1 88.7M39.5 94L41.6 93.8M44.6 93.8L46.7 93.8M49.7 93.8L51.8 93.8M54.9 94L57 93.8M60 94L62.1 93.8M65.1 93.6L67.2 93.9M70.2 93.5L72.3 93.9M75.3 93.9L77.4 93.8M80.5 94L82.6 93.8M85.6 93.8L87.7 93.8M90.7 93.9L92.8 93.8M95.8 94L97.9 93.8M100.9 93.7L103 93.8M106.1 93.5L108.2 93.9M111.2 93.8L113.3 93.8M116.3 94.1L118.4 93.8M121.4 93.9L123.5 93.8M126.5 93.8L128.6 93.8M131.7 94L133.8 93.8M136.8 93.8L138.9 93.8M141.9 93.5L144 93.9M147 93.7L149.1 93.8M39.5 98.6L41.6 99M44.6 98.6L46.7 99M49.7 99.1L51.8 98.9M54.9 99.1L57 98.9M60 98.9L62.1 98.9M65.1 98.9L67.2 98.9M70.2 99.1L72.3 98.9M75.3 98.7L77.4 98.9M80.5 98.6L82.6 99M85.6 99L87.7 98.9M90.7 99.2L92.8 98.9M95.8 98.9L97.9 98.9M100.9 98.8L103 98.9M106.1 99L108.2 98.9M111.2 98.9L113.3 98.9M116.3 98.6L118.4 99M121.4 98.8L123.5 98.9M126.6 99.3L128.6 98.9M131.7 99.1L133.8 98.9M136.8 98.8L138.9 98.9M141.9 98.9L144 98.9M147 99L149.1 98.9" stroke="#1a1a1a" stroke-width="1" fill="none"/><path d="M7.6 34.1L5.9 34L6.8 32.6ZM12.8 33.9L11.1 34L11.9 32.5ZM87.2 34.3L86.5 32.8L88.2 32.9ZM92.1 34.3L91.6 32.6L93.3 33.1ZM7.8 38.8L6.1 39L6.7 37.4ZM12.7 39.2L11 39.1L11.9 37.7ZM87 39.4L86.5 37.8L88.2 38.1ZM92.1 39.4L91.6 37.7L93.3 38.1ZM7.4 44.6L5.7 44.2L6.8 42.9ZM12.7 44.2L11 44.2L11.9 42.7ZM87.4 44.5L86.5 43L88.2 43ZM92.6 44.5L91.7 43.1L93.4 43ZM7.5 49.5L5.8 49.3L6.8 47.9ZM12.8 49.3L11 49.3L11.9 47.8ZM87.4 49.6L86.5 48.1L88.2 48.1ZM92.3 49.6L91.6 48L93.3 48.2ZM7.6 54.5L5.9 54.4L6.8 52.9ZM12.4 54.9L10.7 54.4L11.9 53.2ZM92.3 54.7L91.6 53.1L93.3 53.3ZM7.5 59.7L5.8 59.5L6.8 58.1ZM12.7 59.5L11 59.4L11.9 58ZM92.3 59.8L91.6 58.2L93.3 58.4ZM7.8 64.3L6.1 64.5L6.7 62.9ZM12.8 64.4L11.1 64.5L11.9 63ZM7.5 69.9L5.8 69.7L6.8 68.3ZM12.6 69.9L10.9 69.7L11.9 68.3ZM7.3 75.2L5.6 74.8L6.8 73.5ZM12.7 74.8L11 74.7L11.9 73.3ZM7.7 79.7L6 79.8L6.8 78.3ZM12.5 80.2L10.8 79.9L11.9 78.5ZM43.1 78.4L41.7 79.4L41.5 77.7ZM48.2 78.6L46.7 79.4L46.7 77.7ZM53.3 78.9L51.7 79.4L52 77.8ZM58.5 78.6L56.9 79.4L57 77.7ZM63.6 78.2L62.2 79.3L61.9 77.7ZM68.7 78.4L67.3 79.4L67.1 77.7ZM73.8 78.7L72.3 79.4L72.4 77.7ZM78.9 78.5L77.5 79.4L77.4 77.7ZM84.1 78.5L82.6 79.4L82.5 77.7ZM89.2 78.8L87.6 79.4L87.8 77.8ZM94.3 78.7L92.7 79.4L92.9 77.7ZM99.4 78.3L98 79.3L97.8 77.7ZM104.5 78.3L103.2 79.3L102.9 77.7ZM109.7 78.7L108.1 79.4L108.2 77.7ZM114.8 78.7L113.2 79.4L113.3 77.7ZM119.9 78.5L118.4 79.4L118.4 77.7ZM125 78.7L123.5 79.4L123.6 77.7ZM130.1 78.8L128.5 79.4L128.8 77.7ZM135.3 78.4L133.8 79.4L133.7 77.7ZM140.3 78.2L139 79.3L138.7 77.7ZM145.5 78.6L144 79.4L144 77.7ZM150.6 78.8L149 79.4L149.2 77.7ZM43.1 83.5L41.6 84.5L41.5 82.8ZM48.2 83.8L46.6 84.5L46.8 82.8ZM53.3 83.7L51.8 84.5L51.9 82.8ZM58.5 83.6L57 84.5L56.9 82.8ZM63.6 83.9L62 84.5L62.2 82.8ZM68.7 83.7L67.1 84.5L67.2 82.8ZM73.8 83.3L72.5 84.4L72.2 82.8ZM78.9 83.4L77.6 84.4L77.3 82.8ZM84.1 83.8L82.5 84.5L82.6 82.8ZM89.2 83.8L87.6 84.5L87.8 82.8ZM94.3 83.6L92.8 84.5L92.8 82.8ZM99.4 83.7L97.9 84.5L98 82.8ZM104.5 83.8L103 84.5L103.1 82.8ZM109.6 83.4L108.3 84.5L108.1 82.8ZM114.7 83.3L113.4 84.4L113.1 82.7ZM119.9 83.7L118.4 84.5L118.4 82.8ZM125 83.9L123.4 84.5L123.7 82.8ZM130.1 83.6L128.6 84.5L128.6 82.8ZM135.3 83.6L133.8 84.5L133.7 82.8ZM140.4 83.8L138.8 84.5L138.9 82.8ZM145.5 83.6L144 84.5L144 82.8ZM150.6 83.3L149.3 84.4L149 82.7ZM43.1 88.8L41.6 89.6L41.6 87.9ZM48.2 88.4L46.9 89.5L46.6 87.8ZM53.3 88.6L51.9 89.5L51.8 87.9ZM58.4 89L56.8 89.6L57.1 87.9ZM63.6 88.9L62 89.6L62.2 87.9ZM68.7 88.6L67.2 89.6L67.2 87.9ZM73.8 88.8L72.3 89.6L72.3 87.9ZM78.9 88.8L77.4 89.6L77.5 87.9ZM84 88.5L82.7 89.5L82.5 87.8ZM89.2 88.5L87.8 89.5L87.5 87.8ZM94.3 88.9L92.7 89.6L92.9 87.9ZM99.4 89L97.8 89.6L98.1 87.9ZM104.5 88.7L103.1 89.6L103 87.9ZM109.7 88.6L108.2 89.6L108.1 87.9ZM114.8 88.8L113.2 89.6L113.3 87.9ZM119.9 88.6L118.4 89.6L118.4 87.9ZM125 88.4L123.7 89.5L123.4 87.8ZM130.1 88.8L128.6 89.6L128.7 87.9ZM135.2 89.1L133.6 89.6L133.9 88ZM140.4 88.8L138.8 89.6L138.9 87.9ZM145.5 88.5L144.1 89.5L143.9 87.9ZM150.6 88.7L149.1 89.6L149.1 87.9ZM43.1 93.7L41.7 94.6L41.5 92.9ZM48.2 93.8L46.7 94.7L46.7 93ZM53.3 93.9L51.8 94.7L51.9 93ZM58.4 93.6L57.1 94.6L56.9 92.9ZM63.6 93.6L62.2 94.6L62 92.9ZM68.7 94.1L67.1 94.7L67.3 93ZM73.8 94.1L72.2 94.7L72.5 93ZM78.9 93.7L77.5 94.7L77.4 93ZM84.1 93.6L82.6 94.6L82.5 92.9ZM89.2 93.9L87.7 94.7L87.7 93ZM94.3 93.8L92.8 94.7L92.8 93ZM99.4 93.6L98 94.6L97.8 92.9ZM104.5 93.9L103 94.7L103.1 93ZM109.6 94.2L108 94.7L108.3 93ZM114.8 93.8L113.3 94.7L113.3 93ZM119.9 93.5L118.5 94.6L118.3 92.9ZM125 93.8L123.5 94.7L123.5 93ZM130.1 93.9L128.6 94.7L128.7 93ZM135.3 93.7L133.8 94.6L133.7 92.9ZM140.4 93.8L138.9 94.7L138.9 93ZM145.5 94.2L143.8 94.7L144.2 93ZM150.6 94L149 94.7L149.2 93ZM43.1 99.2L41.5 99.8L41.7 98.1ZM48.2 99.2L46.6 99.8L46.8 98.1ZM53.3 98.7L51.9 99.7L51.7 98ZM58.4 98.7L57.1 99.7L56.9 98ZM63.6 99L62.1 99.8L62.1 98.1ZM68.7 98.9L67.2 99.8L67.2 98.1ZM73.8 98.8L72.4 99.7L72.2 98ZM78.9 99.1L77.4 99.8L77.5 98.1ZM84 99.2L82.4 99.8L82.7 98.1ZM89.2 98.8L87.7 99.7L87.6 98ZM94.3 98.6L92.9 99.7L92.6 98ZM99.4 98.9L97.9 99.8L97.9 98.1ZM104.5 99L103 99.8L103.1 98.1ZM109.7 98.8L108.2 99.7L108.1 98ZM114.8 98.9L113.3 99.8L113.3 98.1ZM119.9 99.2L118.2 99.8L118.5 98.1ZM125 99L123.5 99.8L123.5 98.1ZM130.1 98.6L128.8 99.7L128.5 98ZM135.3 98.7L133.8 99.7L133.7 98ZM140.4 99.1L138.8 99.8L139 98.1ZM145.5 98.9L144 99.8L144 98.1ZM150.6 98.9L149.1 99.8L149.1 98.1Z" fill="#1a1a1a"/>
</g>
<path d="M69 10.3H78" stroke="#000" stroke-width="0.9"/><path d="M79.5 10.3l-3 -1.5v3z" fill="#000"/>
<text x="86" y="13.0" class="s">0.5m/s</text>
<text x="130.7" y="13.0" class="m">OCT</text>
<rect x="1" y="87.2" width="17" height="17.3" fill="#fff"/>
<text x="2.2" y="100.4" class="l">(e)</text>
<rect width="154.5" height="104.5" fill="none" stroke="#5a5a5a" stroke-width="1"/>
</g>
<g transform="translate(351.5 128.4)">
<g clip-path="url(#cp)">
<rect width="154.5" height="104.5" fill="#fff"/>
<rect x="-2" y="-2" width="158.5" height="108.5" fill="#145096"/>
<path fill="#1c64aa" d="M-2 -2L157 -2L157 107L-2 107ZM56 38.8L55.3 41L57.7 45L58.5 51L62.1 55L65.1 60L70 62L75 65.6L82 67.9L85 67.5L90 65.3L91.7 64L92.8 58L95.2 53L94.5 51L93 49.3L92 49.3L91 51L90.1 56L88.2 59L85 60.9L81 60.8L73 57.9L66.5 53L60 45L58 39.5L57 38.8ZM91 40.4L90.2 41L90 42L91 44.3L92 44.5L92.5 42Z"/>
<path fill="#2773b8" d="M-2 -2L157 -2L157 107L-2 107ZM56 37.6L55 38.7L54.8 41L57.3 46L58.2 51L61.5 55L65 60.3L70 62.5L75 65.9L82 68.2L85 67.8L90 65.7L92 64.1L93.3 58L95.6 53L95 51L92.3 47L93.1 42L91 39.4L89.9 39L89.5 42L91.8 47L89.5 56L87 59.4L83 60.7L73 57.4L67.2 53L60.8 45L58.2 39ZM88 35.7L89 37.9L89.2 36Z"/>
<path fill="#3787c3" d="M-2 -2L157 -2L157 107L-2 107ZM53 30L52 31L52 32L54.2 36L54.3 41L56.7 46L57.8 51L64.1 60L70 63L75 66.3L82 68.6L85 68.2L91.7 65L92.8 63L93.9 58L96 53L93.5 47L93.6 42L89 34.3L88 34.2L87 36L90.6 47L89.3 55L88.5 57L86.8 59L84.9 60L82 60.2L73 57L66.7 52L61.5 45L59 39.2L55.5 35L54.5 31Z"/>
<path fill="#57a3d3" d="M-2 -2L157 -2L157 107L-2 107ZM52 28L51.1 30L51.2 32L53.4 37L53.8 41L56.1 46L57.3 51L64 60.5L70 63.5L74 66.3L82 68.9L85 68.6L92.2 65L96.4 53L94.2 47L93.7 41L89 33.3L88 33.2L87 33.9L86.3 36L89.9 47L89 54.1L87 58.1L85 59.4L82 59.6L73 56.4L67 51.5L61.5 44L59.5 39L56.7 35L55 30.2Z"/>
<path fill="#77b8de" d="M-2 -2L157 -2L157 107L-2 107ZM48 21.9L48 24L49.6 28L50.4 32L52.5 37L53.4 42L55.7 47L56.7 51L63.8 61L69.8 64L74 66.8L82 69.4L86 68.7L92 65.8L93.4 64L96.9 53L94.9 47L94.2 41L90.5 34L89 32.3L88 32L87 32.6L85.7 36L89.2 47L89 51.1L88.1 55L87 57.1L85 58.7L83 59.1L81 58.8L73.5 56L67 50.7L62.3 44L60.2 39L57.7 35L56 30.4L53.5 27L51.6 23L49 21Z"/>
<path fill="#96c8e4" d="M-2 -2L157 -2L157 107L-2 107ZM42 7.5L41.9 9L43.9 17L45.8 21L56.4 52L63 61L74 67.4L82 69.9L86 69.2L92.6 66L94.4 63L97.5 53L95.6 47L94.8 41L89 30.9L88 30.3L87 30.9L85 35L85.1 37L87.9 45L88.5 48L88 52.9L86.8 56L85 57.8L83 58.4L75 56L70 52.7L65.1 47L62.6 43L56.8 30L52.5 22L50.2 19L44 8.3L43 7.2Z"/>
<path fill="#b1d8eb" d="M-2 -2L157 -2L157 107L-2 107ZM41 3.5L39.8 5L39.5 8L42.4 17L50.4 37L55.6 52L62 61L64 62.7L69 65L73 67.6L82 70.5L87 69.5L93 66.4L94.7 64L98.2 53L96.1 46L95.5 41L88.5 28L88 27.6L86.9 28L84.1 35L84.4 38L87.4 47L87.2 52L86.3 55L85 56.7L83 57.4L80 57L74.8 55L70.5 52L66 46.8L63.1 42L53.8 22L45.1 6L43 3.8Z"/>
<path fill="#cfe5f0" d="M-2 -2L157 -2L157 107L-2 107ZM39 -1.5L37.9 0L37.5 5L38.4 10L54.3 52L60.7 61L63 63.1L73 68.4L81 71L83 71.2L86 70.6L93 67.4L95.6 64L99.2 53L97 46L96.2 41L89.5 27L88 26L85.6 27L82.8 34L82.7 37L86.2 47L86 52L85 54.7L84 55.7L82 56.2L75.3 54L70 50L65 43L58.4 28L46 4L41.9 -1L40 -1.8Z"/>
<path fill="#f6f8f9" d="M-2 -2L34.6 -2L34.2 1L35.7 8L38.3 14L48.6 43L53.3 54L59.7 62L62 63.9L73 69.6L80 71.6L83 72L86 71.5L91 69.7L94.9 67L97.4 63L100.4 55L100.4 52L98.3 46L97.3 41L90.8 27L90 25.8L88 24.7L85 25.1L82.9 27L80.6 33L80.5 38L84 47L84 51L83.2 53L82 53.9L80 53.8L74.1 51L70 47L67 42.3L60.4 27L54.1 17L50.4 7L45.7 -2L157 -2L157 107L-2 107Z"/>
<path fill="#fbede5" d="M-2 -2L28.8 -2L29.3 5L36 15L38.3 28L38.3 43L37 45.1L34 47.3L20 48.6L17 49.7L15.4 51L14.9 52L15.3 54L20 62.2L23 64L25 64L28 62.3L32 58.5L34 57.3L44 57.2L49 59L61 65.5L72 70.8L79 72.6L83 73.1L91 71.1L95.9 68L101.6 61L102.9 54L102.5 51L100 45.6L98.4 40L91.8 26L89 23L83.2 20L82.1 18L82 12.2L83 11.2L87.3 11L88 10.1L86.2 5L86.2 2L87 0L88 -1L93.3 -1L93.3 -2L157 -2L157 107L-2 107ZM131 33.5L130.4 34L130.6 35L132 35.2L132.2 34ZM55.5 -2L78 -2L78 8L77.5 10L69 19.1L65 20.9L62 21.2L59 20.3L56 17.4L54.6 13L55.5 6Z"/>
<path fill="#fcdbca" d="M60.4 -2L66 -2L66.2 12L65.9 14L64.7 16L63 17.4L60 18.2L58 17.4L57 16.4L56.1 13L57 10.4L60.1 6ZM107.8 -2L136.2 -2L136.3 4L137 6L139 8.5L143.3 12L148 18.6L151 20.5L157 20.6L157 107L48.3 107L47.8 104L47 103.8L45.4 102L40.6 99L34 96.7L23 95L-2 95L-2 74.4L14 74.3L22 70.5L30.9 69L38 66.7L43 65.7L55 67.7L62.5 70L72 73.8L84 74.7L93 72.7L104 65.2L106.9 61L108.8 53L108.6 51L107 47.6L102 41.4L95.2 30L92.5 22L93.3 20L101.4 13L106.4 7L107.7 4ZM130 32L128.4 33L128.1 35L129.9 37L132 37.2L133.4 36L133.6 34L132 32.2ZM13.4 12L16 11.1L23 11.2L25 12.2L26.7 14L27.3 16L27.3 23L26.7 25L25 27.3L23 28.1L16 27.1L14 26.4L12.4 25L11.4 23L11.3 16L11.7 14ZM22.6 40L24 39L25 39.3L26.3 41L26.3 42L25 43L23 43L21.9 42Z"/>
<path fill="#fac5ae" d="M115.9 -2L132.2 -2L132.3 4L134 8.2L140.9 16L149.3 28L152 33L154 34.9L157 35.6L157 75L155 75L154.7 76L154 76.1L153.7 77L153 77.1L149.5 81L144 85.1L140 87L132 89.7L128 90.2L102 90.3L91 93.3L82 93.3L72 90.2L63 89.9L55 87.5L44 85.6L36.8 82L36.1 81L36.8 80L43 76.5L51 74.7L53 74.7L61 76.7L72 78.3L91 77.2L96 76.2L100.9 74L107 69.8L115 61L118 58.5L130 53.4L130.5 52L130.2 51L125.8 44L125.3 41L126 39.7L131 39.2L134 37.4L134.6 34L133.3 32L131 30.9L129 30.7L124 31.9L120 30.2L112 28.9L109 29.6L103 32L101 32L99 31.3L97 29.5L95.4 26L95.2 24L96.2 22L107 10.6L115.2 4L115.8 2ZM59.6 11L61 11L62.5 13L62 15L60 16.2L58 15.3L57.6 14L58 12.1Z"/>
<path fill="#f7ad91" d="M119.6 6L125 5.2L128 6.3L130 7.7L133.6 12L140.4 23L141.5 26L145 26.9L147 28.3L153 38.5L155 39.9L157 40.3L157 51.9L142 54L139 53.4L137 52L133.6 48L132.1 44L132.3 42L135.3 38L135.6 36L135.1 33L133.2 31L127.3 28L122 21L118 20.2L114 20.6L108.5 25L102 29.1L100 29.3L98 28L97.1 26L97.3 24L102 18L108 11.5L115 7.4Z"/>
<path fill="#f29678" d="M122.9 7L125 7L127 7.8L132 12L137.7 23L139.6 28L141 28.5L145 28.5L146.8 30L149.6 35L152.3 42L152.3 44L150 46.6L142 49.7L139 49.3L137 47.9L135 44L135.2 42L137.3 38L136 33L134.6 31L129.5 28L127.3 25L125 20.7L123 19.3L113.7 19L111.5 20L108 23.4L106 24.7L101 26.9L100 26.9L99.2 26L99.7 24L102.6 19L109 11.9L116 8.2Z"/>
<path fill="#eb7d63" d="M123 8L126 8.4L131 12.3L136.6 24L137.9 29L138.6 30L140 30.5L144 29.6L146 30.8L148.8 36L150.2 42L150 43.5L149 44.7L147 45.7L142 46.4L140 46.2L138.4 45L137.8 43L141.3 39L141 36.3L138 34.7L136.2 31L130.1 27L126.1 20L125 18.9L122 18.1L113 18.1L110.8 19L106 23.1L104 23.5L102.9 23L103 21L104 19L110.3 12L116 9.1Z"/>
<path fill="#dd5748" d="M120.8 9L125 8.9L128 10.6L130 12.4L135.4 24L135.9 28L135 28.6L134 28.4L132 27.4L129.4 24L126.7 19L124 17.7L112 17.4L109 18.1L107 20.4L105.7 21L105.4 20L108 17.6L110.3 13L116 9.8ZM143 32L144 31.6L145 32L147.6 36L148.1 42L147 43.5L144.3 43L142.8 34Z"/>
<path fill="#cd333a" d="M117.6 10L124 9.5L126 10.1L128.6 12L130.1 14L131.1 18L134 24.5L134 26.2L133 26.2L132 25.4L130 22.7L128.3 19L126 17.5L110.7 16L110.3 15L111.5 13L115 10.8Z"/>
<path fill="#c4182f" d="M115.9 11L121 10.2L125 10.4L128.6 13L129.3 16L129 16.8L128 17.1L124 16.4L116 16.2L112.1 15L112 14L112.8 13Z"/>
<path fill="#ad0d31" d="M117.9 11L123 10.7L125 11.1L127.6 13L128.2 15L127 15.8L120 16L114.1 15L113.4 14L113.9 13Z"/>
<use href="#land"/>
<path d="M10.3 2L10.8 2.4M15.4 2.1L16 2.3M20.5 2L21.1 2.4M25.6 2L26.2 2.4M30.7 2.1L31.4 2.3M35.8 2.1L36.5 2.3M41.1 1.9L41.5 2.5M15.6 7L15.8 7.6M20.6 7L21 7.6M25.6 7.2L26.3 7.4M30.7 7.2L31.4 7.4M35.9 7.1L36.5 7.5M41 7.1L41.6 7.4M46.1 7.2L46.8 7.4M51.3 7L51.7 7.6M15.4 12.2L16 12.6M20.5 12.2L21.1 12.5M25.7 12.1L26.1 12.7M30.8 12.1L31.3 12.7M35.8 12.3L36.5 12.5M40.9 12.3L41.7 12.4M46.1 12.1L46.7 12.6M51.3 12.1L51.8 12.6M15.3 17.4L16.1 17.5M20.6 17.2L21.1 17.7M25.7 17.2L26.2 17.7M30.7 17.3L31.4 17.6M35.9 17.2L36.4 17.7M107.5 17.3L108.2 17.6M112.7 17.3L113.3 17.7M117.8 17.2L118.4 17.7M122.9 17.4L123.6 17.5M128 17.4L128.7 17.6M10.3 22.3L10.9 22.8M15.4 22.3L16 22.8M20.5 22.5L21.2 22.6M25.6 22.5L26.3 22.6M30.8 22.3L31.3 22.8M36 22.2L36.3 22.9M102.4 22.4L103.1 22.7M107.7 22.2L108 22.9M112.8 22.3L113.2 22.9M117.8 22.4L118.4 22.7M122.9 22.4L123.6 22.7M128.1 22.3L128.6 22.8M5.3 27.4L5.7 27.9M10.4 27.3L10.7 28M15.4 27.5L16 27.8M20.5 27.5L21.2 27.8M25.7 27.4L26.2 27.9M30.7 27.5L31.4 27.8M35.8 27.6L36.5 27.7M61.5 27.5L62.1 27.8M97.3 27.5L98 27.8M102.5 27.4L103 27.9M107.5 27.5L108.2 27.8M112.6 27.5L113.3 27.8M117.9 27.4L118.3 27.9M123 27.3L123.4 28M128 27.5L128.7 27.8M133.1 27.6L133.8 27.7M5.1 32.6L5.8 32.9M10.2 32.6L10.9 32.8M15.5 32.5L15.9 33M20.7 32.4L21 33.1M25.6 32.6L26.3 32.9M30.7 32.7L31.4 32.8M35.9 32.6L36.5 32.9M61.5 32.5L62 33M87.1 32.6L87.7 32.9M92.3 32.4L92.7 33M97.4 32.5L97.8 33M102.4 32.7L103.1 32.8M107.5 32.7L108.2 32.8M112.7 32.5L113.2 33M117.9 32.5L118.3 33M122.9 32.6L123.5 32.9M128.1 32.5L128.6 33M133.3 32.4L133.7 33M138.2 32.6L138.9 32.9M143.3 32.7L144.1 32.7M5.1 37.8L5.8 37.8M10.3 37.6L10.9 38M15.5 37.6L15.9 38.1M20.5 37.7L21.1 38M25.7 37.6L26.2 38.1M30.9 37.5L31.2 38.1M35.9 37.6L36.5 38M61.5 37.7L62.1 38M87.1 37.6L87.6 38.1M92.3 37.5L92.7 38.1M97.3 37.7L97.9 38M102.5 37.6L103 38M107.6 37.6L108.1 38.1M112.6 37.7L113.3 37.9M117.7 37.8L118.5 37.8M122.9 37.6L123.5 38.1M128.2 37.5L128.5 38.1M133.2 37.6L133.8 38M138.3 37.7L138.9 38M143.4 37.6L144 38.1M15.3 42.9L16.1 42.9M20.5 42.8L21.1 43.1M25.8 42.6L26.1 43.2M30.8 42.7L31.3 43.2M35.9 42.8L36.5 43.1M61.6 42.6L62 43.2M66.7 42.6L67.1 43.2M87 42.8L87.7 43M92.1 42.9L92.9 43M97.4 42.7L97.9 43.2M102.6 42.6L102.9 43.2M107.6 42.7L108.2 43.1M112.6 42.8L113.3 43M117.8 42.7L118.4 43.1M122.9 42.7L123.5 43.1M128 42.9L128.7 43M133.2 42.7L133.8 43.1M138.4 42.6L138.7 43.3M143.4 42.7L144 43.2M148.5 42.8L149.2 43M15.4 47.8L16 48.2M20.5 47.8L21.1 48.2M25.6 48L26.3 48M30.7 47.9L31.4 48.2M36 47.7L36.3 48.3M61.4 47.9L62.1 48.1M66.6 47.9L67.2 48.1M87 47.9L87.7 48.1M92.2 47.8L92.8 48.2M97.3 47.8L97.9 48.2M102.4 47.9L103.1 48.1M107.6 47.8L108.1 48.3M112.8 47.7L113.1 48.3M117.8 47.8L118.4 48.2M122.9 48L123.6 48.1M128 47.8L128.7 48.2M133.2 47.8L133.7 48.2M138.2 47.9L138.9 48.1M143.4 47.8L144 48.2M148.7 47.7L149 48.3M15.5 52.8L15.9 53.4M20.5 53L21.2 53.2M25.6 53L26.3 53.2M30.8 52.9L31.3 53.3M35.8 53L36.5 53.2M61.4 53L62.1 53.2M66.6 52.9L67.2 53.3M71.7 52.9L72.3 53.3M92.2 52.9L92.8 53.3M97.3 53.1L98 53.1M102.4 52.9L103.1 53.3M107.6 52.8L108.1 53.4M112.7 52.9L113.3 53.3M117.8 52.9L118.4 53.3M123 52.8L123.4 53.4M128.1 52.9L128.6 53.3M133.1 53.1L133.8 53.1M138.2 53L138.9 53.2M143.5 52.8L143.9 53.4M148.5 52.9L149.1 53.3M15.4 58L16 58.4M20.6 57.9L21 58.5M25.7 57.9L26.2 58.5M30.7 58.1L31.4 58.3M35.8 58.1L36.5 58.3M41 57.9L41.6 58.4M46.1 58L46.7 58.4M51.2 58L51.9 58.3M56.4 57.9L56.9 58.5M61.6 57.9L62 58.5M92.2 58L92.8 58.4M97.4 57.9L97.8 58.5M102.4 58L103 58.4M107.5 58.2L108.2 58.2M112.6 58.1L113.3 58.3M117.9 57.9L118.3 58.5M123 57.9L123.5 58.4M128 58L128.7 58.4M133.2 57.9L133.7 58.4M138.3 57.9L138.8 58.4M143.3 58.1L144.1 58.2M148.5 58.1L149.2 58.2M15.5 63L15.9 63.5M20.6 63L21.1 63.5M25.6 63.1L26.3 63.4M30.8 63L31.3 63.5M36 63L36.4 63.6M41 63.2L41.6 63.4M46.1 63.3L46.8 63.3M51.3 63L51.8 63.5M56.5 63L56.9 63.6M61.5 63.1L62.1 63.5M92.3 63L92.7 63.6M97.4 63L97.9 63.5M102.4 63.1L103.1 63.4M107.6 63L108.1 63.5M112.7 63.1L113.3 63.5M117.7 63.2L118.5 63.3M122.9 63.2L123.6 63.4M128.2 63L128.5 63.6M133.3 63L133.7 63.6M138.3 63.1L138.9 63.4M143.4 63.1L144 63.4M148.5 63L149.1 63.5M15.3 68.3L16.1 68.4M20.5 68.3L21.2 68.4M25.7 68.1L26.2 68.6M30.9 68.1L31.2 68.7M35.9 68.2L36.5 68.6M41 68.2L41.6 68.5M46.2 68.1L46.7 68.6M51.2 68.2L51.9 68.5M56.3 68.3L57 68.4M61.5 68.2L62.1 68.6M66.8 68L67 68.7M71.7 68.1L72.3 68.6M76.8 68.3L77.5 68.5M82 68.2L82.6 68.6M87.1 68.2L87.7 68.6M92.1 68.3L92.9 68.4M97.3 68.2L97.9 68.5M102.6 68L102.9 68.7M107.6 68.1L108.1 68.7M112.6 68.3L113.3 68.5M117.8 68.2L118.4 68.5M122.9 68.1L123.5 68.6M128 68.2L128.7 68.5M133.1 68.3L133.8 68.5M143.5 68L143.9 68.7M148.5 68.2L149.1 68.5M15.4 73.3L16 73.6M20.5 73.2L21.1 73.7M25.6 73.3L26.3 73.6M30.7 73.4L31.4 73.5M35.9 73.2L36.4 73.7M41.2 73.1L41.4 73.8M46.1 73.3L46.7 73.7M51.2 73.4L51.9 73.5M56.4 73.3L57 73.7M61.5 73.3L62.1 73.7M66.6 73.4L67.2 73.6M71.7 73.3L72.3 73.7M77 73.1L77.3 73.8M82 73.2L82.5 73.7M87 73.4L87.7 73.5M92.2 73.3L92.8 73.6M97.3 73.2L97.9 73.7M102.4 73.3L103.1 73.6M107.5 73.3L108.2 73.6M112.8 73.2L113.2 73.8M117.9 73.2L118.3 73.8M122.9 73.4L123.6 73.6M128 73.4L128.7 73.5M133.2 73.2L133.7 73.7M138.3 73.2L138.9 73.7M143.4 73.3L144 73.6M15.5 78.2L15.9 78.9M20.5 78.4L21.1 78.7M25.6 78.5L26.3 78.6M5.2 83.4L5.8 83.9M10.3 83.4L10.8 83.9M15.4 83.5L16 83.8M20.5 83.4L21.1 83.9M25.8 83.3L26.1 84M5.1 88.6L5.8 88.9M10.2 88.7L10.9 88.7M15.4 88.5L16 88.9M20.6 88.4L21 89M25.7 88.5L26.2 89M5.1 93.7L5.8 94M10.3 93.6L10.8 94.1M15.4 93.6L16 94M20.5 93.8L21.2 93.8M25.6 93.7L26.3 94M5.3 98.6L5.6 99.2M10.3 98.7L10.8 99.2M15.3 98.8L16.1 99M20.5 98.7L21.1 99.1M25.7 98.7L26.2 99.1M5.1 103.9L5.8 104.1M10.3 103.8L10.9 104.2M15.5 103.7L15.9 104.3M20.6 103.7L21 104.3M25.6 103.9L26.3 104.1M30.7 103.9L31.4 104.1M35.9 103.8L36.4 104.2M41 103.8L41.6 104.2M46.1 103.8L46.7 104.2M51.3 103.7L51.8 104.3M56.5 103.7L56.8 104.3M61.4 103.9L62.1 104.1M66.5 104L67.3 104M71.7 103.8L72.3 104.2M76.9 103.7L77.4 104.3M81.9 103.8L82.6 104.2M87.1 103.8L87.7 104.2M92.3 103.7L92.7 104.3M97.3 103.8L97.9 104.2M102.4 104L103.1 104M107.5 103.9L108.2 104.1M112.8 103.7L113.2 104.3M117.8 103.8L118.4 104.2M122.9 103.8L123.5 104.2M128.1 103.7L128.6 104.3M133.2 103.8L133.7 104.2M138.2 104L138.9 104M143.3 103.9L144.1 104.1M148.6 103.7L149 104.3" stroke="#2a2a2a" stroke-width="0.8" fill="none" stroke-linecap="round"/><path d="M41.9 16L41.3 17.5M46.7 15.9L46.4 17.5M51.6 15.9L51.5 17.5M57.1 16L56.6 17.5M41.7 21.1L41.3 22.6M46.7 21L46.4 22.6M52 21.1L51.5 22.6M57 21L56.6 22.6M41.8 26.2L41.3 27.7M47.1 26.3L46.4 27.7M52 26.2L51.5 27.7M56.9 26.1L56.7 27.7M41.8 31.3L41.3 32.8M46.7 31.2L46.4 32.8M52 31.2L51.5 32.8M57.3 31.3L56.6 32.8M41.4 36.3L41.3 37.9M46.7 36.3L46.4 37.9M52.1 36.4L51.5 37.9M57.1 36.3L56.6 37.9M3.6 41.9L6 43.2M8.6 42.3L11.2 43.1M41.8 41.5L41.3 43M46.9 41.4L46.4 43M51.7 41.4L51.5 43M56.9 41.4L56.7 43M3.5 47.2L6 48.3M8.5 47.4L11.2 48.2M41.9 46.6L41.3 48.1M46.7 46.5L46.4 48.1M51.9 46.5L51.5 48.1M57.1 46.5L56.6 48.1M3.5 52.4L6.1 53.3M8.8 52L11.1 53.4M41.6 51.6L41.3 53.2M47 51.7L46.4 53.1M52.2 51.7L51.5 53.1M56.9 51.6L56.7 53.2M3.5 57.3L6 58.4M8.5 57.5L11.2 58.4M68.5 58.1L66.8 58.2M73.6 57.9L71.9 58.2M83.9 58.4L82.2 58.2M3.4 62.9L6.1 63.4M8.5 62.8L11.2 63.4M68.5 63.3L66.8 63.3M73.6 63.4L71.9 63.3M78.7 63.2L77 63.3M83.8 63L82.2 63.3M3.5 67.5L6 68.6M8.6 67.5L11.2 68.6M3.6 72.4L6 73.8M8.5 72.8L11.2 73.7M3.4 78L6.1 78.7M8.7 77.6L11.1 78.8M29.3 78.6L31.4 78.5M34.4 78.5L36.5 78.6M39.5 78.7L41.6 78.5M44.6 78.5L46.7 78.6M49.8 78.2L51.8 78.6M54.9 78.5L57 78.6M60 78.9L62.1 78.5M65.1 78.7L67.2 78.5M70.2 78.4L72.3 78.6M75.3 78.6L77.4 78.5M80.5 78.6L82.6 78.5M85.6 78.3L87.7 78.6M90.7 78.4L92.8 78.6M95.8 78.8L97.9 78.5M101 78.8L103 78.5M106.1 78.4L108.2 78.6M111.2 78.4L113.3 78.6M116.3 78.6L118.4 78.5M121.4 78.4L123.5 78.6M126.6 78.3L128.6 78.6M131.7 78.7L133.8 78.5M136.8 78.9L138.9 78.5M141.9 78.5L144 78.6M147 78.3L149.1 78.6M29.3 83.7L31.4 83.6M34.4 84L36.5 83.6M39.5 83.7L41.6 83.6M44.6 83.4L46.7 83.7M49.7 83.6L51.8 83.6M54.9 83.7L57 83.6M60 83.4L62.1 83.7M65.1 83.5L67.2 83.7M70.2 84L72.3 83.6M75.4 83.9L77.4 83.6M80.5 83.5L82.6 83.7M85.6 83.5L87.7 83.7M90.7 83.7L92.8 83.6M95.8 83.6L97.9 83.7M100.9 83.5L103 83.7M106.1 83.8L108.2 83.6M111.2 84L113.3 83.6M116.3 83.5L118.4 83.7M121.4 83.4L123.5 83.7M126.5 83.6L128.6 83.6M131.7 83.7L133.8 83.6M136.8 83.5L138.9 83.7M141.9 83.7L144 83.6M147.1 84L149.1 83.6M29.3 88.8L31.4 88.7M34.4 88.6L36.5 88.8M39.5 88.7L41.6 88.7M44.7 89.1L46.7 88.7M49.7 88.9L51.8 88.7M54.9 88.5L57 88.8M60 88.5L62.1 88.8M65.1 88.8L67.2 88.7M70.2 88.7L72.3 88.7M75.3 88.6L77.4 88.7M80.5 89L82.6 88.7M85.6 89L87.7 88.7M90.7 88.5L92.8 88.8M95.8 88.4L97.9 88.8M100.9 88.8L103 88.7M106.1 88.8L108.2 88.7M111.2 88.7L113.3 88.7M116.3 88.8L118.4 88.7M121.4 89L123.5 88.7M126.5 88.7L128.6 88.7M131.7 88.4L133.8 88.8M136.8 88.6L138.9 88.7M141.9 88.9L144 88.7M147 88.8L149.1 88.7M29.3 93.5L31.4 93.9M34.4 93.6L36.5 93.8M39.5 94L41.6 93.8M44.6 93.8L46.7 93.8M49.7 93.8L51.8 93.8M54.9 94L57 93.8M60 94L62.1 93.8M65.1 93.6L67.2 93.9M70.2 93.5L72.3 93.9M75.3 93.9L77.4 93.8M80.5 94L82.6 93.8M85.6 93.8L87.7 93.8M90.7 93.9L92.8 93.8M95.8 94L97.9 93.8M100.9 93.7L103 93.8M106.1 93.5L108.2 93.9M111.2 93.8L113.3 93.8M116.3 94.1L118.4 93.8M121.4 93.9L123.5 93.8M126.5 93.8L128.6 93.8M131.7 94L133.8 93.8M136.8 93.8L138.9 93.8M141.9 93.5L144 93.9M147 93.7L149.1 93.8M29.3 99.1L31.4 98.9M34.4 99L36.5 98.9M39.5 98.6L41.6 99M44.6 98.6L46.7 99M49.7 99.1L51.8 98.9M54.9 99.1L57 98.9M60 98.9L62.1 98.9M65.1 98.9L67.2 98.9M70.2 99.1L72.3 98.9M75.3 98.7L77.4 98.9M80.5 98.6L82.6 99M85.6 99L87.7 98.9M90.7 99.2L92.8 98.9M95.8 98.9L97.9 98.9M100.9 98.8L103 98.9M106.1 99L108.2 98.9M111.2 98.9L113.3 98.9M116.3 98.6L118.4 99M121.4 98.8L123.5 98.9M126.6 99.3L128.6 98.9M131.7 99.1L133.8 98.9M136.8 98.8L138.9 98.9M141.9 98.9L144 98.9M147 99L149.1 98.9" stroke="#1a1a1a" stroke-width="1" fill="none"/><path d="M40.7 18.9L40.5 17.2L42.1 17.8ZM46.2 19L45.6 17.4L47.3 17.7ZM51.4 19L50.7 17.5L52.4 17.6ZM56.2 19L55.8 17.3L57.5 17.8ZM40.9 24.1L40.5 22.4L42.1 22.8ZM46.1 24.1L45.6 22.4L47.2 22.8ZM51.1 24L50.7 22.3L52.3 22.9ZM56.3 24.1L55.8 22.4L57.5 22.8ZM40.8 29.1L40.5 27.4L42.1 28ZM45.7 29L45.6 27.3L47.2 28.1ZM51.1 29.1L50.7 27.5L52.3 27.9ZM56.5 29.2L55.8 27.6L57.5 27.8ZM40.8 34.2L40.5 32.5L42.1 33ZM46.1 34.3L45.6 32.6L47.2 33ZM51.1 34.2L50.7 32.6L52.3 33ZM56 34.1L55.9 32.4L57.4 33.2ZM41.2 39.4L40.4 37.8L42.1 37.9ZM46.1 39.4L45.6 37.7L47.2 38ZM51 39.3L50.7 37.6L52.3 38.2ZM56.2 39.3L55.8 37.6L57.5 38.1ZM7.4 43.9L5.6 44L6.4 42.5ZM12.6 43.6L10.9 43.9L11.4 42.3ZM40.8 44.4L40.5 42.7L42.1 43.2ZM46 44.4L45.6 42.7L47.2 43.2ZM51.4 44.5L50.7 42.9L52.4 43ZM56.4 44.5L55.8 42.8L57.5 43.1ZM7.4 48.8L5.7 49L6.4 47.5ZM12.6 48.6L10.9 49L11.4 47.4ZM40.7 49.5L40.5 47.7L42.1 48.4ZM46.1 49.5L45.6 47.9L47.2 48.2ZM51.2 49.5L50.7 47.9L52.4 48.2ZM56.2 49.5L55.8 47.8L57.5 48.3ZM7.5 53.8L5.8 54.1L6.3 52.5ZM12.4 54.2L10.7 54.2L11.6 52.7ZM41 54.6L40.5 53L42.1 53.3ZM45.8 54.5L45.6 52.8L47.2 53.5ZM50.9 54.5L50.7 52.8L52.3 53.5ZM56.4 54.6L55.8 53L57.5 53.3ZM7.4 59L5.7 59.2L6.4 57.7ZM12.6 58.8L10.9 59.2L11.4 57.6ZM65.3 58.3L66.7 57.4L66.9 59ZM70.5 58.5L71.8 57.4L72.1 59ZM80.7 58L82.2 57.3L82.1 59ZM7.6 63.7L5.9 64.2L6.2 62.6ZM12.7 63.8L11 64.3L11.4 62.6ZM65.3 63.3L66.8 62.4L66.8 64.1ZM70.4 63.1L72 62.4L71.8 64.1ZM75.5 63.3L77 62.4L77.1 64.1ZM80.7 63.6L82 62.5L82.3 64.1ZM7.4 69.2L5.7 69.4L6.4 67.8ZM12.5 69.3L10.8 69.4L11.5 67.9ZM7.3 74.5L5.6 74.5L6.4 73ZM12.6 74.1L10.9 74.5L11.4 72.8ZM7.5 79.1L5.9 79.5L6.3 77.9ZM12.5 79.5L10.8 79.6L11.5 78.1ZM32.9 78.5L31.4 79.4L31.4 77.7ZM38 78.6L36.5 79.4L36.5 77.7ZM43.1 78.4L41.7 79.4L41.5 77.7ZM48.2 78.6L46.7 79.4L46.7 77.7ZM53.3 78.9L51.7 79.4L52 77.8ZM58.5 78.6L56.9 79.4L57 77.7ZM63.6 78.2L62.2 79.3L61.9 77.7ZM68.7 78.4L67.3 79.4L67.1 77.7ZM73.8 78.7L72.3 79.4L72.4 77.7ZM78.9 78.5L77.5 79.4L77.4 77.7ZM84.1 78.5L82.6 79.4L82.5 77.7ZM89.2 78.8L87.6 79.4L87.8 77.8ZM94.3 78.7L92.7 79.4L92.9 77.7ZM99.4 78.3L98 79.3L97.8 77.7ZM104.5 78.3L103.2 79.3L102.9 77.7ZM109.7 78.7L108.1 79.4L108.2 77.7ZM114.8 78.7L113.2 79.4L113.3 77.7ZM119.9 78.5L118.4 79.4L118.4 77.7ZM125 78.7L123.5 79.4L123.6 77.7ZM130.1 78.8L128.5 79.4L128.8 77.7ZM135.3 78.4L133.8 79.4L133.7 77.7ZM140.3 78.2L139 79.3L138.7 77.7ZM145.5 78.6L144 79.4L144 77.7ZM150.6 78.8L149 79.4L149.2 77.7ZM32.9 83.6L31.4 84.5L31.4 82.8ZM37.9 83.3L36.6 84.4L36.3 82.7ZM43.1 83.5L41.6 84.5L41.5 82.8ZM48.2 83.8L46.6 84.5L46.8 82.8ZM53.3 83.7L51.8 84.5L51.9 82.8ZM58.5 83.6L57 84.5L56.9 82.8ZM63.6 83.9L62 84.5L62.2 82.8ZM68.7 83.7L67.1 84.5L67.2 82.8ZM73.8 83.3L72.5 84.4L72.2 82.8ZM78.9 83.4L77.6 84.4L77.3 82.8ZM84.1 83.8L82.5 84.5L82.6 82.8ZM89.2 83.8L87.6 84.5L87.8 82.8ZM94.3 83.6L92.8 84.5L92.8 82.8ZM99.4 83.7L97.9 84.5L98 82.8ZM104.5 83.8L103 84.5L103.1 82.8ZM109.6 83.4L108.3 84.5L108.1 82.8ZM114.7 83.3L113.4 84.4L113.1 82.7ZM119.9 83.7L118.4 84.5L118.4 82.8ZM125 83.9L123.4 84.5L123.7 82.8ZM130.1 83.6L128.6 84.5L128.6 82.8ZM135.3 83.6L133.8 84.5L133.7 82.8ZM140.4 83.8L138.8 84.5L138.9 82.8ZM145.5 83.6L144 84.5L144 82.8ZM150.6 83.3L149.3 84.4L149 82.7ZM32.9 88.7L31.4 89.6L31.3 87.9ZM38 88.9L36.4 89.6L36.6 87.9ZM43.1 88.8L41.6 89.6L41.6 87.9ZM48.2 88.4L46.9 89.5L46.6 87.8ZM53.3 88.6L51.9 89.5L51.8 87.9ZM58.4 89L56.8 89.6L57.1 87.9ZM63.6 88.9L62 89.6L62.2 87.9ZM68.7 88.6L67.2 89.6L67.2 87.9ZM73.8 88.8L72.3 89.6L72.3 87.9ZM78.9 88.8L77.4 89.6L77.5 87.9ZM84 88.5L82.7 89.5L82.5 87.8ZM89.2 88.5L87.8 89.5L87.5 87.8ZM94.3 88.9L92.7 89.6L92.9 87.9ZM99.4 89L97.8 89.6L98.1 87.9ZM104.5 88.7L103.1 89.6L103 87.9ZM109.7 88.6L108.2 89.6L108.1 87.9ZM114.8 88.8L113.2 89.6L113.3 87.9ZM119.9 88.6L118.4 89.6L118.4 87.9ZM125 88.4L123.7 89.5L123.4 87.8ZM130.1 88.8L128.6 89.6L128.7 87.9ZM135.2 89.1L133.6 89.6L133.9 88ZM140.4 88.8L138.8 89.6L138.9 87.9ZM145.5 88.5L144.1 89.5L143.9 87.9ZM150.6 88.7L149.1 89.6L149.1 87.9ZM32.8 94.2L31.2 94.7L31.5 93ZM38 94L36.4 94.7L36.6 93ZM43.1 93.7L41.7 94.6L41.5 92.9ZM48.2 93.8L46.7 94.7L46.7 93ZM53.3 93.9L51.8 94.7L51.9 93ZM58.4 93.6L57.1 94.6L56.9 92.9ZM63.6 93.6L62.2 94.6L62 92.9ZM68.7 94.1L67.1 94.7L67.3 93ZM73.8 94.1L72.2 94.7L72.5 93ZM78.9 93.7L77.5 94.7L77.4 93ZM84.1 93.6L82.6 94.6L82.5 92.9ZM89.2 93.9L87.7 94.7L87.7 93ZM94.3 93.8L92.8 94.7L92.8 93ZM99.4 93.6L98 94.6L97.8 92.9ZM104.5 93.9L103 94.7L103.1 93ZM109.6 94.2L108 94.7L108.3 93ZM114.8 93.8L113.3 94.7L113.3 93ZM119.9 93.5L118.5 94.6L118.3 92.9ZM125 93.8L123.5 94.7L123.5 93ZM130.1 93.9L128.6 94.7L128.7 93ZM135.3 93.7L133.8 94.6L133.7 92.9ZM140.4 93.8L138.9 94.7L138.9 93ZM145.5 94.2L143.8 94.7L144.2 93ZM150.6 94L149 94.7L149.2 93ZM32.9 98.7L31.4 99.7L31.3 98ZM38 98.8L36.5 99.7L36.4 98ZM43.1 99.2L41.5 99.8L41.7 98.1ZM48.2 99.2L46.6 99.8L46.8 98.1ZM53.3 98.7L51.9 99.7L51.7 98ZM58.4 98.7L57.1 99.7L56.9 98ZM63.6 99L62.1 99.8L62.1 98.1ZM68.7 98.9L67.2 99.8L67.2 98.1ZM73.8 98.8L72.4 99.7L72.2 98ZM78.9 99.1L77.4 99.8L77.5 98.1ZM84 99.2L82.4 99.8L82.7 98.1ZM89.2 98.8L87.7 99.7L87.6 98ZM94.3 98.6L92.9 99.7L92.6 98ZM99.4 98.9L97.9 99.8L97.9 98.1ZM104.5 99L103 99.8L103.1 98.1ZM109.7 98.8L108.2 99.7L108.1 98ZM114.8 98.9L113.3 99.8L113.3 98.1ZM119.9 99.2L118.2 99.8L118.5 98.1ZM125 99L123.5 99.8L123.5 98.1ZM130.1 98.6L128.8 99.7L128.5 98ZM135.3 98.7L133.8 99.7L133.7 98ZM140.4 99.1L138.8 99.8L139 98.1ZM145.5 98.9L144 99.8L144 98.1ZM150.6 98.9L149.1 99.8L149.1 98.1Z" fill="#1a1a1a"/>
</g>
<path d="M69 10.3H78" stroke="#000" stroke-width="0.9"/><path d="M79.5 10.3l-3 -1.5v3z" fill="#000"/>
<text x="86" y="13.0" class="s">0.5m/s</text>
<text x="130.7" y="13.0" class="m">NOV</text>
<rect x="1" y="87.2" width="17" height="17.3" fill="#fff"/>
<text x="2.2" y="100.4" class="l">(f)</text>
<rect width="154.5" height="104.5" fill="none" stroke="#5a5a5a" stroke-width="1"/>
</g>
<text x="22.8" y="27.0" text-anchor="end" class="t">20<tspan font-size="7" dy="-5">o</tspan><tspan dy="5">N</tspan></text>
<text x="22.8" y="45.0" text-anchor="end" class="t">15<tspan font-size="7" dy="-5">o</tspan><tspan dy="5">N</tspan></text>
<text x="22.8" y="62.3" text-anchor="end" class="t">10<tspan font-size="7" dy="-5">o</tspan><tspan dy="5">N</tspan></text>
<text x="22.8" y="80.0" text-anchor="end" class="t">5<tspan font-size="7" dy="-5">o</tspan><tspan dy="5">N</tspan></text>
<text x="22.8" y="97.5" text-anchor="end" class="t">0<tspan font-size="7" dy="-5">o</tspan><tspan dy="5"></tspan></text>
<text x="22.8" y="150.6" text-anchor="end" class="t">20<tspan font-size="7" dy="-5">o</tspan><tspan dy="5">N</tspan></text>
<text x="22.8" y="168.6" text-anchor="end" class="t">15<tspan font-size="7" dy="-5">o</tspan><tspan dy="5">N</tspan></text>
<text x="22.8" y="185.9" text-anchor="end" class="t">10<tspan font-size="7" dy="-5">o</tspan><tspan dy="5">N</tspan></text>
<text x="22.8" y="203.6" text-anchor="end" class="t">5<tspan font-size="7" dy="-5">o</tspan><tspan dy="5">N</tspan></text>
<text x="22.8" y="221.1" text-anchor="end" class="t">0<tspan font-size="7" dy="-5">o</tspan><tspan dy="5"></tspan></text>
<text x="44.3" y="245.5" text-anchor="middle" class="t">60<tspan font-size="7" dy="-5">o</tspan><tspan dy="5">E</tspan></text>
<text x="78.4" y="245.5" text-anchor="middle" class="t">70<tspan font-size="7" dy="-5">o</tspan><tspan dy="5">E</tspan></text>
<text x="112.5" y="245.5" text-anchor="middle" class="t">80<tspan font-size="7" dy="-5">o</tspan><tspan dy="5">E</tspan></text>
<text x="146.6" y="245.5" text-anchor="middle" class="t">90<tspan font-size="7" dy="-5">o</tspan><tspan dy="5">E</tspan></text>
<text x="207.3" y="245.5" text-anchor="middle" class="t">60<tspan font-size="7" dy="-5">o</tspan><tspan dy="5">E</tspan></text>
<text x="241.4" y="245.5" text-anchor="middle" class="t">70<tspan font-size="7" dy="-5">o</tspan><tspan dy="5">E</tspan></text>
<text x="275.5" y="245.5" text-anchor="middle" class="t">80<tspan font-size="7" dy="-5">o</tspan><tspan dy="5">E</tspan></text>
<text x="309.6" y="245.5" text-anchor="middle" class="t">90<tspan font-size="7" dy="-5">o</tspan><tspan dy="5">E</tspan></text>
<text x="370.3" y="245.5" text-anchor="middle" class="t">60<tspan font-size="7" dy="-5">o</tspan><tspan dy="5">E</tspan></text>
<text x="404.4" y="245.5" text-anchor="middle" class="t">70<tspan font-size="7" dy="-5">o</tspan><tspan dy="5">E</tspan></text>
<text x="438.5" y="245.5" text-anchor="middle" class="t">80<tspan font-size="7" dy="-5">o</tspan><tspan dy="5">E</tspan></text>
<text x="472.6" y="245.5" text-anchor="middle" class="t">90<tspan font-size="7" dy="-5">o</tspan><tspan dy="5">E</tspan></text>
<rect x="518" y="94.23" width="10.3" height="3.07" fill="#12498f"/>
<rect x="518" y="91.47" width="10.3" height="3.07" fill="#175aa0"/>
<rect x="518" y="88.70" width="10.3" height="3.07" fill="#1e66ac"/>
<rect x="518" y="85.93" width="10.3" height="3.07" fill="#2470b5"/>
<rect x="518" y="83.17" width="10.3" height="3.07" fill="#2b7bbc"/>
<rect x="518" y="80.40" width="10.3" height="3.07" fill="#3c8cc6"/>
<rect x="518" y="77.63" width="10.3" height="3.07" fill="#529ed0"/>
<rect x="518" y="74.87" width="10.3" height="3.07" fill="#68aed9"/>
<rect x="518" y="72.10" width="10.3" height="3.07" fill="#7cbbdf"/>
<rect x="518" y="69.33" width="10.3" height="3.07" fill="#91c6e3"/>
<rect x="518" y="66.57" width="10.3" height="3.07" fill="#a2cfe7"/>
<rect x="518" y="63.80" width="10.3" height="3.07" fill="#b6daec"/>
<rect x="518" y="61.03" width="10.3" height="3.07" fill="#c9e2ef"/>
<rect x="518" y="58.27" width="10.3" height="3.07" fill="#e5f0f3"/>
<rect x="518" y="55.50" width="10.3" height="3.07" fill="#f9f9fa"/>
<rect x="518" y="52.73" width="10.3" height="3.07" fill="#fbf0e9"/>
<rect x="518" y="49.97" width="10.3" height="3.07" fill="#fce5d9"/>
<rect x="518" y="47.20" width="10.3" height="3.07" fill="#fbd8c6"/>
<rect x="518" y="44.43" width="10.3" height="3.07" fill="#facab5"/>
<rect x="518" y="41.67" width="10.3" height="3.07" fill="#f8b99f"/>
<rect x="518" y="38.90" width="10.3" height="3.07" fill="#f6a98d"/>
<rect x="518" y="36.13" width="10.3" height="3.07" fill="#f3997c"/>
<rect x="518" y="33.37" width="10.3" height="3.07" fill="#ef896d"/>
<rect x="518" y="30.60" width="10.3" height="3.07" fill="#ea795f"/>
<rect x="518" y="27.83" width="10.3" height="3.07" fill="#e15f4d"/>
<rect x="518" y="25.07" width="10.3" height="3.07" fill="#d54540"/>
<rect x="518" y="22.30" width="10.3" height="3.07" fill="#cc2e38"/>
<rect x="518" y="19.53" width="10.3" height="3.07" fill="#c51c31"/>
<rect x="518" y="16.77" width="10.3" height="3.07" fill="#b8112f"/>
<rect x="518" y="14.00" width="10.3" height="3.07" fill="#a90c31"/>
<text x="531" y="31.2" class="t">36</text>
<text x="531" y="58.9" class="t">34</text>
<text x="531" y="86.6" class="t">32</text>
<rect x="518" y="218.90" width="10.3" height="4.40" fill="#145096"/>
<rect x="518" y="214.80" width="10.3" height="4.40" fill="#1c64aa"/>
<rect x="518" y="210.70" width="10.3" height="4.40" fill="#2773b8"/>
<rect x="518" y="206.60" width="10.3" height="4.40" fill="#3787c3"/>
<rect x="518" y="202.50" width="10.3" height="4.40" fill="#57a3d3"/>
<rect x="518" y="198.40" width="10.3" height="4.40" fill="#77b8de"/>
<rect x="518" y="194.30" width="10.3" height="4.40" fill="#96c8e4"/>
<rect x="518" y="190.20" width="10.3" height="4.40" fill="#b1d8eb"/>
<rect x="518" y="186.10" width="10.3" height="4.40" fill="#cfe5f0"/>
<rect x="518" y="182.00" width="10.3" height="4.40" fill="#f6f8f9"/>
<rect x="518" y="177.90" width="10.3" height="4.40" fill="#fbede5"/>
<rect x="518" y="173.80" width="10.3" height="4.40" fill="#fcdbca"/>
<rect x="518" y="169.70" width="10.3" height="4.40" fill="#fac5ae"/>
<rect x="518" y="165.60" width="10.3" height="4.40" fill="#f7ad91"/>
<rect x="518" y="161.50" width="10.3" height="4.40" fill="#f29678"/>
<rect x="518" y="157.40" width="10.3" height="4.40" fill="#eb7d63"/>
<rect x="518" y="153.30" width="10.3" height="4.40" fill="#dd5748"/>
<rect x="518" y="149.20" width="10.3" height="4.40" fill="#cd333a"/>
<rect x="518" y="145.10" width="10.3" height="4.40" fill="#c4182f"/>
<rect x="518" y="141.00" width="10.3" height="4.40" fill="#ad0d31"/>
<text x="531" y="144.4" class="t">2</text>
<text x="531" y="154.7" class="t">1.5</text>
<text x="531" y="164.9" class="t">1</text>
<text x="531" y="175.2" class="t">0.5</text>
<text x="531" y="185.4" class="t">0</text>
<text x="531" y="195.7" class="t">−0.5</text>
<text x="531" y="205.9" class="t">−1</text>
<text x="531" y="216.2" class="t">−1.5</text>
<text x="531" y="226.4" class="t">−2</text>
</svg>
</body></html>
